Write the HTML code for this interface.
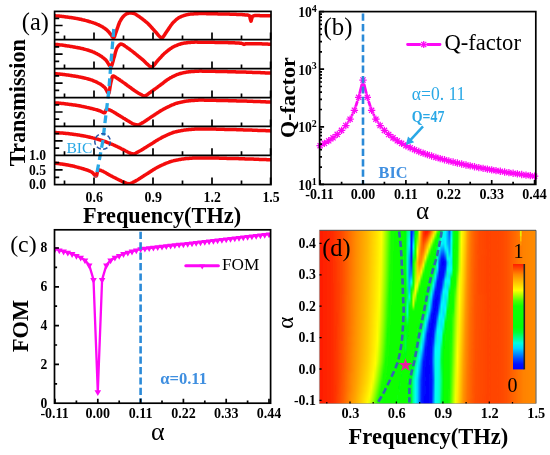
<!DOCTYPE html>
<html lang="en"><head><meta charset="utf-8"><title>BIC metasurface figure</title>
<style>html,body{margin:0;padding:0;background:#fff}body{width:550px;height:455px;overflow:hidden}svg{display:block}svg text{font-family:'Liberation Serif', 'DejaVu Serif', serif}</style>
</head><body>
<svg width="550" height="455" viewBox="0 0 550 455">
<rect width="550" height="455" fill="#fff"/>
<g id="panel-a">
<text x="162" y="222.6" text-anchor="middle" font-weight="bold" font-size="22.3px">Frequency(THz)</text>
<clipPath id="clipA"><rect x="54.6" y="11.4" width="216.4" height="173.2"/></clipPath>
<g clip-path="url(#clipA)" fill="none" stroke="#f40c0c" stroke-width="3.5" stroke-linejoin="round" stroke-linecap="round">
<polyline points="54.6,15.8 55.4,15.8 56.1,15.9 56.9,15.9 57.6,16 58.4,16 59.1,16.1 59.9,16.2 60.6,16.2 61.4,16.3 62.1,16.4 62.9,16.5 63.6,16.6 64.3,16.7 65.1,16.8 65.8,16.9 66.6,17 67.3,17.1 68.1,17.2 68.8,17.3 69.6,17.4 70.3,17.5 71.1,17.6 71.8,17.7 72.6,17.8 73.3,17.9 74.1,18.1 74.8,18.2 75,18.2 75.6,18.3 76.3,18.4 77.1,18.6 77.8,18.7 78.6,18.9 79.3,19 80.1,19.2 80.8,19.3 81.6,19.5 82.3,19.7 83.1,19.9 83.8,20 84.6,20.2 85.3,20.4 86.1,20.6 86.8,20.8 87.6,21 88.3,21.2 89.1,21.5 89.8,21.7 90,21.7 90.6,21.9 91.3,22.1 92.1,22.4 92.8,22.6 93.6,22.9 94.3,23.1 95.1,23.4 95.8,23.7 96.6,24 97.3,24.3 98.1,24.6 98.8,25 99.6,25.3 100,25.5 100.3,25.7 101.1,26.1 101.8,26.5 102.6,26.9 103.3,27.4 104.1,27.9 104.8,28.4 105.6,29 106.3,29.5 107,30.1 107.1,30.2 107.8,30.9 108.6,31.7 109.3,32.6 110.1,33.6 110.8,34.5 111,34.7 111.6,35.5 112.3,36.8 113.1,37.7 113.6,37.9 113.8,37.8 114.6,36.4 115.3,34.1 116,32.2 116.1,32 116.8,29.9 117.6,27.7 118.3,25.5 119.1,23.5 119.8,21.7 120,21.4 120.6,20.4 121.3,19.1 122.1,18 122.8,17 123.6,16.2 124,15.8 124.3,15.5 125.1,14.8 125.8,14.3 126.6,13.8 127.3,13.5 127.5,13.5 128.1,13.3 128.8,13.1 129.6,13 130.3,12.9 130.5,12.9 131.1,13 131.8,13 132.6,13.2 133.3,13.3 134,13.5 134.1,13.5 134.8,13.8 135.6,14.2 136.3,14.7 137.1,15.2 137.5,15.5 137.8,15.7 138.6,16.2 139.3,16.7 140.1,17.3 140.8,17.8 141,17.9 141.6,18.4 142.3,18.9 143.1,19.5 143.8,20.1 144.6,20.7 145.3,21.3 146.1,21.9 146.8,22.6 147.6,23.2 148,23.6 148.3,23.9 149.1,24.7 149.8,25.5 150.6,26.3 151.3,27.1 152.1,28 152.8,28.8 153.6,29.7 154.3,30.5 155,31.2 155.1,31.3 155.8,32.1 156.6,33 157.3,34 158.1,34.9 158.8,35.8 159.6,36.5 160.3,37.1 161.1,37.5 161.8,37.6 161.8,37.6 162.6,37.4 163.3,36.7 164.1,35.7 164.8,34.5 165.6,33.3 166.3,32.1 167,31.2 167.1,31 167.8,30 168.6,28.9 169.3,27.8 170.1,26.6 170.8,25.5 171.6,24.5 172.3,23.5 173,22.8 173.1,22.7 173.8,21.9 174.6,21.2 175.3,20.5 176.1,19.8 176.8,19.2 177.6,18.6 178.3,18.1 179.1,17.6 179.8,17.2 180,17.1 180.6,16.9 181.3,16.5 182.1,16.2 182.8,15.9 183.6,15.7 184.3,15.4 185.1,15.2 185.8,14.9 186.6,14.8 187.3,14.6 188.1,14.4 188.8,14.3 189.6,14.2 190,14.2 190.3,14.1 191.1,14.1 191.8,14 192.6,13.9 193.3,13.9 194.1,13.8 194.8,13.8 195.6,13.7 196.3,13.7 197.1,13.7 197.8,13.7 198.6,13.6 199.3,13.6 200,13.6 200.1,13.6 200.8,13.6 201.6,13.6 202.3,13.6 203.1,13.6 203.8,13.6 204.6,13.6 205.3,13.6 206.1,13.6 206.8,13.7 207.6,13.7 208.3,13.7 209.1,13.7 209.8,13.7 210.6,13.7 211.3,13.7 212.1,13.7 212.8,13.7 213.6,13.8 214.3,13.8 215.1,13.8 215.8,13.8 216.6,13.8 217.3,13.8 218.1,13.9 218.8,13.9 219.6,13.9 220.3,13.9 221.1,13.9 221.8,13.9 222.6,14 223.3,14 224.1,14 224.8,14 225.6,14 226.3,14.1 227.1,14.1 227.8,14.1 228.6,14.1 229.3,14.1 230,14.2 230.1,14.2 230.8,14.2 231.6,14.2 232.3,14.2 233.1,14.2 233.8,14.3 234.6,14.3 235.3,14.3 236.1,14.3 236.8,14.4 237.6,14.4 238.3,14.4 239.1,14.5 239.8,14.5 240.6,14.5 241.3,14.6 242.1,14.6 242.8,14.7 243.6,14.7 244.3,14.8 245.1,14.9 245.8,14.9 246.6,15 247.3,15.1 247.5,15.1 248.1,15.2 248.8,15.4 249.5,15.8 249.6,15.9 250.3,19.1 251,21.2 251.1,21.1 251.8,18.4 252.5,16.3 252.6,16.3 253.3,15.9 254.1,15.7 254.5,15.6 254.8,15.6 255.6,15.6 256.4,15.6 257.1,15.6 257.9,15.6 258.6,15.6 259.4,15.6 260.1,15.7 260.9,15.7 261.6,15.7 262.4,15.7 263.1,15.7 263.9,15.7 264.6,15.7 265.4,15.7 266.1,15.7 266.9,15.7 267.6,15.7 268.4,15.7 269.1,15.7 269.9,15.8 270.6,15.8 271,15.8"/>
<polyline points="54.6,44.4 55.4,44.4 56.1,44.5 56.9,44.6 57.6,44.6 58.4,44.7 59.1,44.8 59.9,44.9 60.6,45 61.4,45 62.1,45.1 62.9,45.2 63.6,45.3 64.3,45.4 65.1,45.5 65.8,45.7 66.6,45.8 67.3,45.9 68.1,46 68.8,46.1 69.6,46.2 70.3,46.4 71.1,46.5 71.8,46.6 72.6,46.7 73.3,46.9 74.1,47 74.8,47.1 75,47.2 75.6,47.3 76.3,47.4 77.1,47.5 77.8,47.7 78.6,47.8 79.3,48 80.1,48.1 80.8,48.3 81.6,48.5 82.3,48.6 83.1,48.8 83.8,49 84.6,49.2 85.3,49.4 86.1,49.6 86.8,49.8 87.6,50 88.3,50.2 89.1,50.5 89.8,50.7 90,50.8 90.6,51 91.3,51.2 92.1,51.5 92.8,51.8 93.6,52.1 94.3,52.5 95.1,52.8 95.8,53.2 96.6,53.6 97.3,54 98.1,54.4 98.8,54.8 99.6,55.3 100,55.5 100.3,55.7 101.1,56.2 101.8,56.7 102.6,57.3 103.3,57.8 104.1,58.5 104.8,59.1 105.6,59.8 106,60.2 106.3,60.6 107.1,61.7 107.8,62.9 108.6,64.2 109.3,65.3 110.1,66.2 110.8,66.6 111,66.6 111.6,66 112.3,63.9 113.1,61 113.8,58.2 114,57.7 114.6,55.7 115.3,52.8 116.1,50.2 116.8,48.2 117,48 117.6,47.1 118.3,46 119.1,45.2 119.8,44.5 120.6,44.1 121,44.1 121.3,44.1 122.1,44.3 122.8,44.6 123.6,45 124.3,45.5 125.1,46.1 125.8,46.6 126.6,47.2 127,47.4 127.3,47.7 128.1,48.2 128.8,48.7 129.6,49.2 130.3,49.8 131.1,50.4 131.8,50.9 132,51 132.6,51.5 133.3,52.1 134.1,52.7 134.8,53.3 135.6,53.9 136.3,54.5 137.1,55.2 137.5,55.5 137.8,55.8 138.6,56.4 139.3,57 140.1,57.6 140.8,58.2 141.6,58.8 142.3,59.4 142.6,59.7 143.1,60.1 143.8,60.8 144.6,61.6 145.3,62.3 146.1,63.1 146.8,63.7 147,63.8 147.6,64.3 148.3,65 149.1,65.7 149.8,66.3 150.6,66.7 151.3,66.9 151.5,66.9 152.1,66.8 152.8,66.4 153.6,65.7 154.3,64.9 155.1,63.9 155.8,62.9 156.6,61.9 157.3,60.9 158,60.2 158.1,60.1 158.8,59.3 159.6,58.5 160.3,57.7 161.1,56.9 161.8,56.1 162.6,55.3 163.3,54.5 164.1,53.8 164.8,53.1 165,53 165.6,52.5 166.3,51.9 167.1,51.2 167.8,50.6 168.6,50 169.3,49.5 170.1,48.9 170.8,48.4 171.6,47.9 172.3,47.4 173.1,47 173.8,46.6 174.6,46.2 175,46 175.3,45.9 176.1,45.6 176.8,45.3 177.6,45 178.3,44.7 179.1,44.4 179.8,44.2 180.6,44 181.3,43.7 182.1,43.5 182.8,43.4 183.6,43.2 184.3,43.1 185,43 185.1,43 185.8,42.9 186.6,42.8 187.3,42.7 188.1,42.6 188.8,42.5 189.6,42.4 190.3,42.4 191.1,42.3 191.8,42.3 192.6,42.2 193.3,42.2 194.1,42.2 194.8,42.1 195,42.1 195.6,42.1 196.3,42.1 197.1,42.1 197.8,42.2 198.6,42.2 199.3,42.2 200.1,42.2 200.8,42.2 201.6,42.2 202.3,42.2 203.1,42.2 203.8,42.2 204.6,42.2 205.3,42.2 206.1,42.2 206.8,42.2 207.6,42.2 208.3,42.2 209.1,42.3 209.8,42.3 210.6,42.3 211.3,42.3 212.1,42.3 212.8,42.3 213.6,42.3 214.3,42.3 215.1,42.4 215.8,42.4 216.6,42.4 217.3,42.4 218.1,42.4 218.8,42.4 219.6,42.4 220.3,42.5 221.1,42.5 221.8,42.5 222.6,42.5 223.3,42.5 224.1,42.5 224.8,42.6 225.6,42.6 226.3,42.6 227.1,42.6 227.8,42.6 228.6,42.7 229.3,42.7 230,42.7 230.1,42.7 230.8,42.7 231.6,42.7 232.3,42.8 233.1,42.8 233.8,42.8 234.6,42.8 235.3,42.9 236.1,42.9 236.8,42.9 237.6,43 238.3,43 239.1,43.1 239.8,43.2 240.6,43.2 241.3,43.3 242,43.4 242.1,43.4 242.8,43.8 243.6,44.3 244,44.4 244.3,44.3 245.1,44 245.8,43.7 246,43.7 246.6,43.7 247.3,43.7 248.1,43.7 248.8,43.7 249.6,43.7 250.3,43.7 251.1,43.7 251.8,43.7 252.6,43.7 253.3,43.7 254.1,43.7 254.8,43.7 255.6,43.7 256.4,43.7 257.1,43.7 257.9,43.7 258.6,43.8 259.4,43.8 260.1,43.8 260.9,43.8 261.6,43.8 262.4,43.9 263.1,43.9 263.9,43.9 264.6,44 265.4,44 266.1,44 266.9,44.1 267.6,44.1 268.4,44.2 269.1,44.2 269.9,44.3 270.6,44.3 271,44.4"/>
<polyline points="54.6,73.6 55.4,73.7 56.1,73.8 56.9,73.8 57.6,73.9 58.4,73.9 59.1,74 59.9,74.1 60.6,74.2 61.4,74.2 62.1,74.3 62.9,74.4 63.6,74.5 64.3,74.6 65.1,74.7 65.8,74.8 66.6,74.9 67.3,75 68.1,75.1 68.8,75.2 69.6,75.3 70.3,75.4 71.1,75.5 71.8,75.7 72.6,75.8 73.3,75.9 74.1,76 74.8,76.1 75,76.2 75.6,76.2 76.3,76.4 77.1,76.5 77.8,76.6 78.6,76.8 79.3,76.9 80.1,77.1 80.8,77.2 81.6,77.4 82.3,77.5 83.1,77.7 83.8,77.9 84.6,78 85.3,78.2 86.1,78.4 86.8,78.6 87.6,78.8 88.3,79 89.1,79.2 89.8,79.4 90,79.5 90.6,79.7 91.3,79.9 92.1,80.2 92.8,80.5 93.6,80.8 94.3,81.1 95.1,81.4 95.8,81.7 96.6,82.1 97.3,82.5 98.1,82.9 98.8,83.3 99.6,83.7 100,83.9 100.3,84.1 101.1,84.6 101.8,85.1 102.6,85.7 103.3,86.3 104.1,86.9 104.8,87.7 105,87.8 105.6,88.6 106.3,90 107.1,91.5 107.8,92.7 108.6,93.4 108.8,93.4 109.3,91.7 110.1,86.7 110.5,84.5 110.8,82.9 111.6,79.5 112.3,76.8 113,75.9 113.1,75.9 113.8,76.1 114.6,76.5 115.3,77.1 116,77.5 116.1,77.6 116.8,78.1 117.6,78.5 118.3,79 119.1,79.5 119.8,80 120.6,80.6 121.3,81.1 122.1,81.6 122.8,82.1 123.6,82.7 124.3,83.2 125,83.7 125.1,83.7 125.8,84.3 126.6,84.8 127.3,85.4 128.1,85.9 128.8,86.5 129.6,87 130.3,87.6 131.1,88.1 131.8,88.7 132.6,89.2 133.3,89.8 134.1,90.3 134.8,90.8 135,90.9 135.6,91.3 136.3,91.8 137.1,92.3 137.8,92.7 138.6,93.2 139.3,93.6 140.1,94 140.8,94.4 141,94.5 141.6,94.8 142.3,95.2 143.1,95.6 143.8,95.8 144.5,95.9 144.6,95.9 145.3,95.7 146.1,95.4 146.8,95 147.6,94.4 148.3,93.8 149.1,93.2 149.8,92.7 150,92.6 150.6,92.2 151.3,91.6 152.1,91.1 152.8,90.6 153.6,90.1 154.3,89.5 155.1,88.9 155.8,88.4 156.6,87.8 157.3,87.3 158.1,86.7 158.8,86.2 159.6,85.6 160,85.3 160.3,85.1 161.1,84.5 161.8,83.9 162.6,83.4 163.3,82.8 164.1,82.2 164.8,81.6 165.6,81 166.3,80.5 167.1,79.9 167.8,79.4 168.6,78.9 169.3,78.5 170,78.1 170.1,78 170.8,77.6 171.6,77.2 172.3,76.8 173.1,76.4 173.8,76.1 174.6,75.7 175.3,75.4 176.1,75 176.8,74.7 177.6,74.4 178.3,74.2 179.1,73.9 179.8,73.7 180,73.6 180.6,73.5 181.3,73.3 182.1,73.1 182.8,72.9 183.6,72.7 184.3,72.6 185.1,72.4 185.8,72.3 186.6,72.1 187.3,72 188.1,71.9 188.8,71.8 189.6,71.7 190,71.7 190.3,71.7 191.1,71.6 191.8,71.5 192.6,71.5 193.3,71.4 194.1,71.4 194.8,71.3 195.6,71.3 196.3,71.2 197.1,71.2 197.8,71.2 198.6,71.2 199.3,71.1 200,71.1 200.1,71.1 200.8,71.1 201.6,71.1 202.3,71.2 203.1,71.2 203.8,71.2 204.6,71.2 205.3,71.2 206.1,71.2 206.8,71.2 207.6,71.2 208.3,71.2 209.1,71.2 209.8,71.2 210.6,71.2 211.3,71.3 212.1,71.3 212.8,71.3 213.6,71.3 214.3,71.3 215.1,71.3 215.8,71.4 216.6,71.4 217.3,71.4 218.1,71.4 218.8,71.4 219.6,71.4 220.3,71.5 221.1,71.5 221.8,71.5 222.6,71.5 223.3,71.5 224.1,71.6 224.8,71.6 225.6,71.6 226.3,71.6 227.1,71.6 227.8,71.7 228.6,71.7 229.3,71.7 230,71.7 230.1,71.7 230.8,71.7 231.6,71.7 232.3,71.8 233.1,71.8 233.8,71.8 234.6,71.8 235.3,71.8 236.1,71.9 236.8,71.9 237.6,71.9 238.3,71.9 239.1,71.9 239.8,72 240.6,72 241.3,72 242.1,72 242.8,72.1 243.6,72.1 244.3,72.1 245.1,72.1 245.8,72.1 246.6,72.2 247.3,72.2 248.1,72.2 248.8,72.2 249.6,72.3 250.3,72.3 251.1,72.3 251.8,72.3 252.6,72.4 253.3,72.4 254.1,72.4 254.8,72.5 255.6,72.5 256.4,72.5 257.1,72.5 257.9,72.6 258.6,72.6 259.4,72.6 260.1,72.6 260.9,72.7 261.6,72.7 262.4,72.7 263.1,72.8 263.9,72.8 264.6,72.8 265.4,72.9 266.1,72.9 266.9,72.9 267.6,72.9 268.4,73 269.1,73 269.9,73 270.6,73.1 271,73.1"/>
<polyline points="54.6,102.9 55.4,102.9 56.1,103 56.9,103 57.6,103.1 58.4,103.1 59.1,103.2 59.9,103.3 60.6,103.3 61.4,103.4 62.1,103.5 62.9,103.6 63.6,103.6 64.3,103.7 65.1,103.8 65.8,103.9 66.6,104 67.3,104.1 68.1,104.2 68.8,104.3 69.6,104.4 70.3,104.5 71.1,104.6 71.8,104.7 72.6,104.8 73.3,104.9 74.1,105 74.8,105.1 75,105.1 75.6,105.2 76.3,105.3 77.1,105.4 77.8,105.6 78.6,105.7 79.3,105.8 80.1,106 80.8,106.1 81.6,106.3 82.3,106.4 83.1,106.6 83.8,106.7 84.6,106.9 85.3,107.1 86.1,107.2 86.8,107.4 87.6,107.6 88.3,107.7 89.1,107.9 89.8,108.1 90,108.1 90.6,108.3 91.3,108.5 92.1,108.6 92.8,108.8 93.6,109 94.3,109.2 95.1,109.4 95.8,109.6 96.6,109.8 97.3,110 98.1,110.3 98.8,110.5 99.6,110.8 100,110.9 100.3,111 101.1,111.4 101.8,111.8 102.6,112.2 103.3,112.6 104.1,112.8 104.6,112.8 104.8,112.7 105.6,111 106.3,109.4 106.6,109.2 107.1,109.3 107.8,109.4 108.6,109.7 109,109.8 109.3,109.9 110.1,110.2 110.8,110.5 111.6,110.9 112.3,111.3 113.1,111.7 113.8,112.2 114.6,112.6 115.3,113.1 116.1,113.6 116.8,114.1 117.6,114.5 118,114.8 118.3,115 119.1,115.4 119.8,115.9 120.6,116.3 121.3,116.8 122.1,117.2 122.8,117.7 123.6,118.2 124.3,118.6 125.1,119.1 125.8,119.6 126.6,120 127.3,120.5 128,120.8 128.1,120.9 128.8,121.3 129.6,121.8 130.3,122.3 131.1,122.7 131.8,123.2 132.6,123.6 133.3,123.9 134,124.1 134.1,124.2 134.8,124.4 135.6,124.7 136.3,124.8 137.1,125 137.5,125 137.8,125 138.6,124.8 139.3,124.5 140.1,124.1 140.8,123.7 141.6,123.3 142,123 142.3,122.9 143.1,122.4 143.8,122 144.6,121.5 145.3,121 146.1,120.5 146.8,120 147.6,119.5 148.3,118.9 149.1,118.4 149.8,117.9 150.6,117.3 151.3,116.8 152,116.4 152.1,116.4 152.8,115.9 153.6,115.4 154.3,114.9 155.1,114.4 155.8,113.9 156.6,113.4 157.3,112.9 158.1,112.4 158.8,112 159.6,111.5 160.3,111 161.1,110.6 161.8,110.1 162.6,109.7 163.3,109.3 164.1,108.9 164.8,108.5 165,108.4 165.6,108.1 166.3,107.7 167.1,107.4 167.8,107 168.6,106.6 169.3,106.3 170.1,105.9 170.8,105.5 171.6,105.2 172.3,104.9 173.1,104.6 173.8,104.3 174.6,104 175.3,103.7 176.1,103.4 176.8,103.2 177.6,103 178,102.9 178.3,102.8 179.1,102.6 179.8,102.4 180.6,102.3 181.3,102.1 182.1,101.9 182.8,101.8 183.6,101.6 184.3,101.5 185.1,101.3 185.8,101.2 186.6,101.1 187.3,101 188.1,100.9 188.8,100.8 189.6,100.7 190,100.7 190.3,100.7 191.1,100.6 191.8,100.5 192.6,100.5 193.3,100.4 194.1,100.4 194.8,100.3 195.6,100.3 196.3,100.2 197.1,100.2 197.8,100.2 198.6,100.1 199.3,100.1 200,100.1 200.1,100.1 200.8,100.1 201.6,100.1 202.3,100.1 203.1,100.1 203.8,100.1 204.6,100.2 205.3,100.2 206.1,100.2 206.8,100.2 207.6,100.2 208.3,100.2 209.1,100.2 209.8,100.2 210.6,100.2 211.3,100.2 212.1,100.3 212.8,100.3 213.6,100.3 214.3,100.3 215.1,100.3 215.8,100.3 216.6,100.4 217.3,100.4 218.1,100.4 218.8,100.4 219.6,100.4 220.3,100.4 221.1,100.5 221.8,100.5 222.6,100.5 223.3,100.5 224.1,100.5 224.8,100.6 225.6,100.6 226.3,100.6 227.1,100.6 227.8,100.6 228.6,100.7 229.3,100.7 230,100.7 230.1,100.7 230.8,100.7 231.6,100.7 232.3,100.7 233.1,100.8 233.8,100.8 234.6,100.8 235.3,100.8 236.1,100.8 236.8,100.9 237.6,100.9 238.3,100.9 239.1,100.9 239.8,100.9 240.6,101 241.3,101 242.1,101 242.8,101 243.6,101.1 244.3,101.1 245.1,101.1 245.8,101.1 246.6,101.1 247.3,101.2 248.1,101.2 248.8,101.2 249.6,101.2 250.3,101.3 251.1,101.3 251.8,101.3 252.6,101.3 253.3,101.4 254.1,101.4 254.8,101.4 255.6,101.5 256.4,101.5 257.1,101.5 257.9,101.5 258.6,101.6 259.4,101.6 260.1,101.6 260.9,101.7 261.6,101.7 262.4,101.7 263.1,101.7 263.9,101.8 264.6,101.8 265.4,101.8 266.1,101.9 266.9,101.9 267.6,101.9 268.4,102 269.1,102 269.9,102 270.6,102 271,102.1"/>
<polyline points="54.6,132.5 55.4,132.6 56.1,132.6 56.9,132.7 57.6,132.7 58.4,132.7 59.1,132.8 59.9,132.9 60.6,132.9 61.4,133 62.1,133 62.9,133.1 63.6,133.2 64.3,133.3 65.1,133.3 65.8,133.4 66.6,133.5 67.3,133.6 68.1,133.6 68.8,133.7 69.6,133.8 70.3,133.9 71.1,134 71.8,134.1 72.6,134.2 73.3,134.3 74.1,134.4 74.8,134.5 75,134.5 75.6,134.6 76.3,134.7 77.1,134.8 77.8,134.9 78.6,135 79.3,135.1 80.1,135.3 80.8,135.4 81.6,135.5 82.3,135.7 83.1,135.8 83.8,135.9 84.6,136.1 85.3,136.2 86.1,136.4 86.8,136.6 87.6,136.7 88.3,136.9 89.1,137 89.8,137.2 90,137.2 90.6,137.4 91.3,137.6 92.1,137.7 92.8,137.9 93.6,138.1 94.3,138.3 95.1,138.5 95.8,138.7 96.6,138.9 97.3,139.1 98.1,139.3 98.8,139.6 99.6,139.8 100.3,140 101.1,140.2 101.8,140.5 102.6,140.7 103,140.9 103.3,141 104.1,141.2 104.8,141.5 105.6,141.7 106.3,142 107.1,142.3 107.8,142.6 108.6,142.9 109.3,143.2 110.1,143.5 110.8,143.8 111.6,144.1 112.3,144.4 113.1,144.7 113.8,145.1 114.6,145.4 115,145.6 115.3,145.7 116.1,146.1 116.8,146.4 117.6,146.8 118.3,147.1 119.1,147.5 119.8,147.9 120.6,148.3 121.3,148.7 122.1,149.1 122.8,149.5 123.6,149.8 124.3,150.2 125,150.5 125.1,150.6 125.8,151 126.6,151.4 127.3,151.8 128.1,152.2 128.8,152.6 129.6,152.9 130,153 130.3,153.2 131.1,153.4 131.8,153.6 132.6,153.8 133.3,153.9 133.5,153.9 134.1,153.8 134.8,153.6 135.6,153.3 136.3,152.8 137.1,152.4 137.8,152 138,151.9 138.6,151.6 139.3,151.2 140.1,150.8 140.8,150.4 141.6,150 142.3,149.5 143.1,149.1 143.8,148.6 144.6,148.1 145.3,147.6 146.1,147.2 146.8,146.7 147.6,146.2 148.3,145.7 149.1,145.3 149.8,144.8 150,144.7 150.6,144.4 151.3,143.9 152.1,143.4 152.8,143 153.6,142.5 154.3,142 155.1,141.5 155.8,141.1 156.6,140.6 157.3,140.1 158.1,139.7 158.8,139.2 159.6,138.8 160.3,138.4 161.1,137.9 161.8,137.5 162.6,137.2 163,137 163.3,136.8 164.1,136.4 164.8,136.1 165.6,135.7 166.3,135.4 167.1,135 167.8,134.7 168.6,134.3 169.3,134 170.1,133.7 170.8,133.4 171.6,133.1 172.3,132.8 173.1,132.5 173.8,132.3 174.6,132.1 175.3,131.9 176,131.7 176.1,131.7 176.8,131.5 177.6,131.4 178.3,131.2 179.1,131 179.8,130.9 180.6,130.8 181.3,130.6 182.1,130.5 182.8,130.4 183.6,130.2 184.3,130.1 185.1,130 185.8,129.9 186.6,129.8 187.3,129.7 188.1,129.7 188.8,129.6 189.6,129.5 190,129.5 190.3,129.5 191.1,129.4 191.8,129.3 192.6,129.3 193.3,129.2 194.1,129.2 194.8,129.1 195.6,129.1 196.3,129 197.1,129 197.8,129 198.6,129 199.3,128.9 200,128.9 200.1,128.9 200.8,128.9 201.6,128.9 202.3,128.9 203.1,128.9 203.8,129 204.6,129 205.3,129 206.1,129 206.8,129 207.6,129 208.3,129 209.1,129 209.8,129 210.6,129 211.3,129.1 212.1,129.1 212.8,129.1 213.6,129.1 214.3,129.1 215.1,129.1 215.8,129.1 216.6,129.2 217.3,129.2 218.1,129.2 218.8,129.2 219.6,129.2 220.3,129.3 221.1,129.3 221.8,129.3 222.6,129.3 223.3,129.3 224.1,129.3 224.8,129.4 225.6,129.4 226.3,129.4 227.1,129.4 227.8,129.4 228.6,129.5 229.3,129.5 230,129.5 230.1,129.5 230.8,129.5 231.6,129.5 232.3,129.5 233.1,129.6 233.8,129.6 234.6,129.6 235.3,129.6 236.1,129.6 236.8,129.7 237.6,129.7 238.3,129.7 239.1,129.7 239.8,129.8 240.6,129.8 241.3,129.8 242.1,129.8 242.8,129.8 243.6,129.9 244.3,129.9 245.1,129.9 245.8,129.9 246.6,130 247.3,130 248.1,130 248.8,130 249.6,130.1 250.3,130.1 251.1,130.1 251.8,130.1 252.6,130.2 253.3,130.2 254.1,130.2 254.8,130.2 255.6,130.3 256.4,130.3 257.1,130.3 257.9,130.4 258.6,130.4 259.4,130.4 260.1,130.4 260.9,130.5 261.6,130.5 262.4,130.5 263.1,130.6 263.9,130.6 264.6,130.6 265.4,130.6 266.1,130.7 266.9,130.7 267.6,130.7 268.4,130.8 269.1,130.8 269.9,130.8 270.6,130.9 271,130.9"/>
<polyline points="54.6,163.2 55.4,163.3 56.1,163.3 56.9,163.4 57.6,163.5 58.4,163.6 59.1,163.7 59.9,163.8 60.6,163.9 61.4,164 62.1,164.1 62.9,164.2 63.6,164.3 64.3,164.5 65.1,164.6 65.8,164.7 66.6,164.8 67.3,165 68.1,165.1 68.8,165.2 69.6,165.4 70,165.5 70.3,165.5 71.1,165.7 71.8,165.8 72.6,166 73.3,166.1 74.1,166.3 74.8,166.5 75.6,166.7 76.3,166.9 77.1,167.1 77.8,167.3 78.6,167.5 79.3,167.7 80.1,167.9 80.8,168.1 81.6,168.3 82.3,168.6 83.1,168.8 83.8,169 84.6,169.3 85,169.4 85.3,169.5 86.1,169.7 86.8,170 87.6,170.2 88.3,170.5 89.1,170.8 89.8,171.1 90.6,171.5 91.3,171.8 92,172.2 92.1,172.3 92.8,172.9 93.6,173.8 94.3,174.8 95.1,175.6 95.8,176.1 96.2,176.1 96.6,175.5 97.3,172.4 98.1,170 98.2,170 98.8,170 99.6,170.1 100,170.2 100.3,170.3 101.1,170.5 101.8,170.8 102.6,171.1 103.3,171.5 104.1,171.9 104.8,172.3 105.6,172.7 106.3,173.2 107.1,173.6 107.8,174.1 108.6,174.5 109.3,174.9 110,175.3 110.1,175.3 110.8,175.7 111.6,176.1 112.3,176.5 113.1,176.9 113.8,177.3 114.6,177.7 115.3,178 116.1,178.4 116.8,178.8 117.6,179.2 118.3,179.6 119.1,179.9 119.8,180.3 120,180.3 120.6,180.6 121.3,181 122.1,181.4 122.8,181.7 123.6,182 124.3,182.4 125,182.6 125.1,182.6 125.8,182.9 126.6,183.2 127.3,183.4 128.1,183.6 128.8,183.7 129,183.7 129.6,183.7 130.3,183.5 131.1,183.2 131.8,182.9 132.6,182.5 133.3,182.1 134,181.8 134.1,181.7 134.8,181.3 135.6,181 136.3,180.5 137.1,180.1 137.8,179.7 138.6,179.2 139.3,178.7 140.1,178.2 140.8,177.8 141.6,177.3 142.3,176.8 143.1,176.3 143.8,175.8 144.6,175.3 145.3,174.8 146,174.4 146.1,174.4 146.8,173.9 147.6,173.5 148.3,173 149.1,172.5 149.8,172 150.6,171.5 151.3,171 152.1,170.6 152.8,170.1 153.6,169.6 154.3,169.1 155.1,168.7 155.8,168.2 156.6,167.8 157.3,167.4 158.1,167 158.8,166.6 159.6,166.2 160,166 160.3,165.9 161.1,165.5 161.8,165.2 162.6,164.8 163.3,164.5 164.1,164.1 164.8,163.8 165.6,163.5 166.3,163.2 167.1,162.9 167.8,162.6 168.6,162.3 169.3,162 170.1,161.8 170.8,161.5 171.6,161.3 172.3,161.1 173.1,160.9 173.8,160.7 174,160.7 174.6,160.5 175.3,160.4 176.1,160.2 176.8,160.1 177.6,159.9 178.3,159.8 179.1,159.6 179.8,159.5 180.6,159.4 181.3,159.2 182.1,159.1 182.8,159 183.6,158.9 184.3,158.8 185.1,158.7 185.8,158.6 186.6,158.5 187.3,158.5 188,158.4 188.1,158.4 188.8,158.4 189.6,158.3 190.3,158.3 191.1,158.2 191.8,158.2 192.6,158.1 193.3,158.1 194.1,158 194.8,158 195.6,158 196.3,157.9 197.1,157.9 197.8,157.9 198.6,157.9 199.3,157.9 200,157.9 200.1,157.9 200.8,157.9 201.6,157.9 202.3,157.9 203.1,157.9 203.8,157.9 204.6,157.9 205.3,157.9 206.1,157.9 206.8,157.9 207.6,157.9 208.3,157.9 209.1,157.9 209.8,158 210.6,158 211.3,158 212.1,158 212.8,158 213.6,158 214.3,158 215.1,158.1 215.8,158.1 216.6,158.1 217.3,158.1 218.1,158.1 218.8,158.1 219.6,158.2 220.3,158.2 221.1,158.2 221.8,158.2 222.6,158.2 223.3,158.3 224.1,158.3 224.8,158.3 225.6,158.3 226.3,158.3 227.1,158.4 227.8,158.4 228.6,158.4 229.3,158.4 230,158.4 230.1,158.4 230.8,158.4 231.6,158.5 232.3,158.5 233.1,158.5 233.8,158.5 234.6,158.5 235.3,158.6 236.1,158.6 236.8,158.6 237.6,158.6 238.3,158.6 239.1,158.7 239.8,158.7 240.6,158.7 241.3,158.7 242.1,158.8 242.8,158.8 243.6,158.8 244.3,158.8 245.1,158.9 245.8,158.9 246.6,158.9 247.3,158.9 248.1,159 248.8,159 249.6,159 250.3,159 251.1,159.1 251.8,159.1 252.6,159.1 253.3,159.1 254.1,159.2 254.8,159.2 255.6,159.2 256.4,159.2 257.1,159.3 257.9,159.3 258.6,159.3 259.4,159.4 260.1,159.4 260.9,159.4 261.6,159.4 262.4,159.5 263.1,159.5 263.9,159.5 264.6,159.6 265.4,159.6 266.1,159.6 266.9,159.7 267.6,159.7 268.4,159.7 269.1,159.8 269.9,159.8 270.6,159.8 271,159.8"/>
</g>
<path d="M113.8 29 L111 62 L108.7 92 L106 114 L102.8 141 L96.2 177" fill="none" stroke="#29a8e6" stroke-width="3.3" stroke-dasharray="7.8 4.6"/>
<circle cx="102.6" cy="141.5" r="7.8" fill="none" stroke="#2455a8" stroke-width="1.5" stroke-dasharray="4.6 2.4"/>
<text x="66.5" y="153" font-size="15.5px" fill="#29a8e6">BIC</text>
<g stroke="#000" stroke-width="1.7" fill="none" stroke-linecap="butt"><rect x="54.6" y="11.4" width="216.4" height="173.2"/><line x1="54.6" y1="39.6" x2="271.0" y2="39.6"/><line x1="54.6" y1="68.6" x2="271.0" y2="68.6"/><line x1="54.6" y1="97.6" x2="271.0" y2="97.6"/><line x1="54.6" y1="126.4" x2="271.0" y2="126.4"/><line x1="54.6" y1="155.3" x2="271.0" y2="155.3"/><path d="M94 39.6v-7M153 39.6v-7M212 39.6v-7M270.6 39.6v-7M64.5 39.6v-4M123.5 39.6v-4M182.5 39.6v-4M241.5 39.6v-4M54.6 25.5h8M54.6 32.5h4.6M54.6 18.4h4.6M94 68.6v-7M153 68.6v-7M212 68.6v-7M270.6 68.6v-7M64.5 68.6v-4M123.5 68.6v-4M182.5 68.6v-4M241.5 68.6v-4M54.6 54.1h8M54.6 61.3h4.6M54.6 46.9h4.6M94 97.6v-7M153 97.6v-7M212 97.6v-7M270.6 97.6v-7M64.5 97.6v-4M123.5 97.6v-4M182.5 97.6v-4M241.5 97.6v-4M54.6 83.1h8M54.6 90.3h4.6M54.6 75.8h4.6M94 126.4v-7M153 126.4v-7M212 126.4v-7M270.6 126.4v-7M64.5 126.4v-4M123.5 126.4v-4M182.5 126.4v-4M241.5 126.4v-4M54.6 112h8M54.6 119.2h4.6M54.6 104.8h4.6M94 155.3v-7M153 155.3v-7M212 155.3v-7M270.6 155.3v-7M64.5 155.3v-4M123.5 155.3v-4M182.5 155.3v-4M241.5 155.3v-4M54.6 140.9h8M54.6 148.1h4.6M54.6 133.6h4.6M94 184.6v-7M153 184.6v-7M212 184.6v-7M270.6 184.6v-7M64.5 184.6v-4M123.5 184.6v-4M182.5 184.6v-4M241.5 184.6v-4M54.6 169.9h8M54.6 177.3h4.6M54.6 162.6h4.6"/></g>
<g font-weight="bold" font-size="13.8px" text-anchor="middle">
<text x="94.2" y="201.8">0.6</text>
<text x="153.2" y="201.8">0.9</text>
<text x="212.2" y="201.8">1.2</text>
<text x="271.1" y="201.8">1.5</text>
</g>
<g font-weight="bold" font-size="13.6px" text-anchor="end">
<text x="46" y="160">1.0</text>
<text x="46" y="174.6">0.5</text>
<text x="46" y="188.6">0.0</text>
</g>
<text x="21.8" y="29.6" font-size="24.4px">(a)</text>
<text transform="translate(25.2 102.6) rotate(-90)" text-anchor="middle" font-weight="bold" font-size="22.3px">Transmission</text>
</g>
<g id="panel-b">
<path d="M351.9 115.5L352.6 114M355.7 106.4L357.4 101.2M359.7 93.3L362 84M364 84L366.3 93.3M368.6 101.2L370.3 106.4M373.4 114L374.1 115.5" fill="none" stroke="#fd08f6" stroke-width="2.8"/>
<polyline points="320.1,145.7 324.4,143.4 328.7,140.8 333,137.8 337.3,134.4 341.6,130.4 345.8,125.5 350.1,119.2 354.4,110.3 358.7,97.3 363,80 367.3,97.3 371.6,110.3 375.9,119.2 380.2,125.5 384.4,130.4 388.7,134.4 393,137.8 397.3,140.8 401.6,143.4 405.9,145.7 410.2,147.8 414.5,149.7 418.8,151.5 423.1,153.1 427.4,154.6 431.6,156 435.9,157.4 440.2,158.6 444.5,159.8 448.8,160.9 453.1,162 457.4,163 461.7,164 466,165 470.2,165.9 474.5,166.7 478.8,167.6 483.1,168.4 487.4,169.1 491.7,169.9 496,170.6 500.3,171.3 504.6,172 508.9,172.6 513.1,173.3 517.4,173.9 521.7,174.5 526,175.1 530.3,175.6 534.6,176.2" fill="none" stroke="#fd08f6" stroke-width="1.5" stroke-linejoin="round" opacity=".85"/>
<path d="M316.4 145.7h7.4M320.1 142v7.4M317.5 143.1l5.2 5.2M317.5 148.3l5.2 -5.2M320.7 143.4h7.4M324.4 139.7v7.4M321.8 140.8l5.2 5.2M321.8 146l5.2 -5.2M325 140.8h7.4M328.7 137.1v7.4M326.1 138.2l5.2 5.2M326.1 143.4l5.2 -5.2M329.3 137.8h7.4M333 134.1v7.4M330.4 135.2l5.2 5.2M330.4 140.5l5.2 -5.2M333.6 134.4h7.4M337.3 130.7v7.4M334.6 131.8l5.2 5.2M334.6 137.1l5.2 -5.2M337.9 130.4h7.4M341.6 126.7v7.4M338.9 127.8l5.2 5.2M338.9 133l5.2 -5.2M342.1 125.5h7.4M345.8 121.8v7.4M343.2 122.9l5.2 5.2M343.2 128.1l5.2 -5.2M346.4 119.2h7.4M350.1 115.5v7.4M347.5 116.6l5.2 5.2M347.5 121.8l5.2 -5.2M350.7 110.3h7.4M354.4 106.6v7.4M351.8 107.6l5.2 5.2M351.8 112.9l5.2 -5.2M355 97.3h7.4M358.7 93.6v7.4M356.1 94.7l5.2 5.2M356.1 99.9l5.2 -5.2M359.3 80h7.4M363 76.3v7.4M360.4 77.4l5.2 5.2M360.4 82.6l5.2 -5.2M363.6 97.3h7.4M367.3 93.6v7.4M364.7 94.7l5.2 5.2M364.7 99.9l5.2 -5.2M367.9 110.3h7.4M371.6 106.6v7.4M369 107.6l5.2 5.2M369 112.9l5.2 -5.2M372.2 119.2h7.4M375.9 115.5v7.4M373.3 116.6l5.2 5.2M373.3 121.8l5.2 -5.2M376.5 125.5h7.4M380.2 121.8v7.4M377.5 122.9l5.2 5.2M377.5 128.1l5.2 -5.2M380.8 130.4h7.4M384.4 126.7v7.4M381.8 127.8l5.2 5.2M381.8 133l5.2 -5.2M385 134.4h7.4M388.7 130.7v7.4M386.1 131.8l5.2 5.2M386.1 137.1l5.2 -5.2M389.3 137.8h7.4M393 134.1v7.4M390.4 135.2l5.2 5.2M390.4 140.5l5.2 -5.2M393.6 140.8h7.4M397.3 137.1v7.4M394.7 138.2l5.2 5.2M394.7 143.4l5.2 -5.2M397.9 143.4h7.4M401.6 139.7v7.4M399 140.8l5.2 5.2M399 146l5.2 -5.2M402.2 145.7h7.4M405.9 142v7.4M403.3 143.1l5.2 5.2M403.3 148.3l5.2 -5.2M406.5 147.8h7.4M410.2 144.1v7.4M407.6 145.2l5.2 5.2M407.6 150.4l5.2 -5.2M410.8 149.7h7.4M414.5 146v7.4M411.9 147.1l5.2 5.2M411.9 152.3l5.2 -5.2M415.1 151.5h7.4M418.8 147.8v7.4M416.2 148.8l5.2 5.2M416.2 154.1l5.2 -5.2M419.4 153.1h7.4M423.1 149.4v7.4M420.4 150.5l5.2 5.2M420.4 155.7l5.2 -5.2M423.7 154.6h7.4M427.4 150.9v7.4M424.7 152l5.2 5.2M424.7 157.2l5.2 -5.2M427.9 156h7.4M431.6 152.3v7.4M429 153.4l5.2 5.2M429 158.6l5.2 -5.2M432.2 157.4h7.4M435.9 153.7v7.4M433.3 154.8l5.2 5.2M433.3 160l5.2 -5.2M436.5 158.6h7.4M440.2 154.9v7.4M437.6 156l5.2 5.2M437.6 161.2l5.2 -5.2M440.8 159.8h7.4M444.5 156.1v7.4M441.9 157.2l5.2 5.2M441.9 162.4l5.2 -5.2M445.1 160.9h7.4M448.8 157.2v7.4M446.2 158.3l5.2 5.2M446.2 163.6l5.2 -5.2M449.4 162h7.4M453.1 158.3v7.4M450.5 159.4l5.2 5.2M450.5 164.6l5.2 -5.2M453.7 163h7.4M457.4 159.3v7.4M454.8 160.4l5.2 5.2M454.8 165.7l5.2 -5.2M458 164h7.4M461.7 160.3v7.4M459.1 161.4l5.2 5.2M459.1 166.6l5.2 -5.2M462.3 165h7.4M466 161.3v7.4M463.3 162.3l5.2 5.2M463.3 167.6l5.2 -5.2M466.6 165.9h7.4M470.2 162.2v7.4M467.6 163.2l5.2 5.2M467.6 168.5l5.2 -5.2M470.8 166.7h7.4M474.5 163v7.4M471.9 164.1l5.2 5.2M471.9 169.3l5.2 -5.2M475.1 167.6h7.4M478.8 163.9v7.4M476.2 164.9l5.2 5.2M476.2 170.2l5.2 -5.2M479.4 168.4h7.4M483.1 164.7v7.4M480.5 165.7l5.2 5.2M480.5 171l5.2 -5.2M483.7 169.1h7.4M487.4 165.4v7.4M484.8 166.5l5.2 5.2M484.8 171.7l5.2 -5.2M488 169.9h7.4M491.7 166.2v7.4M489.1 167.3l5.2 5.2M489.1 172.5l5.2 -5.2M492.3 170.6h7.4M496 166.9v7.4M493.4 168l5.2 5.2M493.4 173.2l5.2 -5.2M496.6 171.3h7.4M500.3 167.6v7.4M497.7 168.7l5.2 5.2M497.7 173.9l5.2 -5.2M500.9 172h7.4M504.6 168.3v7.4M502 169.4l5.2 5.2M502 174.6l5.2 -5.2M505.2 172.6h7.4M508.9 168.9v7.4M506.2 170l5.2 5.2M506.2 175.2l5.2 -5.2M509.4 173.3h7.4M513.1 169.6v7.4M510.5 170.6l5.2 5.2M510.5 175.9l5.2 -5.2M513.7 173.9h7.4M517.4 170.2v7.4M514.8 171.3l5.2 5.2M514.8 176.5l5.2 -5.2M518 174.5h7.4M521.7 170.8v7.4M519.1 171.9l5.2 5.2M519.1 177.1l5.2 -5.2M522.3 175.1h7.4M526 171.4v7.4M523.4 172.5l5.2 5.2M523.4 177.7l5.2 -5.2M526.6 175.6h7.4M530.3 171.9v7.4M527.7 173l5.2 5.2M527.7 178.3l5.2 -5.2M530.9 176.2h7.4M534.6 172.5v7.4M532 173.6l5.2 5.2M532 178.8l5.2 -5.2" fill="none" stroke="#fd08f6" stroke-width="1.25"/>
<line x1="363" y1="13.6" x2="363" y2="184.4" stroke="#2b8ad8" stroke-width="2.6" stroke-dasharray="7.2 3.2"/>
<path d="M407.6 44.5H419.8M427.6 44.5H440" fill="none" stroke="#fd08f6" stroke-width="2.9" stroke-linecap="round"/>
<path d="M420.1 44.5h7.2M423.7 40.9v7.2M421.2 42l5.1 5.1M421.2 47l5.1 -5.1" fill="none" stroke="#fd08f6" stroke-width="1.25"/>
<text x="444.4" y="49.6" font-size="22.6px">Q-factor</text>
<text x="411.8" y="99.6" font-size="18.4px" fill="#29a8e6" textLength="53.6" lengthAdjust="spacingAndGlyphs">&#945;=0. 11</text>
<text x="411.8" y="122" font-size="17.4px" font-weight="bold" fill="#29a8e6" textLength="32.6" lengthAdjust="spacingAndGlyphs">Q=47</text>
<path d="M423 126.4L409 141.6" fill="none" stroke="#29a8e6" stroke-width="2.5"/>
<path d="M405.8 145L408 136.6L414.2 142.2z" fill="#29a8e6"/>
<text x="378.6" y="178.2" font-size="16.3px" font-weight="bold" fill="#3f8fe0">BIC</text>
<g stroke="#000" stroke-width="1.7" fill="none"><rect x="319.6" y="11.6" width="216.19999999999993" height="172.8"/><path d="M320.1 184.4v-4.5M363 184.4v-4.5M405.9 184.4v-4.5M448.8 184.4v-4.5M491.7 184.4v-4.5M534.6 184.4v-4.5M341.6 184.4v-2.6M384.4 184.4v-2.6M427.4 184.4v-2.6M470.2 184.4v-2.6M513.1 184.4v-2.6M319.6 184.4h4.5M319.6 167.1h2.4M319.6 156.9h2.4M319.6 149.7h2.4M319.6 144.1h2.4M319.6 139.6h2.4M319.6 135.7h2.4M319.6 132.4h2.4M319.6 129.4h2.4M319.6 126.8h4.5M319.6 109.5h2.4M319.6 99.3h2.4M319.6 92.1h2.4M319.6 86.5h2.4M319.6 82h2.4M319.6 78.1h2.4M319.6 74.8h2.4M319.6 71.8h2.4M319.6 69.2h4.5M319.6 51.9h2.4M319.6 41.7h2.4M319.6 34.5h2.4M319.6 28.9h2.4M319.6 24.4h2.4M319.6 20.5h2.4M319.6 17.2h2.4M319.6 14.2h2.4M319.6 11.6h4.5"/></g>
<g font-weight="bold" font-size="13.6px">
<text x="298.2" y="190">10<tspan dy="-5.4" font-size="10px">1</tspan></text>
<text x="298.2" y="132.4">10<tspan dy="-5.4" font-size="10px">2</tspan></text>
<text x="298.2" y="74.8">10<tspan dy="-5.4" font-size="10px">3</tspan></text>
<text x="298.2" y="17.2">10<tspan dy="-5.4" font-size="10px">4</tspan></text>
</g>
<g font-weight="bold" font-size="14px" text-anchor="middle">
<text x="319.5" y="199">-0.11</text>
<text x="363" y="199">0.00</text>
<text x="405.9" y="199">0.11</text>
<text x="448.8" y="199">0.22</text>
<text x="491.7" y="199">0.33</text>
<text x="534.6" y="199">0.44</text>
</g>
<text x="323.6" y="34.8" font-size="24.8px">(b)</text>
<text transform="translate(295 97.6) rotate(-90)" text-anchor="middle" font-weight="bold" font-size="22px">Q-factor</text>
<text x="422.6" y="219" text-anchor="middle" font-size="25px">&#945;</text>
</g>
<g id="panel-c">
<rect x="0" y="229.4" width="276" height="225.6" fill="#fff"/>
<clipPath id="clipC"><rect x="54.5" y="229.8" width="216.10000000000002" height="173.39999999999998"/></clipPath>
<g clip-path="url(#clipC)">
<polyline points="55,249 59.3,250.1 63.6,251.3 67.8,252.5 72.1,253.8 76.4,255.6 80.7,257.5 85,260.2 89.2,265.1 93.5,279.6 97.8,391.9 102.1,279.6 106.4,265.1 110.6,260.2 114.9,257.5 119.2,255.6 123.5,253.8 127.8,252.5 132,251.3 136.3,250.1 140.6,249 144.9,248.5 149.2,248 153.4,247.5 157.7,247 162,246.5 166.3,246 170.6,245.5 174.8,245 179.1,244.5 183.4,244.1 187.7,243.6 192,243.1 196.2,242.6 200.5,242.1 204.8,241.6 209.1,241.1 213.4,240.6 217.6,240.1 221.9,239.6 226.2,239.1 230.5,238.6 234.8,238.2 239,237.7 243.3,237.2 247.6,236.7 251.9,236.2 256.2,235.7 260.4,235.2 264.7,234.7 269,234.2" fill="none" stroke="#fd08f6" stroke-width="2.3" stroke-linejoin="round"/>
<path d="M51.7 247.3h6.6l-3.3 5.8zM56 248.4h6.6l-3.3 5.8zM60.3 249.6h6.6l-3.3 5.8zM64.5 250.8h6.6l-3.3 5.8zM68.8 252.1h6.6l-3.3 5.8zM73.1 253.9h6.6l-3.3 5.8zM77.4 255.8h6.6l-3.3 5.8zM81.7 258.5h6.6l-3.3 5.8zM85.9 263.4h6.6l-3.3 5.8zM90.2 277.9h6.6l-3.3 5.8zM94.5 390.2h6.6l-3.3 5.8zM98.8 277.9h6.6l-3.3 5.8zM103.1 263.4h6.6l-3.3 5.8zM107.3 258.5h6.6l-3.3 5.8zM111.6 255.8h6.6l-3.3 5.8zM115.9 253.9h6.6l-3.3 5.8zM120.2 252.1h6.6l-3.3 5.8zM124.5 250.8h6.6l-3.3 5.8zM128.7 249.6h6.6l-3.3 5.8zM133 248.4h6.6l-3.3 5.8zM137.3 247.3h6.6l-3.3 5.8zM141.6 246.8h6.6l-3.3 5.8zM145.9 246.3h6.6l-3.3 5.8zM150.1 245.8h6.6l-3.3 5.8zM154.4 245.3h6.6l-3.3 5.8zM158.7 244.8h6.6l-3.3 5.8zM163 244.3h6.6l-3.3 5.8zM167.3 243.8h6.6l-3.3 5.8zM171.5 243.3h6.6l-3.3 5.8zM175.8 242.8h6.6l-3.3 5.8zM180.1 242.4h6.6l-3.3 5.8zM184.4 241.9h6.6l-3.3 5.8zM188.7 241.4h6.6l-3.3 5.8zM192.9 240.9h6.6l-3.3 5.8zM197.2 240.4h6.6l-3.3 5.8zM201.5 239.9h6.6l-3.3 5.8zM205.8 239.4h6.6l-3.3 5.8zM210.1 238.9h6.6l-3.3 5.8zM214.3 238.4h6.6l-3.3 5.8zM218.6 237.9h6.6l-3.3 5.8zM222.9 237.4h6.6l-3.3 5.8zM227.2 236.9h6.6l-3.3 5.8zM231.5 236.5h6.6l-3.3 5.8zM235.7 236h6.6l-3.3 5.8zM240 235.5h6.6l-3.3 5.8zM244.3 235h6.6l-3.3 5.8zM248.6 234.5h6.6l-3.3 5.8zM252.9 234h6.6l-3.3 5.8zM257.1 233.5h6.6l-3.3 5.8zM261.4 233h6.6l-3.3 5.8zM265.7 232.5h6.6l-3.3 5.8z" fill="#fd08f6"/>
</g>
<line x1="140.6" y1="231.8" x2="140.6" y2="403.2" stroke="#2b8ad8" stroke-width="2.6" stroke-dasharray="7.2 3.2"/>
<line x1="185.8" y1="265.7" x2="218.4" y2="265.7" stroke="#fd08f6" stroke-width="3" stroke-linecap="round"/>
<path d="M199.4 264.6h5.6l-2.8 5z" fill="#fd08f6"/>
<text x="222" y="270.4" font-size="17.2px">FOM</text>
<text x="160.2" y="383.8" font-size="16.6px" font-weight="bold" fill="#3f8fe0">&#945;=0.11</text>
<g stroke="#000" stroke-width="1.7" fill="none"><rect x="54.5" y="229.8" width="216.10000000000002" height="173.39999999999998"/><path d="M55 403.2v-4.5M97.8 403.2v-4.5M140.6 403.2v-4.5M183.4 403.2v-4.5M226.2 403.2v-4.5M269 403.2v-4.5M76.4 403.2v-2.6M119.2 403.2v-2.6M162 403.2v-2.6M204.8 403.2v-2.6M247.6 403.2v-2.6M54.5 364.4h4.5M54.5 325.6h4.5M54.5 286.8h4.5M54.5 248h4.5M54.5 383.8h2.6M54.5 345h2.6M54.5 306.2h2.6M54.5 267.4h2.6"/></g>
<g font-weight="bold" font-size="13.6px" text-anchor="end">
<text x="47.4" y="407.5">0</text>
<text x="47.4" y="368.7">2</text>
<text x="47.4" y="329.9">4</text>
<text x="47.4" y="291.1">6</text>
<text x="47.4" y="252.3">8</text>
</g>
<g font-weight="bold" font-size="14px" text-anchor="middle">
<text x="54.6" y="417.6">-0.11</text>
<text x="97.8" y="417.6">0.00</text>
<text x="140.6" y="417.6">0.11</text>
<text x="183.4" y="417.6">0.22</text>
<text x="226.2" y="417.6">0.33</text>
<text x="269" y="417.6">0.44</text>
</g>
<text x="10.2" y="252" font-size="23.8px">(c)</text>
<text transform="translate(28 326) rotate(-90)" text-anchor="middle" font-weight="bold" font-size="22.4px">FOM</text>
<text x="157.8" y="440.4" text-anchor="middle" font-size="26px">&#945;</text>
</g>
<g id="panel-d">
<defs><linearGradient id="h0"><stop offset="0.0000" stop-color="#ff1c00"/><stop offset="0.0555" stop-color="#ff2900"/><stop offset="0.0832" stop-color="#ff3800"/><stop offset="0.1109" stop-color="#ff5100"/><stop offset="0.1664" stop-color="#ff8900"/><stop offset="0.2218" stop-color="#ffb400"/><stop offset="0.2680" stop-color="#ffe300"/><stop offset="0.2773" stop-color="#ffef00"/><stop offset="0.2865" stop-color="#fffc00"/><stop offset="0.2957" stop-color="#e0ff00"/><stop offset="0.3142" stop-color="#83ff00"/><stop offset="0.3327" stop-color="#1cff00"/><stop offset="0.3420" stop-color="#12ff01"/><stop offset="0.3882" stop-color="#09ff05"/><stop offset="0.3974" stop-color="#03ff08"/><stop offset="0.4067" stop-color="#00ff7d"/><stop offset="0.4159" stop-color="#00ffb4"/><stop offset="0.4251" stop-color="#0018ff"/><stop offset="0.4344" stop-color="#0056ff"/><stop offset="0.4436" stop-color="#00ff0a"/><stop offset="0.4529" stop-color="#11ff01"/><stop offset="0.4621" stop-color="#efff00"/><stop offset="0.4713" stop-color="#ffa700"/><stop offset="0.4806" stop-color="#ff4d00"/><stop offset="0.4898" stop-color="#ff1c00"/><stop offset="0.4991" stop-color="#ff1c00"/><stop offset="0.5083" stop-color="#ff1c00"/><stop offset="0.5176" stop-color="#ff2d00"/><stop offset="0.5360" stop-color="#ffbc00"/><stop offset="0.5453" stop-color="#f2ff00"/><stop offset="0.5545" stop-color="#13ff00"/><stop offset="0.5638" stop-color="#04ff08"/><stop offset="0.5730" stop-color="#00ff94"/><stop offset="0.5823" stop-color="#00ffdf"/><stop offset="0.5915" stop-color="#00d2ff"/><stop offset="0.6007" stop-color="#005aff"/><stop offset="0.6100" stop-color="#00e7ff"/><stop offset="0.6192" stop-color="#00ff33"/><stop offset="0.6285" stop-color="#09ff05"/><stop offset="0.6377" stop-color="#12ff01"/><stop offset="0.6562" stop-color="#eeff00"/><stop offset="0.6654" stop-color="#ffea00"/><stop offset="0.6747" stop-color="#ffcc00"/><stop offset="0.6839" stop-color="#ffa500"/><stop offset="0.6932" stop-color="#ff8700"/><stop offset="0.7024" stop-color="#ff7200"/><stop offset="0.7209" stop-color="#ff5900"/><stop offset="0.7394" stop-color="#ff4a00"/><stop offset="0.7763" stop-color="#ff4300"/><stop offset="0.8318" stop-color="#ff4600"/><stop offset="0.8688" stop-color="#ff5200"/><stop offset="0.8872" stop-color="#ff5f00"/><stop offset="0.9427" stop-color="#ff8200"/><stop offset="0.9982" stop-color="#ff8c00"/></linearGradient><linearGradient id="h1"><stop offset="0.0000" stop-color="#ff1c00"/><stop offset="0.0555" stop-color="#ff2900"/><stop offset="0.0832" stop-color="#ff3800"/><stop offset="0.1109" stop-color="#ff5100"/><stop offset="0.1664" stop-color="#ff8900"/><stop offset="0.2218" stop-color="#ffb500"/><stop offset="0.2773" stop-color="#ffef00"/><stop offset="0.2865" stop-color="#fffd00"/><stop offset="0.2957" stop-color="#deff00"/><stop offset="0.3142" stop-color="#81ff00"/><stop offset="0.3327" stop-color="#1aff00"/><stop offset="0.3420" stop-color="#12ff01"/><stop offset="0.3882" stop-color="#09ff05"/><stop offset="0.3974" stop-color="#03ff08"/><stop offset="0.4067" stop-color="#00ff7b"/><stop offset="0.4159" stop-color="#00ffb0"/><stop offset="0.4251" stop-color="#001aff"/><stop offset="0.4344" stop-color="#0059ff"/><stop offset="0.4436" stop-color="#01ff0a"/><stop offset="0.4529" stop-color="#12ff01"/><stop offset="0.4621" stop-color="#fffe00"/><stop offset="0.4713" stop-color="#ff9f00"/><stop offset="0.4806" stop-color="#ff4500"/><stop offset="0.4898" stop-color="#ff1c00"/><stop offset="0.4991" stop-color="#ff1c00"/><stop offset="0.5083" stop-color="#ff1c00"/><stop offset="0.5176" stop-color="#ff4400"/><stop offset="0.5268" stop-color="#ff9000"/><stop offset="0.5360" stop-color="#ffd200"/><stop offset="0.5453" stop-color="#c1ff00"/><stop offset="0.5545" stop-color="#11ff01"/><stop offset="0.5638" stop-color="#02ff09"/><stop offset="0.5730" stop-color="#00ffab"/><stop offset="0.5823" stop-color="#00ffee"/><stop offset="0.5915" stop-color="#00cbff"/><stop offset="0.6007" stop-color="#0056ff"/><stop offset="0.6100" stop-color="#00e5ff"/><stop offset="0.6192" stop-color="#00ff33"/><stop offset="0.6285" stop-color="#09ff05"/><stop offset="0.6377" stop-color="#12ff01"/><stop offset="0.6562" stop-color="#f0ff00"/><stop offset="0.6654" stop-color="#ffe900"/><stop offset="0.6747" stop-color="#ffcb00"/><stop offset="0.6839" stop-color="#ffa400"/><stop offset="0.6932" stop-color="#ff8700"/><stop offset="0.7024" stop-color="#ff7200"/><stop offset="0.7209" stop-color="#ff5900"/><stop offset="0.7394" stop-color="#ff4a00"/><stop offset="0.7763" stop-color="#ff4300"/><stop offset="0.8318" stop-color="#ff4600"/><stop offset="0.8688" stop-color="#ff5200"/><stop offset="0.8872" stop-color="#ff5f00"/><stop offset="0.9427" stop-color="#ff8200"/><stop offset="0.9982" stop-color="#ff8c00"/></linearGradient><linearGradient id="h2"><stop offset="0.0000" stop-color="#ff1c00"/><stop offset="0.0555" stop-color="#ff2900"/><stop offset="0.1017" stop-color="#ff4800"/><stop offset="0.1109" stop-color="#ff5100"/><stop offset="0.1664" stop-color="#ff8900"/><stop offset="0.2218" stop-color="#ffb500"/><stop offset="0.2680" stop-color="#ffe400"/><stop offset="0.2773" stop-color="#fff000"/><stop offset="0.2865" stop-color="#fffd00"/><stop offset="0.2957" stop-color="#dbff00"/><stop offset="0.3142" stop-color="#7eff00"/><stop offset="0.3327" stop-color="#18ff00"/><stop offset="0.3882" stop-color="#0aff05"/><stop offset="0.3974" stop-color="#03ff08"/><stop offset="0.4067" stop-color="#00ff79"/><stop offset="0.4159" stop-color="#00ffaf"/><stop offset="0.4251" stop-color="#001cff"/><stop offset="0.4344" stop-color="#005cff"/><stop offset="0.4436" stop-color="#01ff09"/><stop offset="0.4529" stop-color="#13ff01"/><stop offset="0.4621" stop-color="#fff500"/><stop offset="0.4713" stop-color="#ff9700"/><stop offset="0.4806" stop-color="#ff3e00"/><stop offset="0.4898" stop-color="#ff1c00"/><stop offset="0.4991" stop-color="#ff1c00"/><stop offset="0.5083" stop-color="#ff2000"/><stop offset="0.5176" stop-color="#ff5e00"/><stop offset="0.5268" stop-color="#ffa600"/><stop offset="0.5360" stop-color="#ffe900"/><stop offset="0.5453" stop-color="#91ff00"/><stop offset="0.5545" stop-color="#10ff02"/><stop offset="0.5638" stop-color="#01ff09"/><stop offset="0.5730" stop-color="#00ffbe"/><stop offset="0.5823" stop-color="#00fffa"/><stop offset="0.5915" stop-color="#00c5ff"/><stop offset="0.6007" stop-color="#0053ff"/><stop offset="0.6100" stop-color="#00e4ff"/><stop offset="0.6192" stop-color="#00ff33"/><stop offset="0.6285" stop-color="#09ff05"/><stop offset="0.6377" stop-color="#12ff01"/><stop offset="0.6562" stop-color="#f2ff00"/><stop offset="0.6654" stop-color="#ffe800"/><stop offset="0.6747" stop-color="#ffca00"/><stop offset="0.6839" stop-color="#ffa300"/><stop offset="0.6932" stop-color="#ff8600"/><stop offset="0.7024" stop-color="#ff7200"/><stop offset="0.7209" stop-color="#ff5900"/><stop offset="0.7394" stop-color="#ff4a00"/><stop offset="0.7763" stop-color="#ff4300"/><stop offset="0.8318" stop-color="#ff4600"/><stop offset="0.8688" stop-color="#ff5200"/><stop offset="0.8872" stop-color="#ff5f00"/><stop offset="0.9427" stop-color="#ff8200"/><stop offset="0.9982" stop-color="#ff8c00"/></linearGradient><linearGradient id="h3"><stop offset="0.0000" stop-color="#ff1c00"/><stop offset="0.0555" stop-color="#ff2900"/><stop offset="0.1017" stop-color="#ff4800"/><stop offset="0.1109" stop-color="#ff5100"/><stop offset="0.1664" stop-color="#ff8900"/><stop offset="0.2218" stop-color="#ffb500"/><stop offset="0.2773" stop-color="#fff000"/><stop offset="0.2865" stop-color="#fffe00"/><stop offset="0.2957" stop-color="#daff00"/><stop offset="0.3142" stop-color="#7cff00"/><stop offset="0.3327" stop-color="#16ff00"/><stop offset="0.3882" stop-color="#0aff05"/><stop offset="0.3974" stop-color="#04ff08"/><stop offset="0.4067" stop-color="#00ff79"/><stop offset="0.4159" stop-color="#00ffae"/><stop offset="0.4251" stop-color="#001aff"/><stop offset="0.4344" stop-color="#0063ff"/><stop offset="0.4436" stop-color="#02ff09"/><stop offset="0.4529" stop-color="#14ff00"/><stop offset="0.4621" stop-color="#ffed00"/><stop offset="0.4713" stop-color="#ff9000"/><stop offset="0.4806" stop-color="#ff3800"/><stop offset="0.4898" stop-color="#ff1c00"/><stop offset="0.4991" stop-color="#ff1c00"/><stop offset="0.5083" stop-color="#ff3600"/><stop offset="0.5268" stop-color="#ffbf00"/><stop offset="0.5360" stop-color="#faff00"/><stop offset="0.5453" stop-color="#5cff00"/><stop offset="0.5545" stop-color="#0dff03"/><stop offset="0.5638" stop-color="#00ff20"/><stop offset="0.5730" stop-color="#00ffd3"/><stop offset="0.5823" stop-color="#00fbff"/><stop offset="0.5915" stop-color="#00bfff"/><stop offset="0.6007" stop-color="#0054ff"/><stop offset="0.6100" stop-color="#00e5ff"/><stop offset="0.6192" stop-color="#00ff32"/><stop offset="0.6285" stop-color="#09ff05"/><stop offset="0.6377" stop-color="#12ff01"/><stop offset="0.6562" stop-color="#f4ff00"/><stop offset="0.6654" stop-color="#ffe700"/><stop offset="0.6747" stop-color="#ffc900"/><stop offset="0.6839" stop-color="#ffa200"/><stop offset="0.6932" stop-color="#ff8500"/><stop offset="0.7024" stop-color="#ff7100"/><stop offset="0.7209" stop-color="#ff5800"/><stop offset="0.7394" stop-color="#ff4a00"/><stop offset="0.7763" stop-color="#ff4300"/><stop offset="0.8318" stop-color="#ff4600"/><stop offset="0.8688" stop-color="#ff5200"/><stop offset="0.8872" stop-color="#ff5f00"/><stop offset="0.9427" stop-color="#ff8200"/><stop offset="0.9982" stop-color="#ff8c00"/></linearGradient><linearGradient id="h4"><stop offset="0.0000" stop-color="#ff1c00"/><stop offset="0.0555" stop-color="#ff2900"/><stop offset="0.0924" stop-color="#ff4000"/><stop offset="0.1109" stop-color="#ff5100"/><stop offset="0.1664" stop-color="#ff8900"/><stop offset="0.2218" stop-color="#ffb600"/><stop offset="0.2680" stop-color="#ffe500"/><stop offset="0.2773" stop-color="#fff100"/><stop offset="0.2865" stop-color="#ffff00"/><stop offset="0.2957" stop-color="#d8ff00"/><stop offset="0.3142" stop-color="#7bff00"/><stop offset="0.3235" stop-color="#45ff00"/><stop offset="0.3327" stop-color="#14ff00"/><stop offset="0.3882" stop-color="#09ff05"/><stop offset="0.3974" stop-color="#03ff08"/><stop offset="0.4067" stop-color="#00ff7f"/><stop offset="0.4159" stop-color="#00ffb9"/><stop offset="0.4251" stop-color="#0014ff"/><stop offset="0.4344" stop-color="#0076ff"/><stop offset="0.4436" stop-color="#03ff08"/><stop offset="0.4529" stop-color="#27ff00"/><stop offset="0.4621" stop-color="#ffe400"/><stop offset="0.4713" stop-color="#ff8a00"/><stop offset="0.4806" stop-color="#ff3700"/><stop offset="0.4898" stop-color="#ff1e00"/><stop offset="0.4991" stop-color="#ff2400"/><stop offset="0.5083" stop-color="#ff5300"/><stop offset="0.5176" stop-color="#ff9900"/><stop offset="0.5268" stop-color="#ffda00"/><stop offset="0.5360" stop-color="#beff00"/><stop offset="0.5453" stop-color="#14ff00"/><stop offset="0.5545" stop-color="#09ff05"/><stop offset="0.5638" stop-color="#00ff71"/><stop offset="0.5730" stop-color="#00ffea"/><stop offset="0.5823" stop-color="#00f6ff"/><stop offset="0.5915" stop-color="#00b9ff"/><stop offset="0.6007" stop-color="#005dff"/><stop offset="0.6100" stop-color="#00ebff"/><stop offset="0.6192" stop-color="#00ff30"/><stop offset="0.6285" stop-color="#0aff05"/><stop offset="0.6377" stop-color="#12ff01"/><stop offset="0.6470" stop-color="#89ff00"/><stop offset="0.6562" stop-color="#f7ff00"/><stop offset="0.6654" stop-color="#ffe600"/><stop offset="0.6747" stop-color="#ffc800"/><stop offset="0.6839" stop-color="#ffa000"/><stop offset="0.6932" stop-color="#ff8500"/><stop offset="0.7024" stop-color="#ff7100"/><stop offset="0.7209" stop-color="#ff5800"/><stop offset="0.7394" stop-color="#ff4a00"/><stop offset="0.7763" stop-color="#ff4300"/><stop offset="0.8318" stop-color="#ff4600"/><stop offset="0.8688" stop-color="#ff5200"/><stop offset="0.8872" stop-color="#ff5f00"/><stop offset="0.9427" stop-color="#ff8200"/><stop offset="0.9982" stop-color="#ff8c00"/></linearGradient><linearGradient id="h5"><stop offset="0.0000" stop-color="#ff1c00"/><stop offset="0.0555" stop-color="#ff2900"/><stop offset="0.0924" stop-color="#ff4000"/><stop offset="0.1109" stop-color="#ff5100"/><stop offset="0.1664" stop-color="#ff8900"/><stop offset="0.2218" stop-color="#ffb600"/><stop offset="0.2680" stop-color="#ffe500"/><stop offset="0.2773" stop-color="#fff100"/><stop offset="0.2865" stop-color="#ffff00"/><stop offset="0.2957" stop-color="#d7ff00"/><stop offset="0.3142" stop-color="#79ff00"/><stop offset="0.3235" stop-color="#44ff00"/><stop offset="0.3327" stop-color="#14ff00"/><stop offset="0.3882" stop-color="#09ff05"/><stop offset="0.3974" stop-color="#03ff09"/><stop offset="0.4067" stop-color="#00ff84"/><stop offset="0.4159" stop-color="#00ffc6"/><stop offset="0.4251" stop-color="#0012ff"/><stop offset="0.4344" stop-color="#0089ff"/><stop offset="0.4436" stop-color="#05ff08"/><stop offset="0.4529" stop-color="#3eff00"/><stop offset="0.4621" stop-color="#ffdc00"/><stop offset="0.4713" stop-color="#ff8300"/><stop offset="0.4806" stop-color="#ff3700"/><stop offset="0.4898" stop-color="#ff2900"/><stop offset="0.4991" stop-color="#ff3a00"/><stop offset="0.5083" stop-color="#ff7200"/><stop offset="0.5268" stop-color="#fff600"/><stop offset="0.5360" stop-color="#85ff00"/><stop offset="0.5453" stop-color="#11ff02"/><stop offset="0.5545" stop-color="#05ff07"/><stop offset="0.5638" stop-color="#00ffa7"/><stop offset="0.5730" stop-color="#00fffb"/><stop offset="0.5823" stop-color="#00f4ff"/><stop offset="0.5915" stop-color="#00b7ff"/><stop offset="0.6007" stop-color="#0067ff"/><stop offset="0.6100" stop-color="#00f2ff"/><stop offset="0.6192" stop-color="#00ff2d"/><stop offset="0.6285" stop-color="#0aff05"/><stop offset="0.6377" stop-color="#13ff01"/><stop offset="0.6470" stop-color="#8dff00"/><stop offset="0.6562" stop-color="#f9ff00"/><stop offset="0.6654" stop-color="#ffe500"/><stop offset="0.6747" stop-color="#ffc600"/><stop offset="0.6839" stop-color="#ff9f00"/><stop offset="0.6932" stop-color="#ff8400"/><stop offset="0.7024" stop-color="#ff7000"/><stop offset="0.7209" stop-color="#ff5800"/><stop offset="0.7394" stop-color="#ff4a00"/><stop offset="0.7763" stop-color="#ff4300"/><stop offset="0.8318" stop-color="#ff4600"/><stop offset="0.8688" stop-color="#ff5200"/><stop offset="0.8872" stop-color="#ff5f00"/><stop offset="0.9427" stop-color="#ff8200"/><stop offset="0.9982" stop-color="#ff8c00"/></linearGradient><linearGradient id="h6"><stop offset="0.0000" stop-color="#ff1c00"/><stop offset="0.0555" stop-color="#ff2900"/><stop offset="0.0924" stop-color="#ff4000"/><stop offset="0.1109" stop-color="#ff5100"/><stop offset="0.1664" stop-color="#ff8900"/><stop offset="0.2218" stop-color="#ffb600"/><stop offset="0.2680" stop-color="#ffe500"/><stop offset="0.2773" stop-color="#fff200"/><stop offset="0.2865" stop-color="#feff00"/><stop offset="0.2957" stop-color="#d6ff00"/><stop offset="0.3142" stop-color="#78ff00"/><stop offset="0.3235" stop-color="#42ff00"/><stop offset="0.3327" stop-color="#14ff00"/><stop offset="0.3882" stop-color="#09ff05"/><stop offset="0.3974" stop-color="#03ff09"/><stop offset="0.4067" stop-color="#00ff8a"/><stop offset="0.4159" stop-color="#00ffd3"/><stop offset="0.4251" stop-color="#0010ff"/><stop offset="0.4344" stop-color="#009eff"/><stop offset="0.4436" stop-color="#06ff07"/><stop offset="0.4529" stop-color="#56ff00"/><stop offset="0.4621" stop-color="#ffd300"/><stop offset="0.4713" stop-color="#ff7d00"/><stop offset="0.4806" stop-color="#ff3a00"/><stop offset="0.4898" stop-color="#ff3600"/><stop offset="0.4991" stop-color="#ff5200"/><stop offset="0.5176" stop-color="#ffcf00"/><stop offset="0.5268" stop-color="#d6ff00"/><stop offset="0.5360" stop-color="#48ff00"/><stop offset="0.5453" stop-color="#0eff03"/><stop offset="0.5545" stop-color="#00ff0a"/><stop offset="0.5638" stop-color="#00ffcb"/><stop offset="0.5730" stop-color="#00f8ff"/><stop offset="0.5823" stop-color="#00f6ff"/><stop offset="0.5915" stop-color="#00b6ff"/><stop offset="0.6007" stop-color="#0071ff"/><stop offset="0.6100" stop-color="#00f8ff"/><stop offset="0.6192" stop-color="#00ff2a"/><stop offset="0.6285" stop-color="#0aff05"/><stop offset="0.6377" stop-color="#13ff01"/><stop offset="0.6470" stop-color="#91ff00"/><stop offset="0.6562" stop-color="#fcff00"/><stop offset="0.6654" stop-color="#ffe400"/><stop offset="0.6747" stop-color="#ffc500"/><stop offset="0.6839" stop-color="#ff9e00"/><stop offset="0.6932" stop-color="#ff8400"/><stop offset="0.7024" stop-color="#ff7000"/><stop offset="0.7209" stop-color="#ff5800"/><stop offset="0.7394" stop-color="#ff4a00"/><stop offset="0.7763" stop-color="#ff4300"/><stop offset="0.8318" stop-color="#ff4600"/><stop offset="0.8688" stop-color="#ff5200"/><stop offset="0.8872" stop-color="#ff5f00"/><stop offset="0.9427" stop-color="#ff8200"/><stop offset="0.9982" stop-color="#ff8c00"/></linearGradient><linearGradient id="h7"><stop offset="0.0000" stop-color="#ff1c00"/><stop offset="0.0555" stop-color="#ff2900"/><stop offset="0.0924" stop-color="#ff4000"/><stop offset="0.1109" stop-color="#ff5100"/><stop offset="0.1664" stop-color="#ff8a00"/><stop offset="0.2218" stop-color="#ffb600"/><stop offset="0.2773" stop-color="#fff200"/><stop offset="0.2865" stop-color="#fdff00"/><stop offset="0.2957" stop-color="#d4ff00"/><stop offset="0.3142" stop-color="#76ff00"/><stop offset="0.3235" stop-color="#41ff00"/><stop offset="0.3327" stop-color="#14ff00"/><stop offset="0.3882" stop-color="#09ff05"/><stop offset="0.3974" stop-color="#02ff09"/><stop offset="0.4067" stop-color="#00ff8f"/><stop offset="0.4159" stop-color="#00ffe1"/><stop offset="0.4251" stop-color="#000fff"/><stop offset="0.4344" stop-color="#00b3ff"/><stop offset="0.4436" stop-color="#07ff06"/><stop offset="0.4529" stop-color="#6eff00"/><stop offset="0.4621" stop-color="#ffcc00"/><stop offset="0.4713" stop-color="#ff7900"/><stop offset="0.4806" stop-color="#ff3e00"/><stop offset="0.4898" stop-color="#ff4600"/><stop offset="0.4991" stop-color="#ff6d00"/><stop offset="0.5176" stop-color="#ffeb00"/><stop offset="0.5268" stop-color="#9aff00"/><stop offset="0.5360" stop-color="#13ff00"/><stop offset="0.5453" stop-color="#0aff05"/><stop offset="0.5545" stop-color="#00ff5a"/><stop offset="0.5638" stop-color="#00ffe5"/><stop offset="0.5730" stop-color="#00f0ff"/><stop offset="0.5823" stop-color="#00feff"/><stop offset="0.5915" stop-color="#00b6ff"/><stop offset="0.6007" stop-color="#007cff"/><stop offset="0.6100" stop-color="#00ffff"/><stop offset="0.6192" stop-color="#00ff28"/><stop offset="0.6285" stop-color="#0bff05"/><stop offset="0.6377" stop-color="#13ff00"/><stop offset="0.6470" stop-color="#95ff00"/><stop offset="0.6562" stop-color="#feff00"/><stop offset="0.6654" stop-color="#ffe300"/><stop offset="0.6747" stop-color="#ffc400"/><stop offset="0.6839" stop-color="#ff9d00"/><stop offset="0.6932" stop-color="#ff8300"/><stop offset="0.7024" stop-color="#ff7000"/><stop offset="0.7209" stop-color="#ff5800"/><stop offset="0.7394" stop-color="#ff4a00"/><stop offset="0.7763" stop-color="#ff4300"/><stop offset="0.8318" stop-color="#ff4600"/><stop offset="0.8688" stop-color="#ff5200"/><stop offset="0.8872" stop-color="#ff5f00"/><stop offset="0.9427" stop-color="#ff8200"/><stop offset="0.9982" stop-color="#ff8c00"/></linearGradient><linearGradient id="h8"><stop offset="0.0000" stop-color="#ff1c00"/><stop offset="0.0555" stop-color="#ff2900"/><stop offset="0.0924" stop-color="#ff4000"/><stop offset="0.1109" stop-color="#ff5100"/><stop offset="0.1664" stop-color="#ff8a00"/><stop offset="0.2218" stop-color="#ffb600"/><stop offset="0.2773" stop-color="#fff200"/><stop offset="0.2865" stop-color="#fcff00"/><stop offset="0.2957" stop-color="#d3ff00"/><stop offset="0.3142" stop-color="#74ff00"/><stop offset="0.3235" stop-color="#3fff00"/><stop offset="0.3327" stop-color="#14ff00"/><stop offset="0.3882" stop-color="#09ff05"/><stop offset="0.3974" stop-color="#02ff09"/><stop offset="0.4067" stop-color="#00ff94"/><stop offset="0.4159" stop-color="#00ffef"/><stop offset="0.4251" stop-color="#000eff"/><stop offset="0.4344" stop-color="#00c9ff"/><stop offset="0.4436" stop-color="#08ff06"/><stop offset="0.4529" stop-color="#85ff00"/><stop offset="0.4621" stop-color="#ffc500"/><stop offset="0.4713" stop-color="#ff7600"/><stop offset="0.4806" stop-color="#ff4600"/><stop offset="0.4898" stop-color="#ff5a00"/><stop offset="0.4991" stop-color="#ff8a00"/><stop offset="0.5083" stop-color="#ffc400"/><stop offset="0.5176" stop-color="#eeff00"/><stop offset="0.5268" stop-color="#62ff00"/><stop offset="0.5360" stop-color="#10ff02"/><stop offset="0.5453" stop-color="#07ff07"/><stop offset="0.5545" stop-color="#00ff96"/><stop offset="0.5638" stop-color="#00fff8"/><stop offset="0.5730" stop-color="#00ecff"/><stop offset="0.5823" stop-color="#00fffa"/><stop offset="0.5915" stop-color="#00b7ff"/><stop offset="0.6007" stop-color="#0087ff"/><stop offset="0.6100" stop-color="#00fff7"/><stop offset="0.6192" stop-color="#00ff25"/><stop offset="0.6285" stop-color="#0bff05"/><stop offset="0.6377" stop-color="#13ff00"/><stop offset="0.6470" stop-color="#98ff00"/><stop offset="0.6562" stop-color="#fffe00"/><stop offset="0.6654" stop-color="#ffe200"/><stop offset="0.6747" stop-color="#ffc300"/><stop offset="0.6839" stop-color="#ff9c00"/><stop offset="0.6932" stop-color="#ff8200"/><stop offset="0.7024" stop-color="#ff6f00"/><stop offset="0.7209" stop-color="#ff5800"/><stop offset="0.7394" stop-color="#ff4a00"/><stop offset="0.7763" stop-color="#ff4300"/><stop offset="0.8318" stop-color="#ff4600"/><stop offset="0.8688" stop-color="#ff5200"/><stop offset="0.8872" stop-color="#ff5f00"/><stop offset="0.9427" stop-color="#ff8200"/><stop offset="0.9982" stop-color="#ff8c00"/></linearGradient><linearGradient id="h9"><stop offset="0.0000" stop-color="#ff1c00"/><stop offset="0.0555" stop-color="#ff2900"/><stop offset="0.0924" stop-color="#ff4000"/><stop offset="0.1109" stop-color="#ff5100"/><stop offset="0.1664" stop-color="#ff8a00"/><stop offset="0.2218" stop-color="#ffb600"/><stop offset="0.2680" stop-color="#ffe600"/><stop offset="0.2773" stop-color="#fff300"/><stop offset="0.2865" stop-color="#fbff00"/><stop offset="0.2957" stop-color="#d2ff00"/><stop offset="0.3142" stop-color="#73ff00"/><stop offset="0.3235" stop-color="#3eff00"/><stop offset="0.3327" stop-color="#14ff00"/><stop offset="0.3882" stop-color="#09ff06"/><stop offset="0.3974" stop-color="#02ff09"/><stop offset="0.4067" stop-color="#00ff99"/><stop offset="0.4159" stop-color="#00fffd"/><stop offset="0.4251" stop-color="#000dff"/><stop offset="0.4344" stop-color="#00e0ff"/><stop offset="0.4436" stop-color="#0aff05"/><stop offset="0.4529" stop-color="#9cff00"/><stop offset="0.4621" stop-color="#ffbe00"/><stop offset="0.4713" stop-color="#ff7500"/><stop offset="0.4806" stop-color="#ff5000"/><stop offset="0.4898" stop-color="#ff7000"/><stop offset="0.4991" stop-color="#ffa200"/><stop offset="0.5083" stop-color="#ffe000"/><stop offset="0.5176" stop-color="#b1ff00"/><stop offset="0.5268" stop-color="#2eff00"/><stop offset="0.5360" stop-color="#0eff03"/><stop offset="0.5453" stop-color="#03ff09"/><stop offset="0.5545" stop-color="#00ffbf"/><stop offset="0.5638" stop-color="#00faff"/><stop offset="0.5730" stop-color="#00e9ff"/><stop offset="0.5823" stop-color="#00fff6"/><stop offset="0.5915" stop-color="#00b8ff"/><stop offset="0.6007" stop-color="#0092ff"/><stop offset="0.6100" stop-color="#00ffee"/><stop offset="0.6192" stop-color="#00ff22"/><stop offset="0.6285" stop-color="#0bff04"/><stop offset="0.6377" stop-color="#13ff00"/><stop offset="0.6470" stop-color="#9cff00"/><stop offset="0.6562" stop-color="#fffd00"/><stop offset="0.6654" stop-color="#ffe100"/><stop offset="0.6747" stop-color="#ffc200"/><stop offset="0.6839" stop-color="#ff9b00"/><stop offset="0.6932" stop-color="#ff8200"/><stop offset="0.7024" stop-color="#ff6f00"/><stop offset="0.7209" stop-color="#ff5700"/><stop offset="0.7394" stop-color="#ff4a00"/><stop offset="0.7763" stop-color="#ff4300"/><stop offset="0.8318" stop-color="#ff4600"/><stop offset="0.8688" stop-color="#ff5200"/><stop offset="0.8872" stop-color="#ff5f00"/><stop offset="0.9427" stop-color="#ff8200"/><stop offset="0.9982" stop-color="#ff8c00"/></linearGradient><linearGradient id="h10"><stop offset="0.0000" stop-color="#ff1c00"/><stop offset="0.0555" stop-color="#ff2900"/><stop offset="0.0924" stop-color="#ff4000"/><stop offset="0.1109" stop-color="#ff5100"/><stop offset="0.1664" stop-color="#ff8a00"/><stop offset="0.2218" stop-color="#ffb700"/><stop offset="0.2773" stop-color="#fff300"/><stop offset="0.2865" stop-color="#faff00"/><stop offset="0.3050" stop-color="#a2ff00"/><stop offset="0.3235" stop-color="#3cff00"/><stop offset="0.3327" stop-color="#14ff00"/><stop offset="0.3882" stop-color="#09ff06"/><stop offset="0.3974" stop-color="#01ff09"/><stop offset="0.4067" stop-color="#00ff9d"/><stop offset="0.4159" stop-color="#00f5ff"/><stop offset="0.4251" stop-color="#000dff"/><stop offset="0.4344" stop-color="#00f8ff"/><stop offset="0.4436" stop-color="#0bff04"/><stop offset="0.4529" stop-color="#b3ff00"/><stop offset="0.4621" stop-color="#ffb700"/><stop offset="0.4713" stop-color="#ff7400"/><stop offset="0.4806" stop-color="#ff5b00"/><stop offset="0.4898" stop-color="#ff8700"/><stop offset="0.4991" stop-color="#ffb900"/><stop offset="0.5083" stop-color="#fffa00"/><stop offset="0.5176" stop-color="#79ff00"/><stop offset="0.5268" stop-color="#13ff01"/><stop offset="0.5360" stop-color="#0bff05"/><stop offset="0.5453" stop-color="#00ff15"/><stop offset="0.5545" stop-color="#00ffdd"/><stop offset="0.5638" stop-color="#00dfff"/><stop offset="0.5730" stop-color="#00cfff"/><stop offset="0.5823" stop-color="#00ffef"/><stop offset="0.5915" stop-color="#00cbff"/><stop offset="0.6007" stop-color="#0094ff"/><stop offset="0.6100" stop-color="#00ffed"/><stop offset="0.6192" stop-color="#00ff18"/><stop offset="0.6285" stop-color="#0bff04"/><stop offset="0.6377" stop-color="#14ff00"/><stop offset="0.6470" stop-color="#9fff00"/><stop offset="0.6562" stop-color="#fffc00"/><stop offset="0.6654" stop-color="#ffe000"/><stop offset="0.6747" stop-color="#ffc000"/><stop offset="0.6839" stop-color="#ff9a00"/><stop offset="0.6932" stop-color="#ff8100"/><stop offset="0.7024" stop-color="#ff6f00"/><stop offset="0.7209" stop-color="#ff5700"/><stop offset="0.7394" stop-color="#ff4a00"/><stop offset="0.7763" stop-color="#ff4300"/><stop offset="0.8318" stop-color="#ff4600"/><stop offset="0.8688" stop-color="#ff5200"/><stop offset="0.8872" stop-color="#ff5f00"/><stop offset="0.9427" stop-color="#ff8200"/><stop offset="0.9982" stop-color="#ff8c00"/></linearGradient><linearGradient id="h11"><stop offset="0.0000" stop-color="#ff1c00"/><stop offset="0.0555" stop-color="#ff2900"/><stop offset="0.0924" stop-color="#ff4000"/><stop offset="0.1109" stop-color="#ff5100"/><stop offset="0.1664" stop-color="#ff8a00"/><stop offset="0.2218" stop-color="#ffb700"/><stop offset="0.2773" stop-color="#fff300"/><stop offset="0.2865" stop-color="#f9ff00"/><stop offset="0.3050" stop-color="#a1ff00"/><stop offset="0.3235" stop-color="#3bff00"/><stop offset="0.3327" stop-color="#14ff00"/><stop offset="0.3882" stop-color="#09ff06"/><stop offset="0.3974" stop-color="#01ff09"/><stop offset="0.4067" stop-color="#00ffa2"/><stop offset="0.4159" stop-color="#00e8ff"/><stop offset="0.4251" stop-color="#000dff"/><stop offset="0.4344" stop-color="#00ffea"/><stop offset="0.4436" stop-color="#0cff04"/><stop offset="0.4529" stop-color="#cfff00"/><stop offset="0.4621" stop-color="#ffae00"/><stop offset="0.4713" stop-color="#ff7000"/><stop offset="0.4806" stop-color="#ff6200"/><stop offset="0.4898" stop-color="#ff9500"/><stop offset="0.4991" stop-color="#ffce00"/><stop offset="0.5083" stop-color="#d6ff00"/><stop offset="0.5176" stop-color="#48ff00"/><stop offset="0.5268" stop-color="#10ff02"/><stop offset="0.5360" stop-color="#09ff06"/><stop offset="0.5453" stop-color="#00ff45"/><stop offset="0.5545" stop-color="#00fff9"/><stop offset="0.5638" stop-color="#00bfff"/><stop offset="0.5730" stop-color="#00afff"/><stop offset="0.5823" stop-color="#00fffa"/><stop offset="0.5915" stop-color="#00dfff"/><stop offset="0.6007" stop-color="#0097ff"/><stop offset="0.6100" stop-color="#00ffee"/><stop offset="0.6192" stop-color="#00ff0d"/><stop offset="0.6285" stop-color="#0cff04"/><stop offset="0.6377" stop-color="#14ff00"/><stop offset="0.6470" stop-color="#a2ff00"/><stop offset="0.6562" stop-color="#fffb00"/><stop offset="0.6654" stop-color="#ffdf00"/><stop offset="0.6747" stop-color="#ffbf00"/><stop offset="0.6839" stop-color="#ff9900"/><stop offset="0.6932" stop-color="#ff8100"/><stop offset="0.7024" stop-color="#ff6e00"/><stop offset="0.7209" stop-color="#ff5700"/><stop offset="0.7394" stop-color="#ff4a00"/><stop offset="0.7763" stop-color="#ff4300"/><stop offset="0.8318" stop-color="#ff4600"/><stop offset="0.8688" stop-color="#ff5200"/><stop offset="0.8872" stop-color="#ff5f00"/><stop offset="0.9427" stop-color="#ff8200"/><stop offset="0.9982" stop-color="#ff8c00"/></linearGradient><linearGradient id="h12"><stop offset="0.0000" stop-color="#ff1c00"/><stop offset="0.0555" stop-color="#ff2900"/><stop offset="0.0924" stop-color="#ff4000"/><stop offset="0.1109" stop-color="#ff5100"/><stop offset="0.1664" stop-color="#ff8a00"/><stop offset="0.2218" stop-color="#ffb700"/><stop offset="0.2680" stop-color="#ffe700"/><stop offset="0.2773" stop-color="#fff400"/><stop offset="0.2865" stop-color="#f7ff00"/><stop offset="0.2957" stop-color="#ceff00"/><stop offset="0.3142" stop-color="#6eff00"/><stop offset="0.3235" stop-color="#39ff00"/><stop offset="0.3327" stop-color="#14ff00"/><stop offset="0.3882" stop-color="#08ff06"/><stop offset="0.3974" stop-color="#01ff0a"/><stop offset="0.4067" stop-color="#00ffa6"/><stop offset="0.4159" stop-color="#00dcff"/><stop offset="0.4251" stop-color="#000dff"/><stop offset="0.4344" stop-color="#00ffcc"/><stop offset="0.4436" stop-color="#0eff03"/><stop offset="0.4529" stop-color="#eaff00"/><stop offset="0.4621" stop-color="#ffa600"/><stop offset="0.4713" stop-color="#ff6e00"/><stop offset="0.4806" stop-color="#ff6d00"/><stop offset="0.4898" stop-color="#ffa600"/><stop offset="0.4991" stop-color="#ffe400"/><stop offset="0.5083" stop-color="#a1ff00"/><stop offset="0.5176" stop-color="#1aff00"/><stop offset="0.5360" stop-color="#06ff07"/><stop offset="0.5453" stop-color="#00ff68"/><stop offset="0.5545" stop-color="#00edff"/><stop offset="0.5638" stop-color="#009fff"/><stop offset="0.5730" stop-color="#0090ff"/><stop offset="0.5823" stop-color="#00e5ff"/><stop offset="0.5915" stop-color="#00f0ff"/><stop offset="0.6007" stop-color="#009eff"/><stop offset="0.6100" stop-color="#00fff0"/><stop offset="0.6192" stop-color="#00ff0a"/><stop offset="0.6377" stop-color="#15ff00"/><stop offset="0.6470" stop-color="#a5ff00"/><stop offset="0.6562" stop-color="#fffa00"/><stop offset="0.6654" stop-color="#ffdd00"/><stop offset="0.6747" stop-color="#ffbe00"/><stop offset="0.6839" stop-color="#ff9800"/><stop offset="0.6932" stop-color="#ff8000"/><stop offset="0.7024" stop-color="#ff6e00"/><stop offset="0.7209" stop-color="#ff5700"/><stop offset="0.7394" stop-color="#ff4a00"/><stop offset="0.7763" stop-color="#ff4300"/><stop offset="0.8318" stop-color="#ff4600"/><stop offset="0.8688" stop-color="#ff5200"/><stop offset="0.8872" stop-color="#ff5f00"/><stop offset="0.9427" stop-color="#ff8200"/><stop offset="0.9982" stop-color="#ff8c00"/></linearGradient><linearGradient id="h13"><stop offset="0.0000" stop-color="#ff1c00"/><stop offset="0.0555" stop-color="#ff2900"/><stop offset="0.0924" stop-color="#ff4000"/><stop offset="0.1109" stop-color="#ff5100"/><stop offset="0.1664" stop-color="#ff8a00"/><stop offset="0.2218" stop-color="#ffb700"/><stop offset="0.2773" stop-color="#fff400"/><stop offset="0.2865" stop-color="#f6ff00"/><stop offset="0.3050" stop-color="#9eff00"/><stop offset="0.3235" stop-color="#38ff00"/><stop offset="0.3327" stop-color="#13ff00"/><stop offset="0.3882" stop-color="#08ff06"/><stop offset="0.3974" stop-color="#00ff0a"/><stop offset="0.4067" stop-color="#00ffaa"/><stop offset="0.4159" stop-color="#00cfff"/><stop offset="0.4251" stop-color="#000eff"/><stop offset="0.4344" stop-color="#00ffac"/><stop offset="0.4436" stop-color="#0fff02"/><stop offset="0.4529" stop-color="#fffc00"/><stop offset="0.4621" stop-color="#ff9e00"/><stop offset="0.4713" stop-color="#ff6f00"/><stop offset="0.4806" stop-color="#ff7b00"/><stop offset="0.4898" stop-color="#ffb900"/><stop offset="0.4991" stop-color="#fffc00"/><stop offset="0.5083" stop-color="#6cff00"/><stop offset="0.5176" stop-color="#12ff01"/><stop offset="0.5360" stop-color="#04ff08"/><stop offset="0.5453" stop-color="#00ff82"/><stop offset="0.5545" stop-color="#00d5ff"/><stop offset="0.5638" stop-color="#0080ff"/><stop offset="0.5730" stop-color="#0071ff"/><stop offset="0.5823" stop-color="#00c4ff"/><stop offset="0.5915" stop-color="#00fffd"/><stop offset="0.6007" stop-color="#00abff"/><stop offset="0.6100" stop-color="#00fff4"/><stop offset="0.6192" stop-color="#01ff09"/><stop offset="0.6377" stop-color="#19ff00"/><stop offset="0.6470" stop-color="#a8ff00"/><stop offset="0.6562" stop-color="#fff900"/><stop offset="0.6654" stop-color="#ffdc00"/><stop offset="0.6747" stop-color="#ffbd00"/><stop offset="0.6839" stop-color="#ff9700"/><stop offset="0.6932" stop-color="#ff7f00"/><stop offset="0.7024" stop-color="#ff6d00"/><stop offset="0.7209" stop-color="#ff5700"/><stop offset="0.7301" stop-color="#ff4e00"/><stop offset="0.7763" stop-color="#ff4300"/><stop offset="0.8318" stop-color="#ff4600"/><stop offset="0.8688" stop-color="#ff5200"/><stop offset="0.8872" stop-color="#ff5f00"/><stop offset="0.9427" stop-color="#ff8200"/><stop offset="0.9982" stop-color="#ff8c00"/></linearGradient><linearGradient id="h14"><stop offset="0.0000" stop-color="#ff1c00"/><stop offset="0.0555" stop-color="#ff2900"/><stop offset="0.1109" stop-color="#ff5100"/><stop offset="0.1664" stop-color="#ff8a00"/><stop offset="0.2218" stop-color="#ffb700"/><stop offset="0.2680" stop-color="#ffe800"/><stop offset="0.2773" stop-color="#fff500"/><stop offset="0.2865" stop-color="#f5ff00"/><stop offset="0.3050" stop-color="#9dff00"/><stop offset="0.3235" stop-color="#36ff00"/><stop offset="0.3327" stop-color="#13ff00"/><stop offset="0.3882" stop-color="#08ff06"/><stop offset="0.3974" stop-color="#00ff0a"/><stop offset="0.4067" stop-color="#00ffad"/><stop offset="0.4159" stop-color="#00c2ff"/><stop offset="0.4251" stop-color="#000fff"/><stop offset="0.4344" stop-color="#00ff8c"/><stop offset="0.4436" stop-color="#11ff02"/><stop offset="0.4529" stop-color="#fff000"/><stop offset="0.4621" stop-color="#ff9800"/><stop offset="0.4713" stop-color="#ff7200"/><stop offset="0.4806" stop-color="#ff8c00"/><stop offset="0.4898" stop-color="#ffce00"/><stop offset="0.4991" stop-color="#ceff00"/><stop offset="0.5083" stop-color="#39ff00"/><stop offset="0.5176" stop-color="#10ff02"/><stop offset="0.5360" stop-color="#03ff09"/><stop offset="0.5453" stop-color="#00ff98"/><stop offset="0.5545" stop-color="#00bcff"/><stop offset="0.5638" stop-color="#0061ff"/><stop offset="0.5730" stop-color="#0052ff"/><stop offset="0.5823" stop-color="#00a1ff"/><stop offset="0.5915" stop-color="#00ffe8"/><stop offset="0.6007" stop-color="#00bdff"/><stop offset="0.6100" stop-color="#00fff9"/><stop offset="0.6192" stop-color="#02ff09"/><stop offset="0.6285" stop-color="#0dff04"/><stop offset="0.6377" stop-color="#1dff00"/><stop offset="0.6470" stop-color="#abff00"/><stop offset="0.6562" stop-color="#fff800"/><stop offset="0.6654" stop-color="#ffdb00"/><stop offset="0.6747" stop-color="#ffbb00"/><stop offset="0.6839" stop-color="#ff9600"/><stop offset="0.6932" stop-color="#ff7f00"/><stop offset="0.7024" stop-color="#ff6d00"/><stop offset="0.7209" stop-color="#ff5700"/><stop offset="0.7301" stop-color="#ff4e00"/><stop offset="0.7763" stop-color="#ff4300"/><stop offset="0.8318" stop-color="#ff4600"/><stop offset="0.8688" stop-color="#ff5200"/><stop offset="0.8872" stop-color="#ff5f00"/><stop offset="0.9427" stop-color="#ff8200"/><stop offset="0.9982" stop-color="#ff8c00"/></linearGradient><linearGradient id="h15"><stop offset="0.0000" stop-color="#ff1c00"/><stop offset="0.0555" stop-color="#ff2900"/><stop offset="0.1109" stop-color="#ff5100"/><stop offset="0.1664" stop-color="#ff8a00"/><stop offset="0.2218" stop-color="#ffb800"/><stop offset="0.2680" stop-color="#ffe800"/><stop offset="0.2773" stop-color="#fff500"/><stop offset="0.2865" stop-color="#f4ff00"/><stop offset="0.2957" stop-color="#caff00"/><stop offset="0.3142" stop-color="#6aff00"/><stop offset="0.3235" stop-color="#35ff00"/><stop offset="0.3327" stop-color="#13ff00"/><stop offset="0.3882" stop-color="#08ff06"/><stop offset="0.3974" stop-color="#00ff10"/><stop offset="0.4067" stop-color="#00ffb0"/><stop offset="0.4159" stop-color="#00b5ff"/><stop offset="0.4251" stop-color="#0010ff"/><stop offset="0.4344" stop-color="#00ff6b"/><stop offset="0.4436" stop-color="#12ff01"/><stop offset="0.4529" stop-color="#ffe500"/><stop offset="0.4621" stop-color="#ff9300"/><stop offset="0.4713" stop-color="#ff7900"/><stop offset="0.4806" stop-color="#ff9b00"/><stop offset="0.4898" stop-color="#ffe500"/><stop offset="0.4991" stop-color="#96ff00"/><stop offset="0.5083" stop-color="#14ff00"/><stop offset="0.5360" stop-color="#01ff09"/><stop offset="0.5453" stop-color="#00ffa9"/><stop offset="0.5545" stop-color="#00a4ff"/><stop offset="0.5638" stop-color="#0042ff"/><stop offset="0.5730" stop-color="#0033ff"/><stop offset="0.5823" stop-color="#007dff"/><stop offset="0.5915" stop-color="#00ffd8"/><stop offset="0.6007" stop-color="#00d3ff"/><stop offset="0.6100" stop-color="#00feff"/><stop offset="0.6192" stop-color="#02ff09"/><stop offset="0.6285" stop-color="#0dff03"/><stop offset="0.6377" stop-color="#20ff00"/><stop offset="0.6470" stop-color="#adff00"/><stop offset="0.6562" stop-color="#fff700"/><stop offset="0.6654" stop-color="#ffda00"/><stop offset="0.6747" stop-color="#ffba00"/><stop offset="0.6839" stop-color="#ff9500"/><stop offset="0.6932" stop-color="#ff7e00"/><stop offset="0.7116" stop-color="#ff6000"/><stop offset="0.7209" stop-color="#ff5600"/><stop offset="0.7486" stop-color="#ff4700"/><stop offset="0.7763" stop-color="#ff4300"/><stop offset="0.8318" stop-color="#ff4600"/><stop offset="0.8688" stop-color="#ff5200"/><stop offset="0.8872" stop-color="#ff5f00"/><stop offset="0.9427" stop-color="#ff8200"/><stop offset="0.9982" stop-color="#ff8c00"/></linearGradient><linearGradient id="h16"><stop offset="0.0000" stop-color="#ff1c00"/><stop offset="0.0555" stop-color="#ff2900"/><stop offset="0.1109" stop-color="#ff5100"/><stop offset="0.1664" stop-color="#ff8a00"/><stop offset="0.2218" stop-color="#ffb800"/><stop offset="0.2773" stop-color="#fff500"/><stop offset="0.2865" stop-color="#f3ff00"/><stop offset="0.3050" stop-color="#9aff00"/><stop offset="0.3235" stop-color="#33ff00"/><stop offset="0.3327" stop-color="#13ff00"/><stop offset="0.3882" stop-color="#08ff06"/><stop offset="0.3974" stop-color="#00ff15"/><stop offset="0.4067" stop-color="#00ffb3"/><stop offset="0.4159" stop-color="#00aaff"/><stop offset="0.4251" stop-color="#0012ff"/><stop offset="0.4344" stop-color="#00ff4a"/><stop offset="0.4436" stop-color="#14ff00"/><stop offset="0.4529" stop-color="#ffd900"/><stop offset="0.4621" stop-color="#ff8e00"/><stop offset="0.4713" stop-color="#ff8200"/><stop offset="0.4806" stop-color="#ffad00"/><stop offset="0.4898" stop-color="#fffd00"/><stop offset="0.4991" stop-color="#60ff00"/><stop offset="0.5083" stop-color="#12ff01"/><stop offset="0.5360" stop-color="#00ff0c"/><stop offset="0.5453" stop-color="#00ffb9"/><stop offset="0.5545" stop-color="#008bff"/><stop offset="0.5638" stop-color="#0023ff"/><stop offset="0.5730" stop-color="#0014ff"/><stop offset="0.5823" stop-color="#0057ff"/><stop offset="0.5915" stop-color="#00ffd9"/><stop offset="0.6007" stop-color="#00ebff"/><stop offset="0.6100" stop-color="#00f6ff"/><stop offset="0.6192" stop-color="#03ff09"/><stop offset="0.6285" stop-color="#0dff03"/><stop offset="0.6377" stop-color="#23ff00"/><stop offset="0.6470" stop-color="#afff00"/><stop offset="0.6562" stop-color="#fff600"/><stop offset="0.6654" stop-color="#ffd900"/><stop offset="0.6747" stop-color="#ffb900"/><stop offset="0.6839" stop-color="#ff9400"/><stop offset="0.7024" stop-color="#ff6c00"/><stop offset="0.7209" stop-color="#ff5600"/><stop offset="0.7486" stop-color="#ff4700"/><stop offset="0.7763" stop-color="#ff4300"/><stop offset="0.8318" stop-color="#ff4600"/><stop offset="0.8688" stop-color="#ff5200"/><stop offset="0.8872" stop-color="#ff5f00"/><stop offset="0.9427" stop-color="#ff8200"/><stop offset="0.9982" stop-color="#ff8c00"/></linearGradient><linearGradient id="h17"><stop offset="0.0000" stop-color="#ff1c00"/><stop offset="0.0555" stop-color="#ff2900"/><stop offset="0.1109" stop-color="#ff5100"/><stop offset="0.1664" stop-color="#ff8b00"/><stop offset="0.2218" stop-color="#ffb800"/><stop offset="0.2680" stop-color="#ffe900"/><stop offset="0.2773" stop-color="#fff600"/><stop offset="0.2865" stop-color="#f2ff00"/><stop offset="0.3050" stop-color="#98ff00"/><stop offset="0.3235" stop-color="#32ff00"/><stop offset="0.3327" stop-color="#13ff00"/><stop offset="0.3882" stop-color="#08ff06"/><stop offset="0.3974" stop-color="#00ff16"/><stop offset="0.4067" stop-color="#00ffb5"/><stop offset="0.4159" stop-color="#00a4ff"/><stop offset="0.4251" stop-color="#0015ff"/><stop offset="0.4344" stop-color="#00ff2a"/><stop offset="0.4436" stop-color="#35ff00"/><stop offset="0.4529" stop-color="#ffcb00"/><stop offset="0.4621" stop-color="#ff8800"/><stop offset="0.4713" stop-color="#ff8900"/><stop offset="0.4806" stop-color="#ffbe00"/><stop offset="0.4898" stop-color="#ceff00"/><stop offset="0.4991" stop-color="#2dff00"/><stop offset="0.5083" stop-color="#10ff02"/><stop offset="0.5268" stop-color="#05ff07"/><stop offset="0.5360" stop-color="#00ff23"/><stop offset="0.5453" stop-color="#00ffc8"/><stop offset="0.5545" stop-color="#0071ff"/><stop offset="0.5638" stop-color="#0010ff"/><stop offset="0.5730" stop-color="#000dff"/><stop offset="0.5823" stop-color="#0031ff"/><stop offset="0.5915" stop-color="#00eeff"/><stop offset="0.6007" stop-color="#00fffc"/><stop offset="0.6100" stop-color="#00eeff"/><stop offset="0.6192" stop-color="#03ff08"/><stop offset="0.6285" stop-color="#0eff03"/><stop offset="0.6377" stop-color="#27ff00"/><stop offset="0.6470" stop-color="#b1ff00"/><stop offset="0.6562" stop-color="#fff500"/><stop offset="0.6654" stop-color="#ffd800"/><stop offset="0.6747" stop-color="#ffb800"/><stop offset="0.6839" stop-color="#ff9300"/><stop offset="0.6932" stop-color="#ff7d00"/><stop offset="0.7024" stop-color="#ff6c00"/><stop offset="0.7209" stop-color="#ff5600"/><stop offset="0.7394" stop-color="#ff4900"/><stop offset="0.7763" stop-color="#ff4300"/><stop offset="0.8318" stop-color="#ff4600"/><stop offset="0.8688" stop-color="#ff5200"/><stop offset="0.8872" stop-color="#ff5f00"/><stop offset="0.9427" stop-color="#ff8200"/><stop offset="0.9982" stop-color="#ff8c00"/></linearGradient><linearGradient id="h18"><stop offset="0.0000" stop-color="#ff1c00"/><stop offset="0.0555" stop-color="#ff2900"/><stop offset="0.1017" stop-color="#ff4900"/><stop offset="0.1109" stop-color="#ff5200"/><stop offset="0.1664" stop-color="#ff8b00"/><stop offset="0.2218" stop-color="#ffb800"/><stop offset="0.2680" stop-color="#ffe900"/><stop offset="0.2773" stop-color="#fff600"/><stop offset="0.2865" stop-color="#f1ff00"/><stop offset="0.3050" stop-color="#97ff00"/><stop offset="0.3235" stop-color="#30ff00"/><stop offset="0.3327" stop-color="#13ff00"/><stop offset="0.3882" stop-color="#08ff06"/><stop offset="0.3974" stop-color="#00ff17"/><stop offset="0.4067" stop-color="#00ffb7"/><stop offset="0.4159" stop-color="#009eff"/><stop offset="0.4251" stop-color="#001dff"/><stop offset="0.4344" stop-color="#00ff0a"/><stop offset="0.4436" stop-color="#5cff00"/><stop offset="0.4529" stop-color="#ffbd00"/><stop offset="0.4621" stop-color="#ff8200"/><stop offset="0.4713" stop-color="#ff9200"/><stop offset="0.4806" stop-color="#ffd200"/><stop offset="0.4898" stop-color="#96ff00"/><stop offset="0.4991" stop-color="#13ff01"/><stop offset="0.5268" stop-color="#04ff08"/><stop offset="0.5360" stop-color="#00ff37"/><stop offset="0.5453" stop-color="#00ffd6"/><stop offset="0.5545" stop-color="#0056ff"/><stop offset="0.5638" stop-color="#0009ff"/><stop offset="0.5730" stop-color="#0005ff"/><stop offset="0.5823" stop-color="#0012ff"/><stop offset="0.5915" stop-color="#00b9ff"/><stop offset="0.6007" stop-color="#00ffe6"/><stop offset="0.6100" stop-color="#00eaff"/><stop offset="0.6192" stop-color="#04ff08"/><stop offset="0.6285" stop-color="#0eff03"/><stop offset="0.6377" stop-color="#2aff00"/><stop offset="0.6470" stop-color="#b4ff00"/><stop offset="0.6562" stop-color="#fff400"/><stop offset="0.6654" stop-color="#ffd700"/><stop offset="0.6839" stop-color="#ff9200"/><stop offset="0.7024" stop-color="#ff6c00"/><stop offset="0.7209" stop-color="#ff5600"/><stop offset="0.7394" stop-color="#ff4900"/><stop offset="0.7763" stop-color="#ff4300"/><stop offset="0.8318" stop-color="#ff4600"/><stop offset="0.8688" stop-color="#ff5200"/><stop offset="0.8872" stop-color="#ff5f00"/><stop offset="0.9427" stop-color="#ff8200"/><stop offset="0.9982" stop-color="#ff8c00"/></linearGradient><linearGradient id="h19"><stop offset="0.0000" stop-color="#ff1c00"/><stop offset="0.0555" stop-color="#ff2900"/><stop offset="0.1017" stop-color="#ff4900"/><stop offset="0.1109" stop-color="#ff5200"/><stop offset="0.1664" stop-color="#ff8b00"/><stop offset="0.2218" stop-color="#ffb800"/><stop offset="0.2680" stop-color="#ffea00"/><stop offset="0.2773" stop-color="#fff700"/><stop offset="0.2865" stop-color="#efff00"/><stop offset="0.3050" stop-color="#96ff00"/><stop offset="0.3235" stop-color="#2fff00"/><stop offset="0.3327" stop-color="#13ff00"/><stop offset="0.3882" stop-color="#08ff06"/><stop offset="0.3974" stop-color="#00ff16"/><stop offset="0.4067" stop-color="#00ffb6"/><stop offset="0.4159" stop-color="#009bff"/><stop offset="0.4251" stop-color="#002dff"/><stop offset="0.4344" stop-color="#02ff09"/><stop offset="0.4436" stop-color="#7aff00"/><stop offset="0.4529" stop-color="#ffb500"/><stop offset="0.4621" stop-color="#ff8500"/><stop offset="0.4713" stop-color="#ffa100"/><stop offset="0.4806" stop-color="#ffea00"/><stop offset="0.4898" stop-color="#5dff00"/><stop offset="0.4991" stop-color="#11ff02"/><stop offset="0.5268" stop-color="#03ff09"/><stop offset="0.5360" stop-color="#00ff48"/><stop offset="0.5453" stop-color="#00ffe8"/><stop offset="0.5545" stop-color="#0046ff"/><stop offset="0.5638" stop-color="#0007ff"/><stop offset="0.5730" stop-color="#0005ff"/><stop offset="0.5823" stop-color="#0012ff"/><stop offset="0.5915" stop-color="#00bdff"/><stop offset="0.6007" stop-color="#00ffe5"/><stop offset="0.6100" stop-color="#00eeff"/><stop offset="0.6192" stop-color="#05ff08"/><stop offset="0.6285" stop-color="#0eff03"/><stop offset="0.6377" stop-color="#2eff00"/><stop offset="0.6470" stop-color="#b7ff00"/><stop offset="0.6562" stop-color="#fff300"/><stop offset="0.6654" stop-color="#ffd600"/><stop offset="0.6839" stop-color="#ff9200"/><stop offset="0.6932" stop-color="#ff7c00"/><stop offset="0.7024" stop-color="#ff6b00"/><stop offset="0.7209" stop-color="#ff5600"/><stop offset="0.7394" stop-color="#ff4900"/><stop offset="0.7763" stop-color="#ff4300"/><stop offset="0.8318" stop-color="#ff4600"/><stop offset="0.8688" stop-color="#ff5200"/><stop offset="0.8872" stop-color="#ff5f00"/><stop offset="0.9427" stop-color="#ff8200"/><stop offset="0.9982" stop-color="#ff8c00"/></linearGradient><linearGradient id="h20"><stop offset="0.0000" stop-color="#ff1c00"/><stop offset="0.0555" stop-color="#ff2900"/><stop offset="0.1017" stop-color="#ff4900"/><stop offset="0.1109" stop-color="#ff5200"/><stop offset="0.1664" stop-color="#ff8b00"/><stop offset="0.2218" stop-color="#ffb900"/><stop offset="0.2680" stop-color="#ffea00"/><stop offset="0.2773" stop-color="#fff700"/><stop offset="0.2865" stop-color="#eeff00"/><stop offset="0.3050" stop-color="#94ff00"/><stop offset="0.3235" stop-color="#2dff00"/><stop offset="0.3327" stop-color="#13ff00"/><stop offset="0.3882" stop-color="#08ff06"/><stop offset="0.3974" stop-color="#00ff15"/><stop offset="0.4067" stop-color="#00ffb7"/><stop offset="0.4159" stop-color="#0098ff"/><stop offset="0.4251" stop-color="#003dff"/><stop offset="0.4344" stop-color="#03ff09"/><stop offset="0.4436" stop-color="#7cff00"/><stop offset="0.4529" stop-color="#ffbb00"/><stop offset="0.4621" stop-color="#ff9300"/><stop offset="0.4713" stop-color="#ffb700"/><stop offset="0.4806" stop-color="#f5ff00"/><stop offset="0.4898" stop-color="#2bff00"/><stop offset="0.4991" stop-color="#0fff02"/><stop offset="0.5268" stop-color="#02ff09"/><stop offset="0.5360" stop-color="#00ff59"/><stop offset="0.5453" stop-color="#00fffa"/><stop offset="0.5545" stop-color="#003cff"/><stop offset="0.5638" stop-color="#0007ff"/><stop offset="0.5730" stop-color="#0006ff"/><stop offset="0.5823" stop-color="#001bff"/><stop offset="0.5915" stop-color="#00cfff"/><stop offset="0.6007" stop-color="#00ffea"/><stop offset="0.6100" stop-color="#00f5ff"/><stop offset="0.6192" stop-color="#05ff08"/><stop offset="0.6285" stop-color="#0eff03"/><stop offset="0.6377" stop-color="#32ff00"/><stop offset="0.6470" stop-color="#bbff00"/><stop offset="0.6562" stop-color="#fff200"/><stop offset="0.6654" stop-color="#ffd500"/><stop offset="0.6839" stop-color="#ff9100"/><stop offset="0.7024" stop-color="#ff6b00"/><stop offset="0.7209" stop-color="#ff5600"/><stop offset="0.7394" stop-color="#ff4900"/><stop offset="0.7763" stop-color="#ff4300"/><stop offset="0.8318" stop-color="#ff4600"/><stop offset="0.8688" stop-color="#ff5200"/><stop offset="0.8872" stop-color="#ff5f00"/><stop offset="0.9427" stop-color="#ff8200"/><stop offset="0.9982" stop-color="#ff8c00"/></linearGradient><linearGradient id="h21"><stop offset="0.0000" stop-color="#ff1c00"/><stop offset="0.0555" stop-color="#ff2900"/><stop offset="0.1017" stop-color="#ff4900"/><stop offset="0.1109" stop-color="#ff5200"/><stop offset="0.1664" stop-color="#ff8b00"/><stop offset="0.2218" stop-color="#ffb900"/><stop offset="0.2773" stop-color="#fff700"/><stop offset="0.2865" stop-color="#edff00"/><stop offset="0.3050" stop-color="#93ff00"/><stop offset="0.3235" stop-color="#2cff00"/><stop offset="0.3327" stop-color="#13ff01"/><stop offset="0.3882" stop-color="#08ff06"/><stop offset="0.3974" stop-color="#00ff14"/><stop offset="0.4067" stop-color="#00ffb7"/><stop offset="0.4159" stop-color="#0095ff"/><stop offset="0.4251" stop-color="#004eff"/><stop offset="0.4344" stop-color="#03ff08"/><stop offset="0.4436" stop-color="#7eff00"/><stop offset="0.4529" stop-color="#ffc100"/><stop offset="0.4621" stop-color="#ffa200"/><stop offset="0.4713" stop-color="#ffcd00"/><stop offset="0.4806" stop-color="#bdff00"/><stop offset="0.4898" stop-color="#13ff01"/><stop offset="0.4991" stop-color="#0eff03"/><stop offset="0.5268" stop-color="#02ff09"/><stop offset="0.5360" stop-color="#00ff6a"/><stop offset="0.5453" stop-color="#00f4ff"/><stop offset="0.5545" stop-color="#0032ff"/><stop offset="0.5638" stop-color="#0008ff"/><stop offset="0.5730" stop-color="#0007ff"/><stop offset="0.5823" stop-color="#0029ff"/><stop offset="0.5915" stop-color="#00e3ff"/><stop offset="0.6007" stop-color="#00ffef"/><stop offset="0.6100" stop-color="#00fdff"/><stop offset="0.6192" stop-color="#05ff07"/><stop offset="0.6285" stop-color="#0fff03"/><stop offset="0.6377" stop-color="#37ff00"/><stop offset="0.6470" stop-color="#bfff00"/><stop offset="0.6562" stop-color="#fff100"/><stop offset="0.6654" stop-color="#ffd400"/><stop offset="0.6839" stop-color="#ff9000"/><stop offset="0.6932" stop-color="#ff7b00"/><stop offset="0.7116" stop-color="#ff5f00"/><stop offset="0.7209" stop-color="#ff5500"/><stop offset="0.7394" stop-color="#ff4900"/><stop offset="0.7763" stop-color="#ff4300"/><stop offset="0.8318" stop-color="#ff4600"/><stop offset="0.8688" stop-color="#ff5200"/><stop offset="0.8872" stop-color="#ff5f00"/><stop offset="0.9427" stop-color="#ff8200"/><stop offset="0.9982" stop-color="#ff8c00"/></linearGradient><linearGradient id="h22"><stop offset="0.0000" stop-color="#ff1c00"/><stop offset="0.0555" stop-color="#ff2900"/><stop offset="0.1017" stop-color="#ff4900"/><stop offset="0.1109" stop-color="#ff5200"/><stop offset="0.1664" stop-color="#ff8b00"/><stop offset="0.2218" stop-color="#ffb900"/><stop offset="0.2680" stop-color="#ffeb00"/><stop offset="0.2773" stop-color="#fff800"/><stop offset="0.2865" stop-color="#ecff00"/><stop offset="0.3050" stop-color="#92ff00"/><stop offset="0.3235" stop-color="#2aff00"/><stop offset="0.3327" stop-color="#13ff01"/><stop offset="0.3882" stop-color="#08ff06"/><stop offset="0.3974" stop-color="#00ff13"/><stop offset="0.4067" stop-color="#00ffb6"/><stop offset="0.4159" stop-color="#0092ff"/><stop offset="0.4251" stop-color="#005fff"/><stop offset="0.4344" stop-color="#04ff08"/><stop offset="0.4436" stop-color="#7eff00"/><stop offset="0.4529" stop-color="#ffc700"/><stop offset="0.4621" stop-color="#ffb100"/><stop offset="0.4713" stop-color="#ffe400"/><stop offset="0.4806" stop-color="#85ff00"/><stop offset="0.4898" stop-color="#11ff02"/><stop offset="0.4991" stop-color="#0dff04"/><stop offset="0.5268" stop-color="#01ff09"/><stop offset="0.5360" stop-color="#00ff7b"/><stop offset="0.5453" stop-color="#00e4ff"/><stop offset="0.5545" stop-color="#0029ff"/><stop offset="0.5638" stop-color="#0008ff"/><stop offset="0.5730" stop-color="#0008ff"/><stop offset="0.5823" stop-color="#0037ff"/><stop offset="0.5915" stop-color="#00f6ff"/><stop offset="0.6007" stop-color="#00fff3"/><stop offset="0.6100" stop-color="#00fff7"/><stop offset="0.6192" stop-color="#06ff07"/><stop offset="0.6285" stop-color="#0fff03"/><stop offset="0.6377" stop-color="#3cff00"/><stop offset="0.6470" stop-color="#c3ff00"/><stop offset="0.6562" stop-color="#fff000"/><stop offset="0.6654" stop-color="#ffd300"/><stop offset="0.6839" stop-color="#ff8f00"/><stop offset="0.7024" stop-color="#ff6b00"/><stop offset="0.7209" stop-color="#ff5500"/><stop offset="0.7394" stop-color="#ff4900"/><stop offset="0.7763" stop-color="#ff4300"/><stop offset="0.8318" stop-color="#ff4600"/><stop offset="0.8688" stop-color="#ff5200"/><stop offset="0.8872" stop-color="#ff5f00"/><stop offset="0.9427" stop-color="#ff8200"/><stop offset="0.9982" stop-color="#ff8c00"/></linearGradient><linearGradient id="h23"><stop offset="0.0000" stop-color="#ff1c00"/><stop offset="0.0555" stop-color="#ff2900"/><stop offset="0.1017" stop-color="#ff4900"/><stop offset="0.1109" stop-color="#ff5200"/><stop offset="0.1664" stop-color="#ff8b00"/><stop offset="0.2218" stop-color="#ffb900"/><stop offset="0.2680" stop-color="#ffeb00"/><stop offset="0.2773" stop-color="#fff800"/><stop offset="0.2865" stop-color="#ebff00"/><stop offset="0.3050" stop-color="#90ff00"/><stop offset="0.3235" stop-color="#29ff00"/><stop offset="0.3327" stop-color="#13ff01"/><stop offset="0.3882" stop-color="#08ff06"/><stop offset="0.3974" stop-color="#00ff11"/><stop offset="0.4067" stop-color="#00ffb5"/><stop offset="0.4159" stop-color="#008fff"/><stop offset="0.4251" stop-color="#0070ff"/><stop offset="0.4344" stop-color="#05ff07"/><stop offset="0.4436" stop-color="#84ff00"/><stop offset="0.4529" stop-color="#ffcc00"/><stop offset="0.4621" stop-color="#ffc000"/><stop offset="0.4713" stop-color="#fffc00"/><stop offset="0.4806" stop-color="#4fff00"/><stop offset="0.4898" stop-color="#0fff02"/><stop offset="0.4991" stop-color="#0cff04"/><stop offset="0.5268" stop-color="#00ff0d"/><stop offset="0.5360" stop-color="#00ff9c"/><stop offset="0.5453" stop-color="#00c3ff"/><stop offset="0.5545" stop-color="#0013ff"/><stop offset="0.5638" stop-color="#0008ff"/><stop offset="0.5730" stop-color="#000aff"/><stop offset="0.5823" stop-color="#0054ff"/><stop offset="0.5915" stop-color="#00ffda"/><stop offset="0.6007" stop-color="#00fbff"/><stop offset="0.6100" stop-color="#00ffda"/><stop offset="0.6192" stop-color="#07ff06"/><stop offset="0.6285" stop-color="#10ff02"/><stop offset="0.6377" stop-color="#48ff00"/><stop offset="0.6470" stop-color="#ccff00"/><stop offset="0.6562" stop-color="#ffef00"/><stop offset="0.6654" stop-color="#ffd200"/><stop offset="0.6839" stop-color="#ff8f00"/><stop offset="0.6932" stop-color="#ff7a00"/><stop offset="0.7024" stop-color="#ff6a00"/><stop offset="0.7209" stop-color="#ff5500"/><stop offset="0.7394" stop-color="#ff4900"/><stop offset="0.7763" stop-color="#ff4300"/><stop offset="0.8318" stop-color="#ff4600"/><stop offset="0.8688" stop-color="#ff5200"/><stop offset="0.8872" stop-color="#ff5f00"/><stop offset="0.9427" stop-color="#ff8200"/><stop offset="0.9982" stop-color="#ff8c00"/></linearGradient><linearGradient id="h24"><stop offset="0.0000" stop-color="#ff1c00"/><stop offset="0.0555" stop-color="#ff2900"/><stop offset="0.1017" stop-color="#ff4900"/><stop offset="0.1109" stop-color="#ff5200"/><stop offset="0.1664" stop-color="#ff8b00"/><stop offset="0.2218" stop-color="#ffb900"/><stop offset="0.2680" stop-color="#ffec00"/><stop offset="0.2773" stop-color="#fff900"/><stop offset="0.2865" stop-color="#e9ff00"/><stop offset="0.3050" stop-color="#8fff00"/><stop offset="0.3235" stop-color="#27ff00"/><stop offset="0.3327" stop-color="#13ff01"/><stop offset="0.3882" stop-color="#09ff06"/><stop offset="0.3974" stop-color="#00ff0e"/><stop offset="0.4067" stop-color="#00ffb4"/><stop offset="0.4159" stop-color="#008dff"/><stop offset="0.4251" stop-color="#0083ff"/><stop offset="0.4344" stop-color="#06ff07"/><stop offset="0.4436" stop-color="#8bff00"/><stop offset="0.4529" stop-color="#ffd100"/><stop offset="0.4621" stop-color="#ffd100"/><stop offset="0.4713" stop-color="#cfff00"/><stop offset="0.4806" stop-color="#1cff00"/><stop offset="0.4898" stop-color="#0eff03"/><stop offset="0.4991" stop-color="#0bff05"/><stop offset="0.5176" stop-color="#04ff08"/><stop offset="0.5268" stop-color="#00ff2c"/><stop offset="0.5360" stop-color="#00ffc1"/><stop offset="0.5453" stop-color="#0098ff"/><stop offset="0.5545" stop-color="#000fff"/><stop offset="0.5638" stop-color="#0008ff"/><stop offset="0.5730" stop-color="#000dff"/><stop offset="0.5823" stop-color="#0075ff"/><stop offset="0.5915" stop-color="#00ffc9"/><stop offset="0.6007" stop-color="#00ecff"/><stop offset="0.6100" stop-color="#00ffaf"/><stop offset="0.6192" stop-color="#08ff06"/><stop offset="0.6285" stop-color="#10ff02"/><stop offset="0.6377" stop-color="#57ff00"/><stop offset="0.6470" stop-color="#d6ff00"/><stop offset="0.6562" stop-color="#ffee00"/><stop offset="0.6654" stop-color="#ffd100"/><stop offset="0.6839" stop-color="#ff8e00"/><stop offset="0.7024" stop-color="#ff6a00"/><stop offset="0.7209" stop-color="#ff5500"/><stop offset="0.7394" stop-color="#ff4900"/><stop offset="0.7763" stop-color="#ff4300"/><stop offset="0.8318" stop-color="#ff4600"/><stop offset="0.8688" stop-color="#ff5200"/><stop offset="0.8872" stop-color="#ff5f00"/><stop offset="0.9427" stop-color="#ff8200"/><stop offset="0.9982" stop-color="#ff8c00"/></linearGradient><linearGradient id="h25"><stop offset="0.0000" stop-color="#ff1c00"/><stop offset="0.0555" stop-color="#ff2900"/><stop offset="0.1017" stop-color="#ff4900"/><stop offset="0.1109" stop-color="#ff5200"/><stop offset="0.1664" stop-color="#ff8b00"/><stop offset="0.2218" stop-color="#ffba00"/><stop offset="0.2680" stop-color="#ffec00"/><stop offset="0.2773" stop-color="#fff900"/><stop offset="0.2865" stop-color="#e8ff00"/><stop offset="0.3050" stop-color="#8dff00"/><stop offset="0.3235" stop-color="#26ff00"/><stop offset="0.3327" stop-color="#13ff01"/><stop offset="0.3882" stop-color="#09ff06"/><stop offset="0.3974" stop-color="#00ff0a"/><stop offset="0.4067" stop-color="#00ffb0"/><stop offset="0.4159" stop-color="#008fff"/><stop offset="0.4251" stop-color="#0099ff"/><stop offset="0.4344" stop-color="#07ff06"/><stop offset="0.4436" stop-color="#93ff00"/><stop offset="0.4529" stop-color="#ffd600"/><stop offset="0.4621" stop-color="#ffe300"/><stop offset="0.4713" stop-color="#97ff00"/><stop offset="0.4806" stop-color="#12ff01"/><stop offset="0.4991" stop-color="#0aff05"/><stop offset="0.5176" stop-color="#03ff09"/><stop offset="0.5268" stop-color="#00ff4e"/><stop offset="0.5360" stop-color="#00ffe6"/><stop offset="0.5453" stop-color="#0070ff"/><stop offset="0.5545" stop-color="#000dff"/><stop offset="0.5638" stop-color="#0009ff"/><stop offset="0.5730" stop-color="#0011ff"/><stop offset="0.5823" stop-color="#0098ff"/><stop offset="0.5915" stop-color="#00ffd2"/><stop offset="0.6007" stop-color="#00e3ff"/><stop offset="0.6100" stop-color="#00ff67"/><stop offset="0.6192" stop-color="#0aff05"/><stop offset="0.6285" stop-color="#11ff01"/><stop offset="0.6377" stop-color="#65ff00"/><stop offset="0.6470" stop-color="#dfff00"/><stop offset="0.6562" stop-color="#ffed00"/><stop offset="0.6654" stop-color="#ffd000"/><stop offset="0.6839" stop-color="#ff8e00"/><stop offset="0.6932" stop-color="#ff7900"/><stop offset="0.7116" stop-color="#ff5e00"/><stop offset="0.7209" stop-color="#ff5500"/><stop offset="0.7394" stop-color="#ff4900"/><stop offset="0.7763" stop-color="#ff4300"/><stop offset="0.8318" stop-color="#ff4600"/><stop offset="0.8688" stop-color="#ff5200"/><stop offset="0.8872" stop-color="#ff5f00"/><stop offset="0.9427" stop-color="#ff8200"/><stop offset="0.9982" stop-color="#ff8c00"/></linearGradient><linearGradient id="h26"><stop offset="0.0000" stop-color="#ff1c00"/><stop offset="0.0555" stop-color="#ff2900"/><stop offset="0.1017" stop-color="#ff4900"/><stop offset="0.1109" stop-color="#ff5200"/><stop offset="0.1664" stop-color="#ff8c00"/><stop offset="0.2218" stop-color="#ffba00"/><stop offset="0.2680" stop-color="#ffec00"/><stop offset="0.2773" stop-color="#fffa00"/><stop offset="0.2865" stop-color="#e6ff00"/><stop offset="0.3050" stop-color="#8bff00"/><stop offset="0.3235" stop-color="#24ff00"/><stop offset="0.3327" stop-color="#13ff01"/><stop offset="0.3882" stop-color="#09ff05"/><stop offset="0.3974" stop-color="#01ff0a"/><stop offset="0.4067" stop-color="#00ffa6"/><stop offset="0.4159" stop-color="#009aff"/><stop offset="0.4251" stop-color="#00b9ff"/><stop offset="0.4344" stop-color="#09ff06"/><stop offset="0.4436" stop-color="#a0ff00"/><stop offset="0.4529" stop-color="#ffdc00"/><stop offset="0.4621" stop-color="#fff600"/><stop offset="0.4713" stop-color="#5fff00"/><stop offset="0.4806" stop-color="#10ff02"/><stop offset="0.4991" stop-color="#09ff05"/><stop offset="0.5176" stop-color="#01ff09"/><stop offset="0.5268" stop-color="#00ff72"/><stop offset="0.5360" stop-color="#00f4ff"/><stop offset="0.5453" stop-color="#004fff"/><stop offset="0.5545" stop-color="#000cff"/><stop offset="0.5638" stop-color="#000aff"/><stop offset="0.5730" stop-color="#0021ff"/><stop offset="0.5823" stop-color="#00baff"/><stop offset="0.5915" stop-color="#00ffe4"/><stop offset="0.6007" stop-color="#00e5ff"/><stop offset="0.6100" stop-color="#00ff2a"/><stop offset="0.6192" stop-color="#0bff05"/><stop offset="0.6285" stop-color="#12ff01"/><stop offset="0.6377" stop-color="#73ff00"/><stop offset="0.6470" stop-color="#e7ff00"/><stop offset="0.6562" stop-color="#ffec00"/><stop offset="0.6654" stop-color="#ffcf00"/><stop offset="0.6839" stop-color="#ff8d00"/><stop offset="0.7024" stop-color="#ff6900"/><stop offset="0.7209" stop-color="#ff5500"/><stop offset="0.7394" stop-color="#ff4900"/><stop offset="0.7763" stop-color="#ff4300"/><stop offset="0.8318" stop-color="#ff4600"/><stop offset="0.8688" stop-color="#ff5200"/><stop offset="0.8872" stop-color="#ff5f00"/><stop offset="0.9427" stop-color="#ff8200"/><stop offset="0.9982" stop-color="#ff8c00"/></linearGradient><linearGradient id="h27"><stop offset="0.0000" stop-color="#ff1c00"/><stop offset="0.0555" stop-color="#ff2900"/><stop offset="0.1017" stop-color="#ff4900"/><stop offset="0.1109" stop-color="#ff5200"/><stop offset="0.1664" stop-color="#ff8c00"/><stop offset="0.2218" stop-color="#ffba00"/><stop offset="0.2680" stop-color="#ffed00"/><stop offset="0.2773" stop-color="#fffa00"/><stop offset="0.2865" stop-color="#e5ff00"/><stop offset="0.3050" stop-color="#89ff00"/><stop offset="0.3235" stop-color="#22ff00"/><stop offset="0.3327" stop-color="#13ff01"/><stop offset="0.3882" stop-color="#09ff05"/><stop offset="0.3974" stop-color="#01ff09"/><stop offset="0.4067" stop-color="#00ff9c"/><stop offset="0.4159" stop-color="#00a4ff"/><stop offset="0.4251" stop-color="#00d9ff"/><stop offset="0.4344" stop-color="#0aff05"/><stop offset="0.4436" stop-color="#aaff00"/><stop offset="0.4529" stop-color="#ffe400"/><stop offset="0.4621" stop-color="#e3ff00"/><stop offset="0.4713" stop-color="#28ff00"/><stop offset="0.4806" stop-color="#0fff03"/><stop offset="0.4991" stop-color="#08ff06"/><stop offset="0.5176" stop-color="#00ff0a"/><stop offset="0.5268" stop-color="#00ff96"/><stop offset="0.5360" stop-color="#00d3ff"/><stop offset="0.5453" stop-color="#0033ff"/><stop offset="0.5545" stop-color="#000cff"/><stop offset="0.5638" stop-color="#000cff"/><stop offset="0.5730" stop-color="#0041ff"/><stop offset="0.5823" stop-color="#00e4ff"/><stop offset="0.5915" stop-color="#00fff8"/><stop offset="0.6007" stop-color="#00f3ff"/><stop offset="0.6100" stop-color="#01ff0a"/><stop offset="0.6192" stop-color="#0cff04"/><stop offset="0.6285" stop-color="#12ff01"/><stop offset="0.6470" stop-color="#eaff00"/><stop offset="0.6562" stop-color="#ffeb00"/><stop offset="0.6654" stop-color="#ffce00"/><stop offset="0.6839" stop-color="#ff8c00"/><stop offset="0.6932" stop-color="#ff7800"/><stop offset="0.7116" stop-color="#ff5e00"/><stop offset="0.7209" stop-color="#ff5500"/><stop offset="0.7394" stop-color="#ff4900"/><stop offset="0.7763" stop-color="#ff4300"/><stop offset="0.8318" stop-color="#ff4600"/><stop offset="0.8688" stop-color="#ff5200"/><stop offset="0.8872" stop-color="#ff5f00"/><stop offset="0.9427" stop-color="#ff8200"/><stop offset="0.9982" stop-color="#ff8c00"/></linearGradient><linearGradient id="h28"><stop offset="0.0000" stop-color="#ff1c00"/><stop offset="0.0555" stop-color="#ff2900"/><stop offset="0.0924" stop-color="#ff4100"/><stop offset="0.1109" stop-color="#ff5200"/><stop offset="0.1664" stop-color="#ff8c00"/><stop offset="0.2218" stop-color="#ffba00"/><stop offset="0.2680" stop-color="#ffed00"/><stop offset="0.2773" stop-color="#fffb00"/><stop offset="0.2865" stop-color="#e3ff00"/><stop offset="0.3050" stop-color="#88ff00"/><stop offset="0.3235" stop-color="#20ff00"/><stop offset="0.3327" stop-color="#12ff01"/><stop offset="0.3882" stop-color="#0aff05"/><stop offset="0.3974" stop-color="#02ff09"/><stop offset="0.4067" stop-color="#00ff91"/><stop offset="0.4159" stop-color="#00afff"/><stop offset="0.4251" stop-color="#00f9ff"/><stop offset="0.4344" stop-color="#0bff04"/><stop offset="0.4436" stop-color="#b2ff00"/><stop offset="0.4529" stop-color="#ffee00"/><stop offset="0.4621" stop-color="#adff00"/><stop offset="0.4713" stop-color="#13ff01"/><stop offset="0.4991" stop-color="#08ff06"/><stop offset="0.5083" stop-color="#04ff08"/><stop offset="0.5176" stop-color="#00ff27"/><stop offset="0.5268" stop-color="#00ffba"/><stop offset="0.5360" stop-color="#00b0ff"/><stop offset="0.5453" stop-color="#0019ff"/><stop offset="0.5545" stop-color="#000bff"/><stop offset="0.5638" stop-color="#000eff"/><stop offset="0.5730" stop-color="#005fff"/><stop offset="0.5823" stop-color="#00fff1"/><stop offset="0.5915" stop-color="#00f9ff"/><stop offset="0.6007" stop-color="#00fff4"/><stop offset="0.6100" stop-color="#03ff08"/><stop offset="0.6285" stop-color="#13ff00"/><stop offset="0.6377" stop-color="#8bff00"/><stop offset="0.6470" stop-color="#edff00"/><stop offset="0.6562" stop-color="#ffea00"/><stop offset="0.6654" stop-color="#ffcd00"/><stop offset="0.6747" stop-color="#ffaa00"/><stop offset="0.6839" stop-color="#ff8c00"/><stop offset="0.6932" stop-color="#ff7800"/><stop offset="0.7209" stop-color="#ff5400"/><stop offset="0.7394" stop-color="#ff4900"/><stop offset="0.7763" stop-color="#ff4300"/><stop offset="0.8318" stop-color="#ff4600"/><stop offset="0.8688" stop-color="#ff5200"/><stop offset="0.8872" stop-color="#ff5f00"/><stop offset="0.9427" stop-color="#ff8200"/><stop offset="0.9982" stop-color="#ff8c00"/></linearGradient><linearGradient id="h29"><stop offset="0.0000" stop-color="#ff1c00"/><stop offset="0.0555" stop-color="#ff2900"/><stop offset="0.0924" stop-color="#ff4100"/><stop offset="0.1109" stop-color="#ff5200"/><stop offset="0.1664" stop-color="#ff8c00"/><stop offset="0.2218" stop-color="#ffbb00"/><stop offset="0.2680" stop-color="#ffee00"/><stop offset="0.2773" stop-color="#fffb00"/><stop offset="0.2865" stop-color="#e1ff00"/><stop offset="0.3050" stop-color="#86ff00"/><stop offset="0.3235" stop-color="#1eff00"/><stop offset="0.3327" stop-color="#12ff01"/><stop offset="0.3882" stop-color="#0aff05"/><stop offset="0.3974" stop-color="#03ff09"/><stop offset="0.4067" stop-color="#00ff87"/><stop offset="0.4159" stop-color="#00b5ff"/><stop offset="0.4251" stop-color="#00ffd6"/><stop offset="0.4344" stop-color="#0dff04"/><stop offset="0.4436" stop-color="#c2ff00"/><stop offset="0.4529" stop-color="#fff800"/><stop offset="0.4621" stop-color="#76ff00"/><stop offset="0.4713" stop-color="#10ff02"/><stop offset="0.4991" stop-color="#07ff07"/><stop offset="0.5083" stop-color="#03ff09"/><stop offset="0.5176" stop-color="#00ff49"/><stop offset="0.5268" stop-color="#00ffdd"/><stop offset="0.5360" stop-color="#008dff"/><stop offset="0.5453" stop-color="#0011ff"/><stop offset="0.5545" stop-color="#000bff"/><stop offset="0.5638" stop-color="#0010ff"/><stop offset="0.5730" stop-color="#007cff"/><stop offset="0.5823" stop-color="#00ffd8"/><stop offset="0.5915" stop-color="#00ecff"/><stop offset="0.6007" stop-color="#00ffd7"/><stop offset="0.6100" stop-color="#05ff07"/><stop offset="0.6285" stop-color="#14ff00"/><stop offset="0.6377" stop-color="#96ff00"/><stop offset="0.6470" stop-color="#efff00"/><stop offset="0.6562" stop-color="#ffe900"/><stop offset="0.6654" stop-color="#ffcc00"/><stop offset="0.6747" stop-color="#ffa900"/><stop offset="0.6839" stop-color="#ff8b00"/><stop offset="0.7024" stop-color="#ff6800"/><stop offset="0.7209" stop-color="#ff5400"/><stop offset="0.7394" stop-color="#ff4900"/><stop offset="0.7763" stop-color="#ff4300"/><stop offset="0.8318" stop-color="#ff4600"/><stop offset="0.8688" stop-color="#ff5200"/><stop offset="0.8872" stop-color="#ff5f00"/><stop offset="0.9427" stop-color="#ff8200"/><stop offset="0.9982" stop-color="#ff8c00"/></linearGradient><linearGradient id="h30"><stop offset="0.0000" stop-color="#ff1c00"/><stop offset="0.0555" stop-color="#ff2900"/><stop offset="0.0924" stop-color="#ff4100"/><stop offset="0.1109" stop-color="#ff5200"/><stop offset="0.1664" stop-color="#ff8c00"/><stop offset="0.2218" stop-color="#ffbb00"/><stop offset="0.2680" stop-color="#ffee00"/><stop offset="0.2773" stop-color="#fffc00"/><stop offset="0.2865" stop-color="#e0ff00"/><stop offset="0.3050" stop-color="#84ff00"/><stop offset="0.3235" stop-color="#1cff00"/><stop offset="0.3327" stop-color="#12ff01"/><stop offset="0.3882" stop-color="#0aff05"/><stop offset="0.3974" stop-color="#03ff09"/><stop offset="0.4067" stop-color="#00ff7e"/><stop offset="0.4159" stop-color="#00b3ff"/><stop offset="0.4251" stop-color="#00ff8a"/><stop offset="0.4344" stop-color="#10ff02"/><stop offset="0.4436" stop-color="#e4ff00"/><stop offset="0.4529" stop-color="#f6ff00"/><stop offset="0.4621" stop-color="#3fff00"/><stop offset="0.4713" stop-color="#0fff03"/><stop offset="0.4991" stop-color="#06ff07"/><stop offset="0.5083" stop-color="#02ff09"/><stop offset="0.5176" stop-color="#00ff6c"/><stop offset="0.5268" stop-color="#00ffff"/><stop offset="0.5360" stop-color="#006aff"/><stop offset="0.5453" stop-color="#000eff"/><stop offset="0.5545" stop-color="#000bff"/><stop offset="0.5638" stop-color="#0012ff"/><stop offset="0.5730" stop-color="#0099ff"/><stop offset="0.5823" stop-color="#00ffdb"/><stop offset="0.5915" stop-color="#00e3ff"/><stop offset="0.6007" stop-color="#00ffb0"/><stop offset="0.6100" stop-color="#06ff07"/><stop offset="0.6192" stop-color="#0eff03"/><stop offset="0.6285" stop-color="#1dff00"/><stop offset="0.6377" stop-color="#a0ff00"/><stop offset="0.6470" stop-color="#f1ff00"/><stop offset="0.6562" stop-color="#ffe800"/><stop offset="0.6654" stop-color="#ffca00"/><stop offset="0.6747" stop-color="#ffa700"/><stop offset="0.6839" stop-color="#ff8b00"/><stop offset="0.6932" stop-color="#ff7700"/><stop offset="0.7116" stop-color="#ff5d00"/><stop offset="0.7209" stop-color="#ff5400"/><stop offset="0.7394" stop-color="#ff4900"/><stop offset="0.7763" stop-color="#ff4300"/><stop offset="0.8318" stop-color="#ff4600"/><stop offset="0.8688" stop-color="#ff5200"/><stop offset="0.8872" stop-color="#ff5f00"/><stop offset="0.9427" stop-color="#ff8200"/><stop offset="0.9982" stop-color="#ff8c00"/></linearGradient><linearGradient id="h31"><stop offset="0.0000" stop-color="#ff1c00"/><stop offset="0.0555" stop-color="#ff2900"/><stop offset="0.0924" stop-color="#ff4100"/><stop offset="0.1109" stop-color="#ff5200"/><stop offset="0.1664" stop-color="#ff8c00"/><stop offset="0.2218" stop-color="#ffbb00"/><stop offset="0.2680" stop-color="#ffef00"/><stop offset="0.2773" stop-color="#fffc00"/><stop offset="0.2865" stop-color="#deff00"/><stop offset="0.3050" stop-color="#82ff00"/><stop offset="0.3235" stop-color="#1bff00"/><stop offset="0.3327" stop-color="#12ff01"/><stop offset="0.3882" stop-color="#0aff05"/><stop offset="0.3974" stop-color="#03ff09"/><stop offset="0.4067" stop-color="#00ff74"/><stop offset="0.4159" stop-color="#00b5ff"/><stop offset="0.4251" stop-color="#00ff3d"/><stop offset="0.4344" stop-color="#13ff01"/><stop offset="0.4436" stop-color="#fdff00"/><stop offset="0.4529" stop-color="#d1ff00"/><stop offset="0.4621" stop-color="#13ff00"/><stop offset="0.4713" stop-color="#0dff03"/><stop offset="0.4991" stop-color="#05ff07"/><stop offset="0.5083" stop-color="#00ff0a"/><stop offset="0.5176" stop-color="#00ff8f"/><stop offset="0.5268" stop-color="#00e3ff"/><stop offset="0.5360" stop-color="#0049ff"/><stop offset="0.5453" stop-color="#000cff"/><stop offset="0.5545" stop-color="#000aff"/><stop offset="0.5638" stop-color="#0022ff"/><stop offset="0.5730" stop-color="#00b7ff"/><stop offset="0.5823" stop-color="#00ffe9"/><stop offset="0.5915" stop-color="#00e1ff"/><stop offset="0.6007" stop-color="#00ff7d"/><stop offset="0.6100" stop-color="#07ff06"/><stop offset="0.6192" stop-color="#0fff03"/><stop offset="0.6285" stop-color="#2aff00"/><stop offset="0.6377" stop-color="#a9ff00"/><stop offset="0.6470" stop-color="#f3ff00"/><stop offset="0.6562" stop-color="#ffe700"/><stop offset="0.6654" stop-color="#ffc900"/><stop offset="0.6747" stop-color="#ffa600"/><stop offset="0.6839" stop-color="#ff8a00"/><stop offset="0.7024" stop-color="#ff6800"/><stop offset="0.7209" stop-color="#ff5400"/><stop offset="0.7394" stop-color="#ff4900"/><stop offset="0.7763" stop-color="#ff4300"/><stop offset="0.8318" stop-color="#ff4600"/><stop offset="0.8688" stop-color="#ff5200"/><stop offset="0.8872" stop-color="#ff5f00"/><stop offset="0.9427" stop-color="#ff8200"/><stop offset="0.9982" stop-color="#ff8c00"/></linearGradient><linearGradient id="h32"><stop offset="0.0000" stop-color="#ff1c00"/><stop offset="0.0555" stop-color="#ff2900"/><stop offset="0.0924" stop-color="#ff4100"/><stop offset="0.1109" stop-color="#ff5200"/><stop offset="0.1664" stop-color="#ff8c00"/><stop offset="0.2218" stop-color="#ffbb00"/><stop offset="0.2680" stop-color="#ffef00"/><stop offset="0.2773" stop-color="#fffd00"/><stop offset="0.2865" stop-color="#dcff00"/><stop offset="0.3050" stop-color="#80ff00"/><stop offset="0.3235" stop-color="#19ff00"/><stop offset="0.3327" stop-color="#12ff01"/><stop offset="0.3882" stop-color="#0aff05"/><stop offset="0.3974" stop-color="#03ff09"/><stop offset="0.4067" stop-color="#00ff68"/><stop offset="0.4159" stop-color="#00beff"/><stop offset="0.4251" stop-color="#01ff09"/><stop offset="0.4344" stop-color="#36ff00"/><stop offset="0.4436" stop-color="#fffb00"/><stop offset="0.4529" stop-color="#a0ff00"/><stop offset="0.4621" stop-color="#11ff01"/><stop offset="0.4991" stop-color="#04ff08"/><stop offset="0.5083" stop-color="#00ff20"/><stop offset="0.5176" stop-color="#00ffb0"/><stop offset="0.5268" stop-color="#00c5ff"/><stop offset="0.5360" stop-color="#002aff"/><stop offset="0.5453" stop-color="#000aff"/><stop offset="0.5545" stop-color="#000aff"/><stop offset="0.5638" stop-color="#003bff"/><stop offset="0.5730" stop-color="#00daff"/><stop offset="0.5823" stop-color="#00fffb"/><stop offset="0.5915" stop-color="#00e8ff"/><stop offset="0.6007" stop-color="#00ff4d"/><stop offset="0.6100" stop-color="#08ff06"/><stop offset="0.6192" stop-color="#0fff02"/><stop offset="0.6285" stop-color="#37ff00"/><stop offset="0.6377" stop-color="#b1ff00"/><stop offset="0.6470" stop-color="#f6ff00"/><stop offset="0.6562" stop-color="#ffe600"/><stop offset="0.6654" stop-color="#ffc800"/><stop offset="0.6747" stop-color="#ffa500"/><stop offset="0.6839" stop-color="#ff8a00"/><stop offset="0.6932" stop-color="#ff7600"/><stop offset="0.7116" stop-color="#ff5d00"/><stop offset="0.7209" stop-color="#ff5400"/><stop offset="0.7394" stop-color="#ff4900"/><stop offset="0.7763" stop-color="#ff4300"/><stop offset="0.8318" stop-color="#ff4600"/><stop offset="0.8688" stop-color="#ff5200"/><stop offset="0.8872" stop-color="#ff5f00"/><stop offset="0.9427" stop-color="#ff8200"/><stop offset="0.9982" stop-color="#ff8c00"/></linearGradient><linearGradient id="h33"><stop offset="0.0000" stop-color="#ff1c00"/><stop offset="0.0555" stop-color="#ff2900"/><stop offset="0.0924" stop-color="#ff4100"/><stop offset="0.1109" stop-color="#ff5200"/><stop offset="0.1664" stop-color="#ff8d00"/><stop offset="0.2218" stop-color="#ffbc00"/><stop offset="0.2680" stop-color="#fff000"/><stop offset="0.2773" stop-color="#fffe00"/><stop offset="0.2865" stop-color="#dbff00"/><stop offset="0.3050" stop-color="#7eff00"/><stop offset="0.3235" stop-color="#17ff00"/><stop offset="0.3327" stop-color="#12ff01"/><stop offset="0.3882" stop-color="#0aff05"/><stop offset="0.3974" stop-color="#03ff09"/><stop offset="0.4067" stop-color="#00ff5e"/><stop offset="0.4159" stop-color="#00c7ff"/><stop offset="0.4251" stop-color="#04ff08"/><stop offset="0.4344" stop-color="#6aff00"/><stop offset="0.4436" stop-color="#fffd00"/><stop offset="0.4529" stop-color="#65ff00"/><stop offset="0.4621" stop-color="#0fff02"/><stop offset="0.4991" stop-color="#03ff08"/><stop offset="0.5083" stop-color="#00ff41"/><stop offset="0.5176" stop-color="#00ffcf"/><stop offset="0.5268" stop-color="#00a2ff"/><stop offset="0.5360" stop-color="#0012ff"/><stop offset="0.5453" stop-color="#0008ff"/><stop offset="0.5545" stop-color="#000bff"/><stop offset="0.5638" stop-color="#0054ff"/><stop offset="0.5730" stop-color="#00faff"/><stop offset="0.5915" stop-color="#00f6ff"/><stop offset="0.6007" stop-color="#00ff22"/><stop offset="0.6100" stop-color="#09ff05"/><stop offset="0.6192" stop-color="#10ff02"/><stop offset="0.6285" stop-color="#43ff00"/><stop offset="0.6377" stop-color="#b6ff00"/><stop offset="0.6470" stop-color="#f8ff00"/><stop offset="0.6562" stop-color="#ffe500"/><stop offset="0.6654" stop-color="#ffc700"/><stop offset="0.6747" stop-color="#ffa400"/><stop offset="0.6839" stop-color="#ff8900"/><stop offset="0.7024" stop-color="#ff6700"/><stop offset="0.7209" stop-color="#ff5400"/><stop offset="0.7394" stop-color="#ff4900"/><stop offset="0.7763" stop-color="#ff4300"/><stop offset="0.8318" stop-color="#ff4600"/><stop offset="0.8688" stop-color="#ff5200"/><stop offset="0.8872" stop-color="#ff5f00"/><stop offset="0.9427" stop-color="#ff8200"/><stop offset="0.9982" stop-color="#ff8c00"/></linearGradient><linearGradient id="h34"><stop offset="0.0000" stop-color="#ff1c00"/><stop offset="0.0555" stop-color="#ff2900"/><stop offset="0.0924" stop-color="#ff4100"/><stop offset="0.1109" stop-color="#ff5200"/><stop offset="0.1664" stop-color="#ff8d00"/><stop offset="0.2218" stop-color="#ffbc00"/><stop offset="0.2680" stop-color="#fff000"/><stop offset="0.2773" stop-color="#fffe00"/><stop offset="0.2865" stop-color="#d9ff00"/><stop offset="0.3050" stop-color="#7cff00"/><stop offset="0.3235" stop-color="#15ff00"/><stop offset="0.3327" stop-color="#12ff01"/><stop offset="0.3882" stop-color="#0aff05"/><stop offset="0.3974" stop-color="#02ff09"/><stop offset="0.4067" stop-color="#00ff53"/><stop offset="0.4159" stop-color="#00d8ff"/><stop offset="0.4251" stop-color="#07ff06"/><stop offset="0.4344" stop-color="#98ff00"/><stop offset="0.4436" stop-color="#efff00"/><stop offset="0.4529" stop-color="#26ff00"/><stop offset="0.4621" stop-color="#0eff03"/><stop offset="0.4991" stop-color="#02ff09"/><stop offset="0.5083" stop-color="#00ff64"/><stop offset="0.5176" stop-color="#00ffee"/><stop offset="0.5268" stop-color="#007dff"/><stop offset="0.5360" stop-color="#000dff"/><stop offset="0.5453" stop-color="#0006ff"/><stop offset="0.5545" stop-color="#000cff"/><stop offset="0.5638" stop-color="#0073ff"/><stop offset="0.5730" stop-color="#00ffea"/><stop offset="0.5823" stop-color="#00edff"/><stop offset="0.5915" stop-color="#00fff4"/><stop offset="0.6007" stop-color="#01ff0a"/><stop offset="0.6100" stop-color="#0aff05"/><stop offset="0.6192" stop-color="#11ff02"/><stop offset="0.6285" stop-color="#4fff00"/><stop offset="0.6377" stop-color="#b8ff00"/><stop offset="0.6470" stop-color="#faff00"/><stop offset="0.6562" stop-color="#ffe400"/><stop offset="0.6654" stop-color="#ffc600"/><stop offset="0.6747" stop-color="#ffa300"/><stop offset="0.6839" stop-color="#ff8900"/><stop offset="0.6932" stop-color="#ff7500"/><stop offset="0.7209" stop-color="#ff5400"/><stop offset="0.7394" stop-color="#ff4900"/><stop offset="0.7763" stop-color="#ff4300"/><stop offset="0.8318" stop-color="#ff4600"/><stop offset="0.8688" stop-color="#ff5200"/><stop offset="0.8872" stop-color="#ff5f00"/><stop offset="0.9427" stop-color="#ff8200"/><stop offset="0.9982" stop-color="#ff8c00"/></linearGradient><linearGradient id="h35"><stop offset="0.0000" stop-color="#ff1c00"/><stop offset="0.0555" stop-color="#ff2900"/><stop offset="0.0924" stop-color="#ff4100"/><stop offset="0.1109" stop-color="#ff5300"/><stop offset="0.1664" stop-color="#ff8d00"/><stop offset="0.2218" stop-color="#ffbc00"/><stop offset="0.2680" stop-color="#fff100"/><stop offset="0.2773" stop-color="#ffff00"/><stop offset="0.2865" stop-color="#d7ff00"/><stop offset="0.3050" stop-color="#7aff00"/><stop offset="0.3142" stop-color="#44ff00"/><stop offset="0.3235" stop-color="#14ff00"/><stop offset="0.3327" stop-color="#12ff01"/><stop offset="0.3882" stop-color="#0aff05"/><stop offset="0.3974" stop-color="#02ff09"/><stop offset="0.4067" stop-color="#00ff46"/><stop offset="0.4159" stop-color="#00f2ff"/><stop offset="0.4251" stop-color="#0aff05"/><stop offset="0.4344" stop-color="#c0ff00"/><stop offset="0.4436" stop-color="#c8ff00"/><stop offset="0.4529" stop-color="#12ff01"/><stop offset="0.4621" stop-color="#0cff04"/><stop offset="0.4991" stop-color="#01ff0a"/><stop offset="0.5083" stop-color="#00ff86"/><stop offset="0.5176" stop-color="#00f3ff"/><stop offset="0.5268" stop-color="#0059ff"/><stop offset="0.5360" stop-color="#000aff"/><stop offset="0.5453" stop-color="#0006ff"/><stop offset="0.5545" stop-color="#000eff"/><stop offset="0.5638" stop-color="#0096ff"/><stop offset="0.5730" stop-color="#00ffe1"/><stop offset="0.5823" stop-color="#00e5ff"/><stop offset="0.5915" stop-color="#00ffdd"/><stop offset="0.6007" stop-color="#03ff09"/><stop offset="0.6100" stop-color="#0bff05"/><stop offset="0.6192" stop-color="#11ff01"/><stop offset="0.6285" stop-color="#5aff00"/><stop offset="0.6377" stop-color="#bbff00"/><stop offset="0.6470" stop-color="#fdff00"/><stop offset="0.6654" stop-color="#ffc500"/><stop offset="0.6747" stop-color="#ffa200"/><stop offset="0.6839" stop-color="#ff8800"/><stop offset="0.6932" stop-color="#ff7500"/><stop offset="0.7116" stop-color="#ff5c00"/><stop offset="0.7209" stop-color="#ff5300"/><stop offset="0.7763" stop-color="#ff4300"/><stop offset="0.8318" stop-color="#ff4600"/><stop offset="0.8688" stop-color="#ff5200"/><stop offset="0.8872" stop-color="#ff5f00"/><stop offset="0.9427" stop-color="#ff8200"/><stop offset="0.9982" stop-color="#ff8c00"/></linearGradient><linearGradient id="h36"><stop offset="0.0000" stop-color="#ff1c00"/><stop offset="0.0555" stop-color="#ff2900"/><stop offset="0.0924" stop-color="#ff4100"/><stop offset="0.1109" stop-color="#ff5300"/><stop offset="0.1664" stop-color="#ff8d00"/><stop offset="0.2218" stop-color="#ffbd00"/><stop offset="0.2680" stop-color="#fff100"/><stop offset="0.2773" stop-color="#feff00"/><stop offset="0.2957" stop-color="#a8ff00"/><stop offset="0.3050" stop-color="#78ff00"/><stop offset="0.3142" stop-color="#42ff00"/><stop offset="0.3235" stop-color="#14ff00"/><stop offset="0.3327" stop-color="#12ff01"/><stop offset="0.3882" stop-color="#0aff05"/><stop offset="0.3974" stop-color="#01ff09"/><stop offset="0.4067" stop-color="#00ff58"/><stop offset="0.4159" stop-color="#00ffe4"/><stop offset="0.4251" stop-color="#0cff04"/><stop offset="0.4344" stop-color="#d1ff00"/><stop offset="0.4436" stop-color="#9fff00"/><stop offset="0.4529" stop-color="#10ff02"/><stop offset="0.4898" stop-color="#04ff08"/><stop offset="0.4991" stop-color="#00ff12"/><stop offset="0.5083" stop-color="#00ffa0"/><stop offset="0.5176" stop-color="#00ddff"/><stop offset="0.5268" stop-color="#0040ff"/><stop offset="0.5360" stop-color="#0008ff"/><stop offset="0.5453" stop-color="#0005ff"/><stop offset="0.5545" stop-color="#0012ff"/><stop offset="0.5638" stop-color="#00aeff"/><stop offset="0.5730" stop-color="#00ffe6"/><stop offset="0.5823" stop-color="#00e2ff"/><stop offset="0.5915" stop-color="#00ffc6"/><stop offset="0.6007" stop-color="#04ff08"/><stop offset="0.6100" stop-color="#0bff04"/><stop offset="0.6192" stop-color="#12ff01"/><stop offset="0.6285" stop-color="#62ff00"/><stop offset="0.6377" stop-color="#bdff00"/><stop offset="0.6470" stop-color="#ffff00"/><stop offset="0.6654" stop-color="#ffc400"/><stop offset="0.6747" stop-color="#ffa100"/><stop offset="0.6839" stop-color="#ff8800"/><stop offset="0.6932" stop-color="#ff7500"/><stop offset="0.7116" stop-color="#ff5c00"/><stop offset="0.7209" stop-color="#ff5300"/><stop offset="0.7763" stop-color="#ff4300"/><stop offset="0.8318" stop-color="#ff4600"/><stop offset="0.8688" stop-color="#ff5200"/><stop offset="0.8872" stop-color="#ff5f00"/><stop offset="0.9427" stop-color="#ff8200"/><stop offset="0.9982" stop-color="#ff8c00"/></linearGradient><linearGradient id="h37"><stop offset="0.0000" stop-color="#ff1c00"/><stop offset="0.0555" stop-color="#ff2900"/><stop offset="0.0924" stop-color="#ff4100"/><stop offset="0.1109" stop-color="#ff5300"/><stop offset="0.1664" stop-color="#ff8d00"/><stop offset="0.2218" stop-color="#ffbd00"/><stop offset="0.2588" stop-color="#ffe500"/><stop offset="0.2773" stop-color="#fcff00"/><stop offset="0.2865" stop-color="#d4ff00"/><stop offset="0.3050" stop-color="#76ff00"/><stop offset="0.3142" stop-color="#40ff00"/><stop offset="0.3235" stop-color="#14ff00"/><stop offset="0.3327" stop-color="#12ff01"/><stop offset="0.3882" stop-color="#0aff05"/><stop offset="0.3974" stop-color="#01ff0a"/><stop offset="0.4067" stop-color="#00ff73"/><stop offset="0.4159" stop-color="#00ffb2"/><stop offset="0.4251" stop-color="#0eff03"/><stop offset="0.4344" stop-color="#dbff00"/><stop offset="0.4436" stop-color="#71ff00"/><stop offset="0.4529" stop-color="#0eff03"/><stop offset="0.4898" stop-color="#04ff08"/><stop offset="0.4991" stop-color="#00ff29"/><stop offset="0.5083" stop-color="#00ffb6"/><stop offset="0.5176" stop-color="#00c8ff"/><stop offset="0.5268" stop-color="#0029ff"/><stop offset="0.5360" stop-color="#0006ff"/><stop offset="0.5453" stop-color="#0005ff"/><stop offset="0.5545" stop-color="#001aff"/><stop offset="0.5638" stop-color="#00c3ff"/><stop offset="0.5730" stop-color="#00ffef"/><stop offset="0.5823" stop-color="#00e2ff"/><stop offset="0.5915" stop-color="#00ffad"/><stop offset="0.6007" stop-color="#05ff08"/><stop offset="0.6100" stop-color="#0cff04"/><stop offset="0.6192" stop-color="#12ff01"/><stop offset="0.6377" stop-color="#bfff00"/><stop offset="0.6470" stop-color="#fffe00"/><stop offset="0.6654" stop-color="#ffc300"/><stop offset="0.6747" stop-color="#ffa000"/><stop offset="0.6839" stop-color="#ff8700"/><stop offset="0.6932" stop-color="#ff7400"/><stop offset="0.7209" stop-color="#ff5300"/><stop offset="0.7763" stop-color="#ff4300"/><stop offset="0.8318" stop-color="#ff4600"/><stop offset="0.8688" stop-color="#ff5200"/><stop offset="0.8872" stop-color="#ff5f00"/><stop offset="0.9427" stop-color="#ff8200"/><stop offset="0.9982" stop-color="#ff8c00"/></linearGradient><linearGradient id="h38"><stop offset="0.0000" stop-color="#ff1c00"/><stop offset="0.0555" stop-color="#ff2900"/><stop offset="0.0924" stop-color="#ff4100"/><stop offset="0.1109" stop-color="#ff5300"/><stop offset="0.1664" stop-color="#ff8d00"/><stop offset="0.2218" stop-color="#ffbd00"/><stop offset="0.2680" stop-color="#fff200"/><stop offset="0.2773" stop-color="#fbff00"/><stop offset="0.2865" stop-color="#d2ff00"/><stop offset="0.3050" stop-color="#73ff00"/><stop offset="0.3142" stop-color="#3eff00"/><stop offset="0.3235" stop-color="#14ff00"/><stop offset="0.3327" stop-color="#12ff01"/><stop offset="0.3882" stop-color="#0aff05"/><stop offset="0.3974" stop-color="#00ff0a"/><stop offset="0.4067" stop-color="#00ff8f"/><stop offset="0.4159" stop-color="#00ff7c"/><stop offset="0.4251" stop-color="#0fff02"/><stop offset="0.4344" stop-color="#dfff00"/><stop offset="0.4436" stop-color="#3cff00"/><stop offset="0.4529" stop-color="#0dff04"/><stop offset="0.4806" stop-color="#08ff06"/><stop offset="0.4898" stop-color="#03ff08"/><stop offset="0.4991" stop-color="#00ff3f"/><stop offset="0.5083" stop-color="#00ffca"/><stop offset="0.5176" stop-color="#00b2ff"/><stop offset="0.5268" stop-color="#0015ff"/><stop offset="0.5360" stop-color="#0005ff"/><stop offset="0.5453" stop-color="#0006ff"/><stop offset="0.5545" stop-color="#002eff"/><stop offset="0.5638" stop-color="#00d8ff"/><stop offset="0.5730" stop-color="#00fffb"/><stop offset="0.5823" stop-color="#00e3ff"/><stop offset="0.5915" stop-color="#00ff92"/><stop offset="0.6007" stop-color="#05ff07"/><stop offset="0.6100" stop-color="#0cff04"/><stop offset="0.6192" stop-color="#12ff01"/><stop offset="0.6285" stop-color="#70ff00"/><stop offset="0.6377" stop-color="#c2ff00"/><stop offset="0.6470" stop-color="#fffd00"/><stop offset="0.6654" stop-color="#ffc200"/><stop offset="0.6747" stop-color="#ff9f00"/><stop offset="0.6839" stop-color="#ff8700"/><stop offset="0.6932" stop-color="#ff7400"/><stop offset="0.7209" stop-color="#ff5300"/><stop offset="0.7763" stop-color="#ff4300"/><stop offset="0.8318" stop-color="#ff4600"/><stop offset="0.8688" stop-color="#ff5200"/><stop offset="0.8872" stop-color="#ff5f00"/><stop offset="0.9427" stop-color="#ff8200"/><stop offset="0.9982" stop-color="#ff8c00"/></linearGradient><linearGradient id="h39"><stop offset="0.0000" stop-color="#ff1c00"/><stop offset="0.0555" stop-color="#ff2900"/><stop offset="0.0924" stop-color="#ff4100"/><stop offset="0.1109" stop-color="#ff5300"/><stop offset="0.1664" stop-color="#ff8d00"/><stop offset="0.2218" stop-color="#ffbd00"/><stop offset="0.2588" stop-color="#ffe600"/><stop offset="0.2680" stop-color="#fff300"/><stop offset="0.2773" stop-color="#f9ff00"/><stop offset="0.2865" stop-color="#d0ff00"/><stop offset="0.3050" stop-color="#71ff00"/><stop offset="0.3142" stop-color="#3cff00"/><stop offset="0.3235" stop-color="#14ff00"/><stop offset="0.3327" stop-color="#12ff01"/><stop offset="0.3882" stop-color="#09ff05"/><stop offset="0.3974" stop-color="#00ff10"/><stop offset="0.4067" stop-color="#00ffab"/><stop offset="0.4159" stop-color="#00ff47"/><stop offset="0.4251" stop-color="#11ff02"/><stop offset="0.4344" stop-color="#dbff00"/><stop offset="0.4436" stop-color="#13ff00"/><stop offset="0.4529" stop-color="#0cff04"/><stop offset="0.4806" stop-color="#07ff06"/><stop offset="0.4898" stop-color="#02ff09"/><stop offset="0.4991" stop-color="#00ff57"/><stop offset="0.5083" stop-color="#00ffdd"/><stop offset="0.5176" stop-color="#009bff"/><stop offset="0.5268" stop-color="#0010ff"/><stop offset="0.5360" stop-color="#0004ff"/><stop offset="0.5453" stop-color="#0007ff"/><stop offset="0.5545" stop-color="#0044ff"/><stop offset="0.5638" stop-color="#00ebff"/><stop offset="0.5730" stop-color="#00f8ff"/><stop offset="0.5823" stop-color="#00e8ff"/><stop offset="0.5915" stop-color="#00ff77"/><stop offset="0.6007" stop-color="#06ff07"/><stop offset="0.6100" stop-color="#0dff04"/><stop offset="0.6192" stop-color="#13ff01"/><stop offset="0.6285" stop-color="#76ff00"/><stop offset="0.6377" stop-color="#c4ff00"/><stop offset="0.6470" stop-color="#fffc00"/><stop offset="0.6654" stop-color="#ffc100"/><stop offset="0.6747" stop-color="#ff9e00"/><stop offset="0.6839" stop-color="#ff8600"/><stop offset="0.6932" stop-color="#ff7300"/><stop offset="0.7209" stop-color="#ff5300"/><stop offset="0.7763" stop-color="#ff4300"/><stop offset="0.8318" stop-color="#ff4600"/><stop offset="0.8688" stop-color="#ff5200"/><stop offset="0.8872" stop-color="#ff5f00"/><stop offset="0.9427" stop-color="#ff8200"/><stop offset="0.9982" stop-color="#ff8c00"/></linearGradient><linearGradient id="h40"><stop offset="0.0000" stop-color="#ff1c00"/><stop offset="0.0555" stop-color="#ff2900"/><stop offset="0.0924" stop-color="#ff4100"/><stop offset="0.1109" stop-color="#ff5300"/><stop offset="0.1664" stop-color="#ff8e00"/><stop offset="0.2218" stop-color="#ffbe00"/><stop offset="0.2680" stop-color="#fff300"/><stop offset="0.2773" stop-color="#f8ff00"/><stop offset="0.2957" stop-color="#a0ff00"/><stop offset="0.3142" stop-color="#3aff00"/><stop offset="0.3235" stop-color="#14ff00"/><stop offset="0.3327" stop-color="#11ff01"/><stop offset="0.3882" stop-color="#09ff06"/><stop offset="0.3974" stop-color="#00ff17"/><stop offset="0.4067" stop-color="#00ffc3"/><stop offset="0.4159" stop-color="#00ff16"/><stop offset="0.4251" stop-color="#11ff01"/><stop offset="0.4344" stop-color="#bdff00"/><stop offset="0.4436" stop-color="#10ff02"/><stop offset="0.4806" stop-color="#07ff07"/><stop offset="0.4898" stop-color="#02ff09"/><stop offset="0.4991" stop-color="#00ff6e"/><stop offset="0.5083" stop-color="#00fff0"/><stop offset="0.5176" stop-color="#0084ff"/><stop offset="0.5268" stop-color="#000cff"/><stop offset="0.5360" stop-color="#0004ff"/><stop offset="0.5453" stop-color="#0009ff"/><stop offset="0.5545" stop-color="#005dff"/><stop offset="0.5638" stop-color="#00fbff"/><stop offset="0.5730" stop-color="#00f0ff"/><stop offset="0.5823" stop-color="#00efff"/><stop offset="0.5915" stop-color="#00ff5e"/><stop offset="0.6007" stop-color="#07ff07"/><stop offset="0.6100" stop-color="#0dff03"/><stop offset="0.6192" stop-color="#13ff00"/><stop offset="0.6285" stop-color="#7dff00"/><stop offset="0.6377" stop-color="#c6ff00"/><stop offset="0.6470" stop-color="#fffb00"/><stop offset="0.6654" stop-color="#ffbf00"/><stop offset="0.6747" stop-color="#ff9d00"/><stop offset="0.6932" stop-color="#ff7300"/><stop offset="0.7209" stop-color="#ff5300"/><stop offset="0.7763" stop-color="#ff4300"/><stop offset="0.8318" stop-color="#ff4600"/><stop offset="0.8688" stop-color="#ff5200"/><stop offset="0.8872" stop-color="#ff5f00"/><stop offset="0.9427" stop-color="#ff8200"/><stop offset="0.9982" stop-color="#ff8c00"/></linearGradient><linearGradient id="h41"><stop offset="0.0000" stop-color="#ff1c00"/><stop offset="0.0555" stop-color="#ff2900"/><stop offset="0.0924" stop-color="#ff4100"/><stop offset="0.1109" stop-color="#ff5300"/><stop offset="0.1664" stop-color="#ff8e00"/><stop offset="0.2218" stop-color="#ffbe00"/><stop offset="0.2588" stop-color="#ffe700"/><stop offset="0.2680" stop-color="#fff400"/><stop offset="0.2773" stop-color="#f7ff00"/><stop offset="0.2865" stop-color="#cdff00"/><stop offset="0.3050" stop-color="#6dff00"/><stop offset="0.3142" stop-color="#38ff00"/><stop offset="0.3235" stop-color="#14ff00"/><stop offset="0.3327" stop-color="#11ff01"/><stop offset="0.3882" stop-color="#09ff06"/><stop offset="0.3974" stop-color="#00ff1c"/><stop offset="0.4067" stop-color="#00ffd3"/><stop offset="0.4159" stop-color="#01ff09"/><stop offset="0.4251" stop-color="#11ff02"/><stop offset="0.4344" stop-color="#6fff00"/><stop offset="0.4436" stop-color="#0eff03"/><stop offset="0.4806" stop-color="#06ff07"/><stop offset="0.4898" stop-color="#01ff0a"/><stop offset="0.4991" stop-color="#00ff84"/><stop offset="0.5083" stop-color="#00fbff"/><stop offset="0.5176" stop-color="#006eff"/><stop offset="0.5268" stop-color="#000aff"/><stop offset="0.5360" stop-color="#0004ff"/><stop offset="0.5453" stop-color="#000aff"/><stop offset="0.5545" stop-color="#0079ff"/><stop offset="0.5638" stop-color="#00fff4"/><stop offset="0.5730" stop-color="#00ebff"/><stop offset="0.5823" stop-color="#00f8ff"/><stop offset="0.5915" stop-color="#00ff45"/><stop offset="0.6007" stop-color="#07ff06"/><stop offset="0.6100" stop-color="#0eff03"/><stop offset="0.6192" stop-color="#14ff00"/><stop offset="0.6285" stop-color="#82ff00"/><stop offset="0.6377" stop-color="#c9ff00"/><stop offset="0.6470" stop-color="#fffa00"/><stop offset="0.6654" stop-color="#ffbe00"/><stop offset="0.6747" stop-color="#ff9c00"/><stop offset="0.6839" stop-color="#ff8500"/><stop offset="0.7024" stop-color="#ff6500"/><stop offset="0.7209" stop-color="#ff5300"/><stop offset="0.7763" stop-color="#ff4300"/><stop offset="0.8318" stop-color="#ff4600"/><stop offset="0.8688" stop-color="#ff5200"/><stop offset="0.8872" stop-color="#ff5f00"/><stop offset="0.9427" stop-color="#ff8200"/><stop offset="0.9982" stop-color="#ff8c00"/></linearGradient><linearGradient id="h42"><stop offset="0.0000" stop-color="#ff1c00"/><stop offset="0.0555" stop-color="#ff2900"/><stop offset="0.0924" stop-color="#ff4100"/><stop offset="0.1109" stop-color="#ff5300"/><stop offset="0.1664" stop-color="#ff8e00"/><stop offset="0.2218" stop-color="#ffbe00"/><stop offset="0.2680" stop-color="#fff500"/><stop offset="0.2773" stop-color="#f5ff00"/><stop offset="0.2957" stop-color="#9dff00"/><stop offset="0.3142" stop-color="#36ff00"/><stop offset="0.3235" stop-color="#13ff00"/><stop offset="0.3327" stop-color="#11ff01"/><stop offset="0.3882" stop-color="#08ff06"/><stop offset="0.3974" stop-color="#00ff1d"/><stop offset="0.4067" stop-color="#00ffd9"/><stop offset="0.4159" stop-color="#03ff08"/><stop offset="0.4344" stop-color="#1eff00"/><stop offset="0.4436" stop-color="#0cff04"/><stop offset="0.4806" stop-color="#06ff07"/><stop offset="0.4898" stop-color="#00ff0f"/><stop offset="0.4991" stop-color="#00ff9b"/><stop offset="0.5083" stop-color="#00e8ff"/><stop offset="0.5176" stop-color="#0057ff"/><stop offset="0.5268" stop-color="#0009ff"/><stop offset="0.5360" stop-color="#0005ff"/><stop offset="0.5453" stop-color="#000dff"/><stop offset="0.5545" stop-color="#0097ff"/><stop offset="0.5638" stop-color="#00ffe9"/><stop offset="0.5730" stop-color="#00e5ff"/><stop offset="0.5823" stop-color="#00fffa"/><stop offset="0.5915" stop-color="#00ff25"/><stop offset="0.6007" stop-color="#08ff06"/><stop offset="0.6100" stop-color="#0eff03"/><stop offset="0.6192" stop-color="#15ff00"/><stop offset="0.6285" stop-color="#86ff00"/><stop offset="0.6377" stop-color="#cbff00"/><stop offset="0.6470" stop-color="#fff900"/><stop offset="0.6654" stop-color="#ffbd00"/><stop offset="0.6747" stop-color="#ff9b00"/><stop offset="0.6839" stop-color="#ff8400"/><stop offset="0.6932" stop-color="#ff7200"/><stop offset="0.7116" stop-color="#ff5b00"/><stop offset="0.7209" stop-color="#ff5300"/><stop offset="0.7763" stop-color="#ff4300"/><stop offset="0.8318" stop-color="#ff4600"/><stop offset="0.8688" stop-color="#ff5200"/><stop offset="0.8872" stop-color="#ff5f00"/><stop offset="0.9427" stop-color="#ff8200"/><stop offset="0.9982" stop-color="#ff8c00"/></linearGradient><linearGradient id="h43"><stop offset="0.0000" stop-color="#ff1c00"/><stop offset="0.0555" stop-color="#ff2900"/><stop offset="0.0832" stop-color="#ff3900"/><stop offset="0.1109" stop-color="#ff5300"/><stop offset="0.1664" stop-color="#ff8e00"/><stop offset="0.2218" stop-color="#ffbf00"/><stop offset="0.2588" stop-color="#ffe800"/><stop offset="0.2680" stop-color="#fff500"/><stop offset="0.2773" stop-color="#f3ff00"/><stop offset="0.2957" stop-color="#9bff00"/><stop offset="0.3142" stop-color="#34ff00"/><stop offset="0.3235" stop-color="#13ff00"/><stop offset="0.3327" stop-color="#11ff01"/><stop offset="0.3882" stop-color="#08ff06"/><stop offset="0.3974" stop-color="#00ff1d"/><stop offset="0.4067" stop-color="#00ffd5"/><stop offset="0.4159" stop-color="#04ff08"/><stop offset="0.4251" stop-color="#0eff03"/><stop offset="0.4344" stop-color="#11ff01"/><stop offset="0.4436" stop-color="#0cff04"/><stop offset="0.4806" stop-color="#05ff08"/><stop offset="0.4898" stop-color="#00ff2b"/><stop offset="0.4991" stop-color="#00ffb7"/><stop offset="0.5083" stop-color="#00ceff"/><stop offset="0.5176" stop-color="#003cff"/><stop offset="0.5268" stop-color="#0007ff"/><stop offset="0.5360" stop-color="#0006ff"/><stop offset="0.5453" stop-color="#0013ff"/><stop offset="0.5545" stop-color="#00b4ff"/><stop offset="0.5638" stop-color="#00ffe7"/><stop offset="0.5730" stop-color="#00deff"/><stop offset="0.5823" stop-color="#00ffe5"/><stop offset="0.5915" stop-color="#01ff0a"/><stop offset="0.6100" stop-color="#0fff03"/><stop offset="0.6192" stop-color="#21ff00"/><stop offset="0.6285" stop-color="#88ff00"/><stop offset="0.6377" stop-color="#cdff00"/><stop offset="0.6470" stop-color="#fff800"/><stop offset="0.6654" stop-color="#ffbc00"/><stop offset="0.6747" stop-color="#ff9a00"/><stop offset="0.6932" stop-color="#ff7200"/><stop offset="0.7209" stop-color="#ff5200"/><stop offset="0.7763" stop-color="#ff4300"/><stop offset="0.8318" stop-color="#ff4600"/><stop offset="0.8688" stop-color="#ff5200"/><stop offset="0.8872" stop-color="#ff5f00"/><stop offset="0.9427" stop-color="#ff8200"/><stop offset="0.9982" stop-color="#ff8c00"/></linearGradient><linearGradient id="h44"><stop offset="0.0000" stop-color="#ff1c00"/><stop offset="0.0555" stop-color="#ff2900"/><stop offset="0.0832" stop-color="#ff3900"/><stop offset="0.1109" stop-color="#ff5300"/><stop offset="0.1664" stop-color="#ff8e00"/><stop offset="0.2218" stop-color="#ffbf00"/><stop offset="0.2680" stop-color="#fff600"/><stop offset="0.2773" stop-color="#f2ff00"/><stop offset="0.2957" stop-color="#99ff00"/><stop offset="0.3142" stop-color="#32ff00"/><stop offset="0.3235" stop-color="#13ff00"/><stop offset="0.3327" stop-color="#11ff01"/><stop offset="0.3882" stop-color="#08ff06"/><stop offset="0.3974" stop-color="#00ff1c"/><stop offset="0.4067" stop-color="#00ffc9"/><stop offset="0.4159" stop-color="#05ff07"/><stop offset="0.4251" stop-color="#0dff03"/><stop offset="0.4344" stop-color="#0fff03"/><stop offset="0.4436" stop-color="#0bff04"/><stop offset="0.4713" stop-color="#08ff06"/><stop offset="0.4806" stop-color="#04ff08"/><stop offset="0.4898" stop-color="#00ff4f"/><stop offset="0.4991" stop-color="#00ffd5"/><stop offset="0.5083" stop-color="#00afff"/><stop offset="0.5176" stop-color="#001bff"/><stop offset="0.5268" stop-color="#0006ff"/><stop offset="0.5360" stop-color="#0007ff"/><stop offset="0.5453" stop-color="#002dff"/><stop offset="0.5545" stop-color="#00cdff"/><stop offset="0.5638" stop-color="#00fff2"/><stop offset="0.5730" stop-color="#00ddff"/><stop offset="0.5823" stop-color="#00ffc6"/><stop offset="0.5915" stop-color="#03ff09"/><stop offset="0.6100" stop-color="#10ff02"/><stop offset="0.6192" stop-color="#2cff00"/><stop offset="0.6285" stop-color="#8bff00"/><stop offset="0.6377" stop-color="#d0ff00"/><stop offset="0.6470" stop-color="#fff700"/><stop offset="0.6654" stop-color="#ffbb00"/><stop offset="0.6747" stop-color="#ff9900"/><stop offset="0.6932" stop-color="#ff7100"/><stop offset="0.7209" stop-color="#ff5200"/><stop offset="0.7763" stop-color="#ff4300"/><stop offset="0.8318" stop-color="#ff4600"/><stop offset="0.8688" stop-color="#ff5200"/><stop offset="0.8872" stop-color="#ff5f00"/><stop offset="0.9427" stop-color="#ff8200"/><stop offset="0.9982" stop-color="#ff8c00"/></linearGradient><linearGradient id="h45"><stop offset="0.0000" stop-color="#ff1c00"/><stop offset="0.0555" stop-color="#ff2900"/><stop offset="0.0832" stop-color="#ff3900"/><stop offset="0.1109" stop-color="#ff5300"/><stop offset="0.1664" stop-color="#ff8e00"/><stop offset="0.2218" stop-color="#ffbf00"/><stop offset="0.2680" stop-color="#fff600"/><stop offset="0.2773" stop-color="#f0ff00"/><stop offset="0.2957" stop-color="#97ff00"/><stop offset="0.3142" stop-color="#30ff00"/><stop offset="0.3235" stop-color="#13ff00"/><stop offset="0.3327" stop-color="#11ff01"/><stop offset="0.3882" stop-color="#08ff06"/><stop offset="0.3974" stop-color="#00ff18"/><stop offset="0.4067" stop-color="#00ffb3"/><stop offset="0.4159" stop-color="#06ff07"/><stop offset="0.4251" stop-color="#0cff04"/><stop offset="0.4436" stop-color="#0bff04"/><stop offset="0.4713" stop-color="#07ff07"/><stop offset="0.4806" stop-color="#02ff09"/><stop offset="0.4898" stop-color="#00ff75"/><stop offset="0.4991" stop-color="#00fff3"/><stop offset="0.5083" stop-color="#008dff"/><stop offset="0.5176" stop-color="#000eff"/><stop offset="0.5268" stop-color="#0005ff"/><stop offset="0.5360" stop-color="#0008ff"/><stop offset="0.5453" stop-color="#0048ff"/><stop offset="0.5545" stop-color="#00e6ff"/><stop offset="0.5638" stop-color="#00fdff"/><stop offset="0.5730" stop-color="#00e1ff"/><stop offset="0.5823" stop-color="#00ffa0"/><stop offset="0.5915" stop-color="#04ff08"/><stop offset="0.6100" stop-color="#10ff02"/><stop offset="0.6192" stop-color="#37ff00"/><stop offset="0.6285" stop-color="#8dff00"/><stop offset="0.6377" stop-color="#d2ff00"/><stop offset="0.6470" stop-color="#fff600"/><stop offset="0.6654" stop-color="#ffba00"/><stop offset="0.6747" stop-color="#ff9800"/><stop offset="0.6932" stop-color="#ff7100"/><stop offset="0.7209" stop-color="#ff5200"/><stop offset="0.7763" stop-color="#ff4300"/><stop offset="0.8318" stop-color="#ff4600"/><stop offset="0.8688" stop-color="#ff5200"/><stop offset="0.8872" stop-color="#ff5f00"/><stop offset="0.9427" stop-color="#ff8200"/><stop offset="0.9982" stop-color="#ff8c00"/></linearGradient><linearGradient id="h46"><stop offset="0.0000" stop-color="#ff1c00"/><stop offset="0.0555" stop-color="#ff2900"/><stop offset="0.0832" stop-color="#ff3900"/><stop offset="0.1109" stop-color="#ff5300"/><stop offset="0.1664" stop-color="#ff8e00"/><stop offset="0.2218" stop-color="#ffbf00"/><stop offset="0.2680" stop-color="#fff700"/><stop offset="0.2773" stop-color="#efff00"/><stop offset="0.2957" stop-color="#95ff00"/><stop offset="0.3142" stop-color="#2eff00"/><stop offset="0.3235" stop-color="#13ff00"/><stop offset="0.3327" stop-color="#11ff02"/><stop offset="0.3789" stop-color="#0bff05"/><stop offset="0.3882" stop-color="#07ff06"/><stop offset="0.3974" stop-color="#00ff12"/><stop offset="0.4067" stop-color="#00ff96"/><stop offset="0.4159" stop-color="#07ff07"/><stop offset="0.4436" stop-color="#0bff04"/><stop offset="0.4713" stop-color="#06ff07"/><stop offset="0.4806" stop-color="#01ff0a"/><stop offset="0.4898" stop-color="#00ff98"/><stop offset="0.4991" stop-color="#00f0ff"/><stop offset="0.5083" stop-color="#006bff"/><stop offset="0.5176" stop-color="#000aff"/><stop offset="0.5268" stop-color="#0005ff"/><stop offset="0.5360" stop-color="#0009ff"/><stop offset="0.5453" stop-color="#0067ff"/><stop offset="0.5545" stop-color="#00fbff"/><stop offset="0.5730" stop-color="#00eaff"/><stop offset="0.5823" stop-color="#00ff77"/><stop offset="0.5915" stop-color="#05ff07"/><stop offset="0.6100" stop-color="#11ff02"/><stop offset="0.6192" stop-color="#41ff00"/><stop offset="0.6285" stop-color="#90ff00"/><stop offset="0.6377" stop-color="#d4ff00"/><stop offset="0.6470" stop-color="#fff500"/><stop offset="0.6654" stop-color="#ffb800"/><stop offset="0.6747" stop-color="#ff9700"/><stop offset="0.6932" stop-color="#ff7100"/><stop offset="0.7116" stop-color="#ff5a00"/><stop offset="0.7209" stop-color="#ff5200"/><stop offset="0.7763" stop-color="#ff4300"/><stop offset="0.8318" stop-color="#ff4600"/><stop offset="0.8688" stop-color="#ff5200"/><stop offset="0.8872" stop-color="#ff5f00"/><stop offset="0.9427" stop-color="#ff8200"/><stop offset="0.9982" stop-color="#ff8c00"/></linearGradient><linearGradient id="h47"><stop offset="0.0000" stop-color="#ff1c00"/><stop offset="0.0555" stop-color="#ff2900"/><stop offset="0.0832" stop-color="#ff3900"/><stop offset="0.1109" stop-color="#ff5300"/><stop offset="0.1664" stop-color="#ff8f00"/><stop offset="0.2218" stop-color="#ffc000"/><stop offset="0.2680" stop-color="#fff700"/><stop offset="0.2773" stop-color="#edff00"/><stop offset="0.2957" stop-color="#93ff00"/><stop offset="0.3142" stop-color="#2bff00"/><stop offset="0.3235" stop-color="#13ff01"/><stop offset="0.3327" stop-color="#11ff02"/><stop offset="0.3789" stop-color="#0bff05"/><stop offset="0.3882" stop-color="#07ff07"/><stop offset="0.3974" stop-color="#00ff0a"/><stop offset="0.4067" stop-color="#00ff74"/><stop offset="0.4159" stop-color="#07ff06"/><stop offset="0.4436" stop-color="#0bff04"/><stop offset="0.4713" stop-color="#05ff08"/><stop offset="0.4806" stop-color="#00ff1d"/><stop offset="0.4898" stop-color="#00ffb7"/><stop offset="0.4991" stop-color="#00d5ff"/><stop offset="0.5083" stop-color="#004bff"/><stop offset="0.5176" stop-color="#0008ff"/><stop offset="0.5268" stop-color="#0005ff"/><stop offset="0.5360" stop-color="#000cff"/><stop offset="0.5453" stop-color="#0088ff"/><stop offset="0.5545" stop-color="#00fff1"/><stop offset="0.5638" stop-color="#00ecff"/><stop offset="0.5730" stop-color="#00f8ff"/><stop offset="0.5823" stop-color="#00ff4d"/><stop offset="0.5915" stop-color="#06ff07"/><stop offset="0.6100" stop-color="#12ff01"/><stop offset="0.6192" stop-color="#48ff00"/><stop offset="0.6285" stop-color="#93ff00"/><stop offset="0.6377" stop-color="#d6ff00"/><stop offset="0.6470" stop-color="#fff400"/><stop offset="0.6654" stop-color="#ffb700"/><stop offset="0.6747" stop-color="#ff9700"/><stop offset="0.6932" stop-color="#ff7000"/><stop offset="0.7209" stop-color="#ff5200"/><stop offset="0.7763" stop-color="#ff4300"/><stop offset="0.8318" stop-color="#ff4600"/><stop offset="0.8688" stop-color="#ff5200"/><stop offset="0.8872" stop-color="#ff5f00"/><stop offset="0.9427" stop-color="#ff8200"/><stop offset="0.9982" stop-color="#ff8c00"/></linearGradient><linearGradient id="h48"><stop offset="0.0000" stop-color="#ff1c00"/><stop offset="0.0555" stop-color="#ff2900"/><stop offset="0.0832" stop-color="#ff3900"/><stop offset="0.1109" stop-color="#ff5300"/><stop offset="0.1664" stop-color="#ff8f00"/><stop offset="0.2218" stop-color="#ffc000"/><stop offset="0.2680" stop-color="#fff800"/><stop offset="0.2773" stop-color="#eaff00"/><stop offset="0.2957" stop-color="#90ff00"/><stop offset="0.3142" stop-color="#29ff00"/><stop offset="0.3235" stop-color="#13ff01"/><stop offset="0.3327" stop-color="#11ff02"/><stop offset="0.3789" stop-color="#0bff05"/><stop offset="0.3882" stop-color="#06ff07"/><stop offset="0.3974" stop-color="#01ff0a"/><stop offset="0.4067" stop-color="#00ff4e"/><stop offset="0.4159" stop-color="#08ff06"/><stop offset="0.4436" stop-color="#0bff04"/><stop offset="0.4621" stop-color="#08ff06"/><stop offset="0.4713" stop-color="#03ff08"/><stop offset="0.4806" stop-color="#00ff44"/><stop offset="0.4898" stop-color="#00ffd4"/><stop offset="0.4991" stop-color="#00b7ff"/><stop offset="0.5083" stop-color="#002eff"/><stop offset="0.5176" stop-color="#0007ff"/><stop offset="0.5268" stop-color="#0005ff"/><stop offset="0.5360" stop-color="#0010ff"/><stop offset="0.5453" stop-color="#00a6ff"/><stop offset="0.5545" stop-color="#00ffe7"/><stop offset="0.5638" stop-color="#00e8ff"/><stop offset="0.5730" stop-color="#00fff5"/><stop offset="0.5823" stop-color="#00ff1b"/><stop offset="0.5915" stop-color="#07ff06"/><stop offset="0.6100" stop-color="#12ff01"/><stop offset="0.6192" stop-color="#4bff00"/><stop offset="0.6285" stop-color="#95ff00"/><stop offset="0.6377" stop-color="#d9ff00"/><stop offset="0.6470" stop-color="#fff300"/><stop offset="0.6654" stop-color="#ffb600"/><stop offset="0.6747" stop-color="#ff9600"/><stop offset="0.6932" stop-color="#ff7000"/><stop offset="0.7209" stop-color="#ff5200"/><stop offset="0.7763" stop-color="#ff4300"/><stop offset="0.8318" stop-color="#ff4600"/><stop offset="0.8688" stop-color="#ff5200"/><stop offset="0.8872" stop-color="#ff5f00"/><stop offset="0.9427" stop-color="#ff8200"/><stop offset="0.9982" stop-color="#ff8c00"/></linearGradient><linearGradient id="h49"><stop offset="0.0000" stop-color="#ff1c00"/><stop offset="0.0555" stop-color="#ff2900"/><stop offset="0.0832" stop-color="#ff3900"/><stop offset="0.1109" stop-color="#ff5400"/><stop offset="0.1664" stop-color="#ff8f00"/><stop offset="0.2218" stop-color="#ffc100"/><stop offset="0.2680" stop-color="#fff900"/><stop offset="0.2773" stop-color="#e8ff00"/><stop offset="0.2957" stop-color="#8eff00"/><stop offset="0.3142" stop-color="#26ff00"/><stop offset="0.3235" stop-color="#13ff01"/><stop offset="0.3327" stop-color="#11ff02"/><stop offset="0.3789" stop-color="#0bff05"/><stop offset="0.3882" stop-color="#07ff07"/><stop offset="0.3974" stop-color="#00ff0a"/><stop offset="0.4067" stop-color="#00ff30"/><stop offset="0.4159" stop-color="#08ff06"/><stop offset="0.4436" stop-color="#0bff04"/><stop offset="0.4713" stop-color="#02ff09"/><stop offset="0.4806" stop-color="#00ff67"/><stop offset="0.4898" stop-color="#00ffee"/><stop offset="0.4991" stop-color="#009bff"/><stop offset="0.5083" stop-color="#0013ff"/><stop offset="0.5176" stop-color="#0006ff"/><stop offset="0.5268" stop-color="#0006ff"/><stop offset="0.5360" stop-color="#001aff"/><stop offset="0.5453" stop-color="#00baff"/><stop offset="0.5545" stop-color="#00ffe7"/><stop offset="0.5638" stop-color="#00e6ff"/><stop offset="0.5730" stop-color="#00ffe1"/><stop offset="0.5823" stop-color="#01ff09"/><stop offset="0.6100" stop-color="#13ff01"/><stop offset="0.6192" stop-color="#4dff00"/><stop offset="0.6285" stop-color="#98ff00"/><stop offset="0.6377" stop-color="#dbff00"/><stop offset="0.6470" stop-color="#fff200"/><stop offset="0.6654" stop-color="#ffb500"/><stop offset="0.6747" stop-color="#ff9500"/><stop offset="0.6932" stop-color="#ff7000"/><stop offset="0.7209" stop-color="#ff5200"/><stop offset="0.7763" stop-color="#ff4300"/><stop offset="0.8318" stop-color="#ff4600"/><stop offset="0.8688" stop-color="#ff5200"/><stop offset="0.8872" stop-color="#ff5f00"/><stop offset="0.9427" stop-color="#ff8200"/><stop offset="0.9982" stop-color="#ff8c00"/></linearGradient><linearGradient id="h50"><stop offset="0.0000" stop-color="#ff1c00"/><stop offset="0.0555" stop-color="#ff2900"/><stop offset="0.0832" stop-color="#ff3900"/><stop offset="0.1109" stop-color="#ff5400"/><stop offset="0.1664" stop-color="#ff8f00"/><stop offset="0.2218" stop-color="#ffc100"/><stop offset="0.2588" stop-color="#ffec00"/><stop offset="0.2680" stop-color="#fffa00"/><stop offset="0.2773" stop-color="#e6ff00"/><stop offset="0.2957" stop-color="#8bff00"/><stop offset="0.3142" stop-color="#23ff00"/><stop offset="0.3235" stop-color="#13ff01"/><stop offset="0.3327" stop-color="#10ff02"/><stop offset="0.3789" stop-color="#0bff05"/><stop offset="0.3882" stop-color="#07ff07"/><stop offset="0.3974" stop-color="#00ff0a"/><stop offset="0.4067" stop-color="#00ff14"/><stop offset="0.4159" stop-color="#09ff06"/><stop offset="0.4436" stop-color="#0bff04"/><stop offset="0.4713" stop-color="#01ff0a"/><stop offset="0.4806" stop-color="#00ff86"/><stop offset="0.4898" stop-color="#00f8ff"/><stop offset="0.4991" stop-color="#007fff"/><stop offset="0.5083" stop-color="#000eff"/><stop offset="0.5176" stop-color="#0005ff"/><stop offset="0.5268" stop-color="#0007ff"/><stop offset="0.5360" stop-color="#0030ff"/><stop offset="0.5453" stop-color="#00ceff"/><stop offset="0.5545" stop-color="#00ffee"/><stop offset="0.5638" stop-color="#00e6ff"/><stop offset="0.5730" stop-color="#00ffc5"/><stop offset="0.5823" stop-color="#02ff09"/><stop offset="0.6100" stop-color="#13ff01"/><stop offset="0.6192" stop-color="#50ff00"/><stop offset="0.6285" stop-color="#9aff00"/><stop offset="0.6377" stop-color="#ddff00"/><stop offset="0.6470" stop-color="#fff100"/><stop offset="0.6654" stop-color="#ffb400"/><stop offset="0.6747" stop-color="#ff9400"/><stop offset="0.6932" stop-color="#ff6f00"/><stop offset="0.7209" stop-color="#ff5200"/><stop offset="0.7763" stop-color="#ff4300"/><stop offset="0.8318" stop-color="#ff4600"/><stop offset="0.8688" stop-color="#ff5200"/><stop offset="0.8872" stop-color="#ff5f00"/><stop offset="0.9427" stop-color="#ff8200"/><stop offset="0.9982" stop-color="#ff8c00"/></linearGradient><linearGradient id="h51"><stop offset="0.0000" stop-color="#ff1c00"/><stop offset="0.0555" stop-color="#ff2900"/><stop offset="0.0739" stop-color="#ff3200"/><stop offset="0.1109" stop-color="#ff5400"/><stop offset="0.1571" stop-color="#ff8800"/><stop offset="0.1664" stop-color="#ff8f00"/><stop offset="0.2218" stop-color="#ffc200"/><stop offset="0.2588" stop-color="#ffed00"/><stop offset="0.2680" stop-color="#fffb00"/><stop offset="0.2773" stop-color="#e3ff00"/><stop offset="0.2957" stop-color="#88ff00"/><stop offset="0.3142" stop-color="#21ff00"/><stop offset="0.3235" stop-color="#13ff01"/><stop offset="0.3327" stop-color="#10ff02"/><stop offset="0.3789" stop-color="#0bff05"/><stop offset="0.3882" stop-color="#07ff07"/><stop offset="0.3974" stop-color="#00ff0d"/><stop offset="0.4067" stop-color="#01ff0a"/><stop offset="0.4159" stop-color="#09ff05"/><stop offset="0.4436" stop-color="#0bff05"/><stop offset="0.4621" stop-color="#05ff08"/><stop offset="0.4713" stop-color="#00ff13"/><stop offset="0.4806" stop-color="#00ffa1"/><stop offset="0.4898" stop-color="#00e3ff"/><stop offset="0.4991" stop-color="#0064ff"/><stop offset="0.5083" stop-color="#000aff"/><stop offset="0.5176" stop-color="#0004ff"/><stop offset="0.5268" stop-color="#0008ff"/><stop offset="0.5360" stop-color="#0045ff"/><stop offset="0.5453" stop-color="#00e2ff"/><stop offset="0.5545" stop-color="#00fff7"/><stop offset="0.5638" stop-color="#00e9ff"/><stop offset="0.5730" stop-color="#00ffa4"/><stop offset="0.5823" stop-color="#03ff08"/><stop offset="0.6100" stop-color="#13ff00"/><stop offset="0.6192" stop-color="#52ff00"/><stop offset="0.6285" stop-color="#9dff00"/><stop offset="0.6377" stop-color="#e0ff00"/><stop offset="0.6470" stop-color="#fff000"/><stop offset="0.6654" stop-color="#ffb300"/><stop offset="0.6747" stop-color="#ff9300"/><stop offset="0.6932" stop-color="#ff6f00"/><stop offset="0.7209" stop-color="#ff5200"/><stop offset="0.7763" stop-color="#ff4300"/><stop offset="0.8318" stop-color="#ff4600"/><stop offset="0.8688" stop-color="#ff5200"/><stop offset="0.8872" stop-color="#ff5f00"/><stop offset="0.9427" stop-color="#ff8200"/><stop offset="0.9982" stop-color="#ff8c00"/></linearGradient><linearGradient id="h52"><stop offset="0.0000" stop-color="#ff1c00"/><stop offset="0.0555" stop-color="#ff2900"/><stop offset="0.0739" stop-color="#ff3200"/><stop offset="0.1109" stop-color="#ff5400"/><stop offset="0.1664" stop-color="#ff9000"/><stop offset="0.2218" stop-color="#ffc200"/><stop offset="0.2680" stop-color="#fffb00"/><stop offset="0.2773" stop-color="#e1ff00"/><stop offset="0.2957" stop-color="#85ff00"/><stop offset="0.3142" stop-color="#1eff00"/><stop offset="0.3235" stop-color="#12ff01"/><stop offset="0.3327" stop-color="#10ff02"/><stop offset="0.3789" stop-color="#0bff05"/><stop offset="0.3882" stop-color="#07ff07"/><stop offset="0.3974" stop-color="#00ff15"/><stop offset="0.4067" stop-color="#02ff09"/><stop offset="0.4159" stop-color="#09ff05"/><stop offset="0.4436" stop-color="#0bff05"/><stop offset="0.4621" stop-color="#04ff08"/><stop offset="0.4713" stop-color="#00ff35"/><stop offset="0.4806" stop-color="#00ffbb"/><stop offset="0.4898" stop-color="#00ccff"/><stop offset="0.4991" stop-color="#004bff"/><stop offset="0.5083" stop-color="#0009ff"/><stop offset="0.5176" stop-color="#0004ff"/><stop offset="0.5268" stop-color="#0009ff"/><stop offset="0.5360" stop-color="#005eff"/><stop offset="0.5453" stop-color="#00f3ff"/><stop offset="0.5545" stop-color="#00feff"/><stop offset="0.5638" stop-color="#00eeff"/><stop offset="0.5730" stop-color="#00ff81"/><stop offset="0.5823" stop-color="#04ff08"/><stop offset="0.6100" stop-color="#14ff00"/><stop offset="0.6192" stop-color="#55ff00"/><stop offset="0.6285" stop-color="#9fff00"/><stop offset="0.6377" stop-color="#e2ff00"/><stop offset="0.6470" stop-color="#ffef00"/><stop offset="0.6654" stop-color="#ffb200"/><stop offset="0.6747" stop-color="#ff9300"/><stop offset="0.6932" stop-color="#ff6f00"/><stop offset="0.7209" stop-color="#ff5100"/><stop offset="0.7763" stop-color="#ff4300"/><stop offset="0.8318" stop-color="#ff4600"/><stop offset="0.8688" stop-color="#ff5200"/><stop offset="0.8872" stop-color="#ff5f00"/><stop offset="0.9427" stop-color="#ff8200"/><stop offset="0.9982" stop-color="#ff8c00"/></linearGradient><linearGradient id="h53"><stop offset="0.0000" stop-color="#ff1c00"/><stop offset="0.0555" stop-color="#ff2900"/><stop offset="0.0739" stop-color="#ff3200"/><stop offset="0.1109" stop-color="#ff5400"/><stop offset="0.1664" stop-color="#ff9000"/><stop offset="0.2218" stop-color="#ffc200"/><stop offset="0.2588" stop-color="#ffee00"/><stop offset="0.2680" stop-color="#fffc00"/><stop offset="0.2773" stop-color="#dfff00"/><stop offset="0.2957" stop-color="#83ff00"/><stop offset="0.3142" stop-color="#1cff00"/><stop offset="0.3235" stop-color="#12ff01"/><stop offset="0.3327" stop-color="#10ff02"/><stop offset="0.3789" stop-color="#0bff05"/><stop offset="0.3882" stop-color="#07ff06"/><stop offset="0.3974" stop-color="#00ff1d"/><stop offset="0.4067" stop-color="#03ff08"/><stop offset="0.4159" stop-color="#0aff05"/><stop offset="0.4436" stop-color="#0aff05"/><stop offset="0.4621" stop-color="#03ff09"/><stop offset="0.4713" stop-color="#00ff58"/><stop offset="0.4806" stop-color="#00ffd4"/><stop offset="0.4898" stop-color="#00b3ff"/><stop offset="0.4991" stop-color="#0033ff"/><stop offset="0.5083" stop-color="#0007ff"/><stop offset="0.5176" stop-color="#0004ff"/><stop offset="0.5268" stop-color="#000bff"/><stop offset="0.5360" stop-color="#0079ff"/><stop offset="0.5453" stop-color="#00fffb"/><stop offset="0.5545" stop-color="#00faff"/><stop offset="0.5638" stop-color="#00f7ff"/><stop offset="0.5730" stop-color="#00ff5d"/><stop offset="0.5823" stop-color="#05ff07"/><stop offset="0.6100" stop-color="#14ff00"/><stop offset="0.6192" stop-color="#57ff00"/><stop offset="0.6285" stop-color="#a1ff00"/><stop offset="0.6377" stop-color="#e4ff00"/><stop offset="0.6470" stop-color="#ffee00"/><stop offset="0.6654" stop-color="#ffb100"/><stop offset="0.6747" stop-color="#ff9200"/><stop offset="0.6932" stop-color="#ff6e00"/><stop offset="0.7209" stop-color="#ff5100"/><stop offset="0.7763" stop-color="#ff4300"/><stop offset="0.8318" stop-color="#ff4600"/><stop offset="0.8688" stop-color="#ff5200"/><stop offset="0.8872" stop-color="#ff5f00"/><stop offset="0.9427" stop-color="#ff8200"/><stop offset="0.9982" stop-color="#ff8c00"/></linearGradient><linearGradient id="h54"><stop offset="0.0000" stop-color="#ff1c00"/><stop offset="0.0555" stop-color="#ff2900"/><stop offset="0.0739" stop-color="#ff3200"/><stop offset="0.1109" stop-color="#ff5400"/><stop offset="0.1664" stop-color="#ff9000"/><stop offset="0.2218" stop-color="#ffc300"/><stop offset="0.2588" stop-color="#ffef00"/><stop offset="0.2680" stop-color="#fffd00"/><stop offset="0.2773" stop-color="#dcff00"/><stop offset="0.2957" stop-color="#80ff00"/><stop offset="0.3142" stop-color="#19ff00"/><stop offset="0.3235" stop-color="#12ff01"/><stop offset="0.3327" stop-color="#10ff02"/><stop offset="0.3789" stop-color="#0bff04"/><stop offset="0.3882" stop-color="#07ff06"/><stop offset="0.3974" stop-color="#00ff25"/><stop offset="0.4067" stop-color="#04ff08"/><stop offset="0.4159" stop-color="#0aff05"/><stop offset="0.4436" stop-color="#09ff05"/><stop offset="0.4621" stop-color="#02ff09"/><stop offset="0.4713" stop-color="#00ff78"/><stop offset="0.4806" stop-color="#00ffec"/><stop offset="0.4898" stop-color="#009aff"/><stop offset="0.4991" stop-color="#001aff"/><stop offset="0.5083" stop-color="#0006ff"/><stop offset="0.5176" stop-color="#0005ff"/><stop offset="0.5268" stop-color="#000eff"/><stop offset="0.5360" stop-color="#0094ff"/><stop offset="0.5453" stop-color="#00ffee"/><stop offset="0.5545" stop-color="#00f7ff"/><stop offset="0.5638" stop-color="#00fffb"/><stop offset="0.5730" stop-color="#00ff35"/><stop offset="0.5823" stop-color="#06ff07"/><stop offset="0.6100" stop-color="#16ff00"/><stop offset="0.6192" stop-color="#5aff00"/><stop offset="0.6285" stop-color="#a4ff00"/><stop offset="0.6377" stop-color="#e6ff00"/><stop offset="0.6470" stop-color="#ffed00"/><stop offset="0.6654" stop-color="#ffaf00"/><stop offset="0.6747" stop-color="#ff9100"/><stop offset="0.6932" stop-color="#ff6e00"/><stop offset="0.7209" stop-color="#ff5100"/><stop offset="0.7763" stop-color="#ff4300"/><stop offset="0.8318" stop-color="#ff4600"/><stop offset="0.8688" stop-color="#ff5200"/><stop offset="0.8872" stop-color="#ff5f00"/><stop offset="0.9427" stop-color="#ff8200"/><stop offset="0.9982" stop-color="#ff8c00"/></linearGradient><linearGradient id="h55"><stop offset="0.0000" stop-color="#ff1c00"/><stop offset="0.0555" stop-color="#ff2900"/><stop offset="0.0739" stop-color="#ff3200"/><stop offset="0.1109" stop-color="#ff5400"/><stop offset="0.1664" stop-color="#ff9000"/><stop offset="0.2218" stop-color="#ffc300"/><stop offset="0.2588" stop-color="#fff000"/><stop offset="0.2680" stop-color="#fffe00"/><stop offset="0.2773" stop-color="#daff00"/><stop offset="0.2957" stop-color="#7dff00"/><stop offset="0.3142" stop-color="#17ff00"/><stop offset="0.3327" stop-color="#10ff02"/><stop offset="0.3789" stop-color="#0bff04"/><stop offset="0.3882" stop-color="#07ff06"/><stop offset="0.3974" stop-color="#00ff2f"/><stop offset="0.4067" stop-color="#05ff07"/><stop offset="0.4344" stop-color="#0bff04"/><stop offset="0.4436" stop-color="#09ff06"/><stop offset="0.4621" stop-color="#00ff0a"/><stop offset="0.4713" stop-color="#00ff93"/><stop offset="0.4806" stop-color="#00fcff"/><stop offset="0.4898" stop-color="#0082ff"/><stop offset="0.4991" stop-color="#0010ff"/><stop offset="0.5083" stop-color="#0005ff"/><stop offset="0.5176" stop-color="#0005ff"/><stop offset="0.5268" stop-color="#0012ff"/><stop offset="0.5360" stop-color="#00a9ff"/><stop offset="0.5453" stop-color="#00ffe7"/><stop offset="0.5545" stop-color="#00f6ff"/><stop offset="0.5638" stop-color="#00ffee"/><stop offset="0.5730" stop-color="#00ff12"/><stop offset="0.5823" stop-color="#07ff07"/><stop offset="0.6007" stop-color="#10ff02"/><stop offset="0.6100" stop-color="#18ff00"/><stop offset="0.6285" stop-color="#a6ff00"/><stop offset="0.6377" stop-color="#e9ff00"/><stop offset="0.6470" stop-color="#ffec00"/><stop offset="0.6654" stop-color="#ffae00"/><stop offset="0.6747" stop-color="#ff9100"/><stop offset="0.6932" stop-color="#ff6e00"/><stop offset="0.7209" stop-color="#ff5100"/><stop offset="0.7763" stop-color="#ff4300"/><stop offset="0.8318" stop-color="#ff4600"/><stop offset="0.8688" stop-color="#ff5200"/><stop offset="0.8872" stop-color="#ff5f00"/><stop offset="0.9427" stop-color="#ff8200"/><stop offset="0.9982" stop-color="#ff8c00"/></linearGradient><linearGradient id="h56"><stop offset="0.0000" stop-color="#ff1c00"/><stop offset="0.0555" stop-color="#ff2900"/><stop offset="0.0739" stop-color="#ff3200"/><stop offset="0.1109" stop-color="#ff5400"/><stop offset="0.1571" stop-color="#ff8900"/><stop offset="0.1664" stop-color="#ff9100"/><stop offset="0.2218" stop-color="#ffc400"/><stop offset="0.2588" stop-color="#fff000"/><stop offset="0.2680" stop-color="#ffff00"/><stop offset="0.2773" stop-color="#d8ff00"/><stop offset="0.2957" stop-color="#7aff00"/><stop offset="0.3142" stop-color="#14ff00"/><stop offset="0.3327" stop-color="#10ff02"/><stop offset="0.3789" stop-color="#0bff04"/><stop offset="0.3882" stop-color="#07ff06"/><stop offset="0.3974" stop-color="#00ff37"/><stop offset="0.4067" stop-color="#06ff07"/><stop offset="0.4344" stop-color="#0bff05"/><stop offset="0.4436" stop-color="#08ff06"/><stop offset="0.4529" stop-color="#05ff08"/><stop offset="0.4621" stop-color="#00ff1c"/><stop offset="0.4713" stop-color="#00ffa7"/><stop offset="0.4806" stop-color="#00ecff"/><stop offset="0.4898" stop-color="#006fff"/><stop offset="0.4991" stop-color="#000dff"/><stop offset="0.5083" stop-color="#0004ff"/><stop offset="0.5176" stop-color="#0006ff"/><stop offset="0.5268" stop-color="#0018ff"/><stop offset="0.5360" stop-color="#00b6ff"/><stop offset="0.5453" stop-color="#00ffe6"/><stop offset="0.5545" stop-color="#00f6ff"/><stop offset="0.5638" stop-color="#00ffe1"/><stop offset="0.5730" stop-color="#01ff0a"/><stop offset="0.6007" stop-color="#11ff02"/><stop offset="0.6100" stop-color="#1aff00"/><stop offset="0.6192" stop-color="#5fff00"/><stop offset="0.6285" stop-color="#a9ff00"/><stop offset="0.6377" stop-color="#ebff00"/><stop offset="0.6470" stop-color="#ffeb00"/><stop offset="0.6654" stop-color="#ffad00"/><stop offset="0.6747" stop-color="#ff9000"/><stop offset="0.6932" stop-color="#ff6d00"/><stop offset="0.7209" stop-color="#ff5100"/><stop offset="0.7763" stop-color="#ff4300"/><stop offset="0.8318" stop-color="#ff4600"/><stop offset="0.8688" stop-color="#ff5200"/><stop offset="0.8872" stop-color="#ff5f00"/><stop offset="0.9427" stop-color="#ff8200"/><stop offset="0.9982" stop-color="#ff8c00"/></linearGradient><linearGradient id="h57"><stop offset="0.0000" stop-color="#ff1c00"/><stop offset="0.0555" stop-color="#ff2900"/><stop offset="0.0739" stop-color="#ff3200"/><stop offset="0.1109" stop-color="#ff5400"/><stop offset="0.1571" stop-color="#ff8900"/><stop offset="0.1664" stop-color="#ff9100"/><stop offset="0.2218" stop-color="#ffc400"/><stop offset="0.2588" stop-color="#fff100"/><stop offset="0.2680" stop-color="#feff00"/><stop offset="0.2773" stop-color="#d5ff00"/><stop offset="0.2957" stop-color="#77ff00"/><stop offset="0.3050" stop-color="#42ff00"/><stop offset="0.3142" stop-color="#14ff00"/><stop offset="0.3327" stop-color="#10ff02"/><stop offset="0.3789" stop-color="#0bff04"/><stop offset="0.3882" stop-color="#07ff06"/><stop offset="0.3974" stop-color="#00ff3f"/><stop offset="0.4067" stop-color="#07ff06"/><stop offset="0.4344" stop-color="#0aff05"/><stop offset="0.4436" stop-color="#08ff06"/><stop offset="0.4529" stop-color="#04ff08"/><stop offset="0.4621" stop-color="#00ff38"/><stop offset="0.4713" stop-color="#00ffba"/><stop offset="0.4806" stop-color="#00dbff"/><stop offset="0.4898" stop-color="#005cff"/><stop offset="0.4991" stop-color="#000aff"/><stop offset="0.5083" stop-color="#0004ff"/><stop offset="0.5176" stop-color="#0007ff"/><stop offset="0.5268" stop-color="#0026ff"/><stop offset="0.5360" stop-color="#00c3ff"/><stop offset="0.5453" stop-color="#00ffe7"/><stop offset="0.5545" stop-color="#00f7ff"/><stop offset="0.5638" stop-color="#00ffcf"/><stop offset="0.5730" stop-color="#01ff09"/><stop offset="0.6007" stop-color="#11ff02"/><stop offset="0.6100" stop-color="#1cff00"/><stop offset="0.6285" stop-color="#abff00"/><stop offset="0.6377" stop-color="#edff00"/><stop offset="0.6470" stop-color="#ffea00"/><stop offset="0.6654" stop-color="#ffac00"/><stop offset="0.6747" stop-color="#ff8f00"/><stop offset="0.6932" stop-color="#ff6d00"/><stop offset="0.7209" stop-color="#ff5100"/><stop offset="0.7763" stop-color="#ff4300"/><stop offset="0.8318" stop-color="#ff4600"/><stop offset="0.8688" stop-color="#ff5200"/><stop offset="0.8872" stop-color="#ff5f00"/><stop offset="0.9427" stop-color="#ff8200"/><stop offset="0.9982" stop-color="#ff8c00"/></linearGradient><linearGradient id="h58"><stop offset="0.0000" stop-color="#ff1c00"/><stop offset="0.0555" stop-color="#ff2900"/><stop offset="0.0739" stop-color="#ff3200"/><stop offset="0.1109" stop-color="#ff5500"/><stop offset="0.1664" stop-color="#ff9100"/><stop offset="0.2218" stop-color="#ffc500"/><stop offset="0.2588" stop-color="#fff200"/><stop offset="0.2680" stop-color="#fcff00"/><stop offset="0.2773" stop-color="#d3ff00"/><stop offset="0.2957" stop-color="#75ff00"/><stop offset="0.3050" stop-color="#3fff00"/><stop offset="0.3142" stop-color="#14ff00"/><stop offset="0.3327" stop-color="#10ff02"/><stop offset="0.3789" stop-color="#0bff04"/><stop offset="0.3882" stop-color="#07ff06"/><stop offset="0.3974" stop-color="#00ff46"/><stop offset="0.4067" stop-color="#08ff06"/><stop offset="0.4344" stop-color="#0aff05"/><stop offset="0.4436" stop-color="#07ff06"/><stop offset="0.4529" stop-color="#03ff09"/><stop offset="0.4621" stop-color="#00ff54"/><stop offset="0.4713" stop-color="#00ffcd"/><stop offset="0.4806" stop-color="#00c9ff"/><stop offset="0.4898" stop-color="#004bff"/><stop offset="0.4991" stop-color="#0009ff"/><stop offset="0.5083" stop-color="#0004ff"/><stop offset="0.5176" stop-color="#0007ff"/><stop offset="0.5268" stop-color="#0034ff"/><stop offset="0.5360" stop-color="#00d0ff"/><stop offset="0.5453" stop-color="#00ffea"/><stop offset="0.5545" stop-color="#00f8ff"/><stop offset="0.5638" stop-color="#00ffb8"/><stop offset="0.5730" stop-color="#02ff09"/><stop offset="0.6007" stop-color="#11ff01"/><stop offset="0.6100" stop-color="#1eff00"/><stop offset="0.6285" stop-color="#adff00"/><stop offset="0.6377" stop-color="#f0ff00"/><stop offset="0.6470" stop-color="#ffe900"/><stop offset="0.6654" stop-color="#ffab00"/><stop offset="0.6747" stop-color="#ff8f00"/><stop offset="0.6932" stop-color="#ff6d00"/><stop offset="0.7209" stop-color="#ff5100"/><stop offset="0.7763" stop-color="#ff4300"/><stop offset="0.8318" stop-color="#ff4600"/><stop offset="0.8688" stop-color="#ff5200"/><stop offset="0.8872" stop-color="#ff5f00"/><stop offset="0.9427" stop-color="#ff8200"/><stop offset="0.9982" stop-color="#ff8c00"/></linearGradient><linearGradient id="h59"><stop offset="0.0000" stop-color="#ff1c00"/><stop offset="0.0555" stop-color="#ff2900"/><stop offset="0.0739" stop-color="#ff3200"/><stop offset="0.1109" stop-color="#ff5500"/><stop offset="0.1664" stop-color="#ff9100"/><stop offset="0.2218" stop-color="#ffc500"/><stop offset="0.2588" stop-color="#fff300"/><stop offset="0.2680" stop-color="#f9ff00"/><stop offset="0.2773" stop-color="#d0ff00"/><stop offset="0.2957" stop-color="#72ff00"/><stop offset="0.3050" stop-color="#3cff00"/><stop offset="0.3142" stop-color="#14ff00"/><stop offset="0.3327" stop-color="#0fff02"/><stop offset="0.3789" stop-color="#0bff04"/><stop offset="0.3882" stop-color="#07ff06"/><stop offset="0.3974" stop-color="#00ff49"/><stop offset="0.4067" stop-color="#08ff06"/><stop offset="0.4344" stop-color="#0aff05"/><stop offset="0.4436" stop-color="#07ff07"/><stop offset="0.4529" stop-color="#02ff09"/><stop offset="0.4621" stop-color="#00ff6e"/><stop offset="0.4713" stop-color="#00ffdf"/><stop offset="0.4806" stop-color="#00b7ff"/><stop offset="0.4898" stop-color="#003aff"/><stop offset="0.4991" stop-color="#0008ff"/><stop offset="0.5083" stop-color="#0004ff"/><stop offset="0.5176" stop-color="#0008ff"/><stop offset="0.5268" stop-color="#0041ff"/><stop offset="0.5360" stop-color="#00ddff"/><stop offset="0.5453" stop-color="#00ffed"/><stop offset="0.5545" stop-color="#00faff"/><stop offset="0.5638" stop-color="#00ff9d"/><stop offset="0.5730" stop-color="#03ff09"/><stop offset="0.6007" stop-color="#12ff01"/><stop offset="0.6100" stop-color="#21ff00"/><stop offset="0.6285" stop-color="#b0ff00"/><stop offset="0.6377" stop-color="#f2ff00"/><stop offset="0.6470" stop-color="#ffe700"/><stop offset="0.6654" stop-color="#ffaa00"/><stop offset="0.6747" stop-color="#ff8e00"/><stop offset="0.6932" stop-color="#ff6d00"/><stop offset="0.7116" stop-color="#ff5800"/><stop offset="0.7209" stop-color="#ff5100"/><stop offset="0.7763" stop-color="#ff4300"/><stop offset="0.8318" stop-color="#ff4600"/><stop offset="0.8688" stop-color="#ff5200"/><stop offset="0.8872" stop-color="#ff5f00"/><stop offset="0.9427" stop-color="#ff8200"/><stop offset="0.9982" stop-color="#ff8c00"/></linearGradient><linearGradient id="h60"><stop offset="0.0000" stop-color="#ff1c00"/><stop offset="0.0555" stop-color="#ff2900"/><stop offset="0.0739" stop-color="#ff3200"/><stop offset="0.1109" stop-color="#ff5500"/><stop offset="0.1664" stop-color="#ff9100"/><stop offset="0.2218" stop-color="#ffc600"/><stop offset="0.2588" stop-color="#fff400"/><stop offset="0.2680" stop-color="#f7ff00"/><stop offset="0.2773" stop-color="#cdff00"/><stop offset="0.2957" stop-color="#6eff00"/><stop offset="0.3050" stop-color="#39ff00"/><stop offset="0.3142" stop-color="#14ff00"/><stop offset="0.3327" stop-color="#0fff02"/><stop offset="0.3789" stop-color="#0bff04"/><stop offset="0.3882" stop-color="#07ff06"/><stop offset="0.3974" stop-color="#00ff49"/><stop offset="0.4067" stop-color="#09ff06"/><stop offset="0.4344" stop-color="#09ff05"/><stop offset="0.4436" stop-color="#06ff07"/><stop offset="0.4529" stop-color="#01ff0a"/><stop offset="0.4621" stop-color="#00ff85"/><stop offset="0.4713" stop-color="#00fff0"/><stop offset="0.4806" stop-color="#00a4ff"/><stop offset="0.4898" stop-color="#0029ff"/><stop offset="0.4991" stop-color="#0007ff"/><stop offset="0.5083" stop-color="#0004ff"/><stop offset="0.5176" stop-color="#0009ff"/><stop offset="0.5268" stop-color="#0051ff"/><stop offset="0.5360" stop-color="#00e9ff"/><stop offset="0.5453" stop-color="#00fff0"/><stop offset="0.5545" stop-color="#00fdff"/><stop offset="0.5730" stop-color="#04ff08"/><stop offset="0.6007" stop-color="#12ff01"/><stop offset="0.6100" stop-color="#23ff00"/><stop offset="0.6285" stop-color="#b2ff00"/><stop offset="0.6377" stop-color="#f4ff00"/><stop offset="0.6470" stop-color="#ffe600"/><stop offset="0.6654" stop-color="#ffa900"/><stop offset="0.6747" stop-color="#ff8e00"/><stop offset="0.6932" stop-color="#ff6c00"/><stop offset="0.7209" stop-color="#ff5100"/><stop offset="0.7763" stop-color="#ff4300"/><stop offset="0.8318" stop-color="#ff4600"/><stop offset="0.8688" stop-color="#ff5200"/><stop offset="0.8872" stop-color="#ff5f00"/><stop offset="0.9427" stop-color="#ff8200"/><stop offset="0.9982" stop-color="#ff8c00"/></linearGradient><linearGradient id="h61"><stop offset="0.0000" stop-color="#ff1c00"/><stop offset="0.0555" stop-color="#ff2900"/><stop offset="0.0739" stop-color="#ff3200"/><stop offset="0.1109" stop-color="#ff5500"/><stop offset="0.1571" stop-color="#ff8a00"/><stop offset="0.1664" stop-color="#ff9200"/><stop offset="0.2218" stop-color="#ffc600"/><stop offset="0.2495" stop-color="#ffe700"/><stop offset="0.2588" stop-color="#fff500"/><stop offset="0.2680" stop-color="#f4ff00"/><stop offset="0.2773" stop-color="#caff00"/><stop offset="0.2957" stop-color="#6aff00"/><stop offset="0.3050" stop-color="#35ff00"/><stop offset="0.3142" stop-color="#13ff00"/><stop offset="0.3327" stop-color="#0fff02"/><stop offset="0.3789" stop-color="#0bff04"/><stop offset="0.3882" stop-color="#07ff06"/><stop offset="0.3974" stop-color="#00ff44"/><stop offset="0.4067" stop-color="#09ff05"/><stop offset="0.4344" stop-color="#09ff06"/><stop offset="0.4436" stop-color="#05ff07"/><stop offset="0.4529" stop-color="#00ff0d"/><stop offset="0.4621" stop-color="#00ff9a"/><stop offset="0.4713" stop-color="#00fdff"/><stop offset="0.4806" stop-color="#0091ff"/><stop offset="0.4898" stop-color="#0017ff"/><stop offset="0.4991" stop-color="#0006ff"/><stop offset="0.5083" stop-color="#0004ff"/><stop offset="0.5176" stop-color="#000aff"/><stop offset="0.5268" stop-color="#0063ff"/><stop offset="0.5360" stop-color="#00f4ff"/><stop offset="0.5453" stop-color="#00fff2"/><stop offset="0.5545" stop-color="#00fffc"/><stop offset="0.5638" stop-color="#00ff68"/><stop offset="0.5730" stop-color="#04ff08"/><stop offset="0.6007" stop-color="#12ff01"/><stop offset="0.6100" stop-color="#25ff00"/><stop offset="0.6285" stop-color="#b5ff00"/><stop offset="0.6377" stop-color="#f6ff00"/><stop offset="0.6470" stop-color="#ffe500"/><stop offset="0.6654" stop-color="#ffa800"/><stop offset="0.6747" stop-color="#ff8d00"/><stop offset="0.6932" stop-color="#ff6c00"/><stop offset="0.7209" stop-color="#ff5100"/><stop offset="0.7763" stop-color="#ff4300"/><stop offset="0.8318" stop-color="#ff4600"/><stop offset="0.8688" stop-color="#ff5200"/><stop offset="0.8872" stop-color="#ff5f00"/><stop offset="0.9427" stop-color="#ff8200"/><stop offset="0.9982" stop-color="#ff8c00"/></linearGradient><linearGradient id="h62"><stop offset="0.0000" stop-color="#ff1c00"/><stop offset="0.0555" stop-color="#ff2900"/><stop offset="0.0739" stop-color="#ff3200"/><stop offset="0.1109" stop-color="#ff5500"/><stop offset="0.1571" stop-color="#ff8a00"/><stop offset="0.1664" stop-color="#ff9200"/><stop offset="0.2218" stop-color="#ffc700"/><stop offset="0.2495" stop-color="#ffe800"/><stop offset="0.2588" stop-color="#fff600"/><stop offset="0.2680" stop-color="#f1ff00"/><stop offset="0.2773" stop-color="#c6ff00"/><stop offset="0.2957" stop-color="#66ff00"/><stop offset="0.3050" stop-color="#31ff00"/><stop offset="0.3142" stop-color="#13ff00"/><stop offset="0.3327" stop-color="#0fff03"/><stop offset="0.3789" stop-color="#0bff04"/><stop offset="0.3882" stop-color="#07ff07"/><stop offset="0.3974" stop-color="#00ff35"/><stop offset="0.4067" stop-color="#0aff05"/><stop offset="0.4251" stop-color="#0bff05"/><stop offset="0.4436" stop-color="#04ff08"/><stop offset="0.4529" stop-color="#00ff2e"/><stop offset="0.4621" stop-color="#00ffb1"/><stop offset="0.4713" stop-color="#00ecff"/><stop offset="0.4898" stop-color="#0011ff"/><stop offset="0.4991" stop-color="#0005ff"/><stop offset="0.5083" stop-color="#0004ff"/><stop offset="0.5176" stop-color="#000bff"/><stop offset="0.5268" stop-color="#006cff"/><stop offset="0.5360" stop-color="#00faff"/><stop offset="0.5453" stop-color="#00fff4"/><stop offset="0.5545" stop-color="#00fff8"/><stop offset="0.5638" stop-color="#00ff5d"/><stop offset="0.5730" stop-color="#04ff08"/><stop offset="0.6007" stop-color="#12ff01"/><stop offset="0.6100" stop-color="#27ff00"/><stop offset="0.6285" stop-color="#b7ff00"/><stop offset="0.6377" stop-color="#f9ff00"/><stop offset="0.6470" stop-color="#ffe400"/><stop offset="0.6654" stop-color="#ffa700"/><stop offset="0.6747" stop-color="#ff8d00"/><stop offset="0.6839" stop-color="#ff7a00"/><stop offset="0.7024" stop-color="#ff6100"/><stop offset="0.7209" stop-color="#ff5000"/><stop offset="0.7763" stop-color="#ff4300"/><stop offset="0.8318" stop-color="#ff4600"/><stop offset="0.8688" stop-color="#ff5200"/><stop offset="0.8872" stop-color="#ff5f00"/><stop offset="0.9427" stop-color="#ff8200"/><stop offset="0.9982" stop-color="#ff8c00"/></linearGradient><linearGradient id="h63"><stop offset="0.0000" stop-color="#ff1c00"/><stop offset="0.0555" stop-color="#ff2900"/><stop offset="0.0832" stop-color="#ff3a00"/><stop offset="0.1109" stop-color="#ff5500"/><stop offset="0.1664" stop-color="#ff9300"/><stop offset="0.2218" stop-color="#ffc800"/><stop offset="0.2495" stop-color="#ffe900"/><stop offset="0.2588" stop-color="#fff700"/><stop offset="0.2680" stop-color="#edff00"/><stop offset="0.2773" stop-color="#c2ff00"/><stop offset="0.2865" stop-color="#94ff00"/><stop offset="0.3050" stop-color="#2dff00"/><stop offset="0.3142" stop-color="#13ff00"/><stop offset="0.3327" stop-color="#0fff03"/><stop offset="0.3789" stop-color="#0bff04"/><stop offset="0.3882" stop-color="#07ff07"/><stop offset="0.3974" stop-color="#00ff1e"/><stop offset="0.4067" stop-color="#0aff05"/><stop offset="0.4344" stop-color="#07ff06"/><stop offset="0.4436" stop-color="#03ff09"/><stop offset="0.4529" stop-color="#00ff53"/><stop offset="0.4621" stop-color="#00ffc7"/><stop offset="0.4713" stop-color="#00daff"/><stop offset="0.4806" stop-color="#006aff"/><stop offset="0.4898" stop-color="#000dff"/><stop offset="0.4991" stop-color="#0005ff"/><stop offset="0.5083" stop-color="#0004ff"/><stop offset="0.5176" stop-color="#000cff"/><stop offset="0.5268" stop-color="#0072ff"/><stop offset="0.5360" stop-color="#00ffff"/><stop offset="0.5453" stop-color="#00fff5"/><stop offset="0.5545" stop-color="#00fff4"/><stop offset="0.5638" stop-color="#00ff56"/><stop offset="0.5730" stop-color="#05ff08"/><stop offset="0.6007" stop-color="#12ff01"/><stop offset="0.6100" stop-color="#2aff00"/><stop offset="0.6285" stop-color="#b9ff00"/><stop offset="0.6377" stop-color="#fbff00"/><stop offset="0.6562" stop-color="#ffc600"/><stop offset="0.6654" stop-color="#ffa600"/><stop offset="0.6747" stop-color="#ff8c00"/><stop offset="0.6932" stop-color="#ff6b00"/><stop offset="0.7209" stop-color="#ff5000"/><stop offset="0.7763" stop-color="#ff4300"/><stop offset="0.8318" stop-color="#ff4600"/><stop offset="0.8688" stop-color="#ff5200"/><stop offset="0.8872" stop-color="#ff5f00"/><stop offset="0.9427" stop-color="#ff8200"/><stop offset="0.9982" stop-color="#ff8c00"/></linearGradient><linearGradient id="h64"><stop offset="0.0000" stop-color="#ff1c00"/><stop offset="0.0555" stop-color="#ff2900"/><stop offset="0.0832" stop-color="#ff3a00"/><stop offset="0.1109" stop-color="#ff5500"/><stop offset="0.1571" stop-color="#ff8b00"/><stop offset="0.1664" stop-color="#ff9300"/><stop offset="0.2218" stop-color="#ffc800"/><stop offset="0.2588" stop-color="#fff800"/><stop offset="0.2680" stop-color="#eaff00"/><stop offset="0.2773" stop-color="#beff00"/><stop offset="0.2865" stop-color="#90ff00"/><stop offset="0.3050" stop-color="#29ff00"/><stop offset="0.3142" stop-color="#13ff01"/><stop offset="0.3327" stop-color="#0fff03"/><stop offset="0.3789" stop-color="#0bff04"/><stop offset="0.3882" stop-color="#07ff07"/><stop offset="0.3974" stop-color="#00ff0a"/><stop offset="0.4067" stop-color="#0aff05"/><stop offset="0.4344" stop-color="#07ff07"/><stop offset="0.4436" stop-color="#02ff09"/><stop offset="0.4529" stop-color="#00ff74"/><stop offset="0.4621" stop-color="#00ffda"/><stop offset="0.4713" stop-color="#00c7ff"/><stop offset="0.4806" stop-color="#0059ff"/><stop offset="0.4898" stop-color="#000bff"/><stop offset="0.4991" stop-color="#0004ff"/><stop offset="0.5083" stop-color="#0005ff"/><stop offset="0.5176" stop-color="#000dff"/><stop offset="0.5268" stop-color="#0078ff"/><stop offset="0.5360" stop-color="#00fff9"/><stop offset="0.5545" stop-color="#00ffef"/><stop offset="0.5638" stop-color="#00ff4f"/><stop offset="0.5730" stop-color="#05ff08"/><stop offset="0.6007" stop-color="#12ff01"/><stop offset="0.6100" stop-color="#2cff00"/><stop offset="0.6285" stop-color="#bcff00"/><stop offset="0.6377" stop-color="#fdff00"/><stop offset="0.6654" stop-color="#ffa500"/><stop offset="0.6747" stop-color="#ff8c00"/><stop offset="0.6932" stop-color="#ff6b00"/><stop offset="0.7209" stop-color="#ff5000"/><stop offset="0.7763" stop-color="#ff4300"/><stop offset="0.8318" stop-color="#ff4600"/><stop offset="0.8688" stop-color="#ff5200"/><stop offset="0.8872" stop-color="#ff5f00"/><stop offset="0.9427" stop-color="#ff8200"/><stop offset="0.9982" stop-color="#ff8c00"/></linearGradient><linearGradient id="h65"><stop offset="0.0000" stop-color="#ff1c00"/><stop offset="0.0555" stop-color="#ff2900"/><stop offset="0.0832" stop-color="#ff3a00"/><stop offset="0.1109" stop-color="#ff5600"/><stop offset="0.1571" stop-color="#ff8b00"/><stop offset="0.1664" stop-color="#ff9300"/><stop offset="0.2218" stop-color="#ffc900"/><stop offset="0.2588" stop-color="#fff900"/><stop offset="0.2680" stop-color="#e7ff00"/><stop offset="0.2773" stop-color="#bbff00"/><stop offset="0.2865" stop-color="#8cff00"/><stop offset="0.3050" stop-color="#25ff00"/><stop offset="0.3142" stop-color="#13ff01"/><stop offset="0.3327" stop-color="#0eff03"/><stop offset="0.3789" stop-color="#0bff04"/><stop offset="0.3882" stop-color="#06ff07"/><stop offset="0.3974" stop-color="#02ff09"/><stop offset="0.4067" stop-color="#0aff05"/><stop offset="0.4344" stop-color="#06ff07"/><stop offset="0.4436" stop-color="#00ff0a"/><stop offset="0.4529" stop-color="#00ff8f"/><stop offset="0.4621" stop-color="#00ffed"/><stop offset="0.4713" stop-color="#00b5ff"/><stop offset="0.4806" stop-color="#0048ff"/><stop offset="0.4898" stop-color="#000aff"/><stop offset="0.4991" stop-color="#0004ff"/><stop offset="0.5083" stop-color="#0005ff"/><stop offset="0.5176" stop-color="#000eff"/><stop offset="0.5268" stop-color="#007eff"/><stop offset="0.5360" stop-color="#00fff4"/><stop offset="0.5453" stop-color="#00fff6"/><stop offset="0.5545" stop-color="#00ffea"/><stop offset="0.5638" stop-color="#00ff48"/><stop offset="0.5730" stop-color="#05ff08"/><stop offset="0.6007" stop-color="#12ff01"/><stop offset="0.6100" stop-color="#2eff00"/><stop offset="0.6285" stop-color="#beff00"/><stop offset="0.6377" stop-color="#ffff00"/><stop offset="0.6654" stop-color="#ffa400"/><stop offset="0.6747" stop-color="#ff8b00"/><stop offset="0.6932" stop-color="#ff6b00"/><stop offset="0.7209" stop-color="#ff5000"/><stop offset="0.7763" stop-color="#ff4300"/><stop offset="0.8318" stop-color="#ff4600"/><stop offset="0.8688" stop-color="#ff5200"/><stop offset="0.8872" stop-color="#ff5f00"/><stop offset="0.9427" stop-color="#ff8200"/><stop offset="0.9982" stop-color="#ff8c00"/></linearGradient><linearGradient id="h66"><stop offset="0.0000" stop-color="#ff1c00"/><stop offset="0.0555" stop-color="#ff2900"/><stop offset="0.0832" stop-color="#ff3a00"/><stop offset="0.1109" stop-color="#ff5600"/><stop offset="0.1664" stop-color="#ff9400"/><stop offset="0.2218" stop-color="#ffca00"/><stop offset="0.2588" stop-color="#fffb00"/><stop offset="0.2680" stop-color="#e3ff00"/><stop offset="0.2773" stop-color="#b7ff00"/><stop offset="0.2865" stop-color="#88ff00"/><stop offset="0.3050" stop-color="#21ff00"/><stop offset="0.3142" stop-color="#13ff01"/><stop offset="0.3327" stop-color="#0eff03"/><stop offset="0.3789" stop-color="#0bff04"/><stop offset="0.3882" stop-color="#06ff07"/><stop offset="0.3974" stop-color="#03ff08"/><stop offset="0.4067" stop-color="#0bff05"/><stop offset="0.4344" stop-color="#05ff08"/><stop offset="0.4436" stop-color="#00ff24"/><stop offset="0.4529" stop-color="#00ffa6"/><stop offset="0.4621" stop-color="#00ffff"/><stop offset="0.4713" stop-color="#00a2ff"/><stop offset="0.4806" stop-color="#0039ff"/><stop offset="0.4898" stop-color="#0009ff"/><stop offset="0.4991" stop-color="#0004ff"/><stop offset="0.5083" stop-color="#0005ff"/><stop offset="0.5176" stop-color="#000fff"/><stop offset="0.5268" stop-color="#0084ff"/><stop offset="0.5360" stop-color="#00ffef"/><stop offset="0.5453" stop-color="#00fff6"/><stop offset="0.5545" stop-color="#00ffe4"/><stop offset="0.5638" stop-color="#00ff41"/><stop offset="0.5730" stop-color="#05ff07"/><stop offset="0.6007" stop-color="#12ff01"/><stop offset="0.6100" stop-color="#30ff00"/><stop offset="0.6285" stop-color="#c0ff00"/><stop offset="0.6377" stop-color="#fffe00"/><stop offset="0.6654" stop-color="#ffa300"/><stop offset="0.6747" stop-color="#ff8b00"/><stop offset="0.6932" stop-color="#ff6b00"/><stop offset="0.7209" stop-color="#ff5000"/><stop offset="0.7763" stop-color="#ff4300"/><stop offset="0.8318" stop-color="#ff4600"/><stop offset="0.8688" stop-color="#ff5200"/><stop offset="0.8872" stop-color="#ff5f00"/><stop offset="0.9427" stop-color="#ff8200"/><stop offset="0.9982" stop-color="#ff8c00"/></linearGradient><linearGradient id="h67"><stop offset="0.0000" stop-color="#ff1c00"/><stop offset="0.0555" stop-color="#ff2900"/><stop offset="0.0832" stop-color="#ff3a00"/><stop offset="0.1109" stop-color="#ff5600"/><stop offset="0.1571" stop-color="#ff8c00"/><stop offset="0.1664" stop-color="#ff9400"/><stop offset="0.2218" stop-color="#ffcb00"/><stop offset="0.2588" stop-color="#fffc00"/><stop offset="0.2680" stop-color="#e0ff00"/><stop offset="0.2773" stop-color="#b3ff00"/><stop offset="0.2865" stop-color="#84ff00"/><stop offset="0.3050" stop-color="#1dff00"/><stop offset="0.3142" stop-color="#12ff01"/><stop offset="0.3327" stop-color="#0eff03"/><stop offset="0.3789" stop-color="#0bff04"/><stop offset="0.3882" stop-color="#07ff06"/><stop offset="0.3974" stop-color="#06ff07"/><stop offset="0.4067" stop-color="#0bff05"/><stop offset="0.4251" stop-color="#08ff06"/><stop offset="0.4344" stop-color="#03ff08"/><stop offset="0.4436" stop-color="#00ff48"/><stop offset="0.4529" stop-color="#00ffbb"/><stop offset="0.4621" stop-color="#00f0ff"/><stop offset="0.4713" stop-color="#0090ff"/><stop offset="0.4806" stop-color="#0029ff"/><stop offset="0.4898" stop-color="#0008ff"/><stop offset="0.4991" stop-color="#0003ff"/><stop offset="0.5083" stop-color="#0006ff"/><stop offset="0.5176" stop-color="#0010ff"/><stop offset="0.5268" stop-color="#0089ff"/><stop offset="0.5360" stop-color="#00ffeb"/><stop offset="0.5453" stop-color="#00fff6"/><stop offset="0.5545" stop-color="#00ffde"/><stop offset="0.5638" stop-color="#00ff3a"/><stop offset="0.5730" stop-color="#05ff07"/><stop offset="0.6007" stop-color="#13ff01"/><stop offset="0.6100" stop-color="#33ff00"/><stop offset="0.6285" stop-color="#c3ff00"/><stop offset="0.6377" stop-color="#fffd00"/><stop offset="0.6654" stop-color="#ffa200"/><stop offset="0.6747" stop-color="#ff8a00"/><stop offset="0.6932" stop-color="#ff6a00"/><stop offset="0.7209" stop-color="#ff5000"/><stop offset="0.7763" stop-color="#ff4300"/><stop offset="0.8318" stop-color="#ff4600"/><stop offset="0.8688" stop-color="#ff5200"/><stop offset="0.8872" stop-color="#ff5f00"/><stop offset="0.9427" stop-color="#ff8200"/><stop offset="0.9982" stop-color="#ff8c00"/></linearGradient><linearGradient id="h68"><stop offset="0.0000" stop-color="#ff1c00"/><stop offset="0.0555" stop-color="#ff2900"/><stop offset="0.0832" stop-color="#ff3a00"/><stop offset="0.1109" stop-color="#ff5600"/><stop offset="0.1571" stop-color="#ff8c00"/><stop offset="0.1664" stop-color="#ff9400"/><stop offset="0.2218" stop-color="#ffcb00"/><stop offset="0.2588" stop-color="#fffd00"/><stop offset="0.2680" stop-color="#dcff00"/><stop offset="0.2773" stop-color="#afff00"/><stop offset="0.2865" stop-color="#80ff00"/><stop offset="0.3050" stop-color="#19ff00"/><stop offset="0.3142" stop-color="#12ff01"/><stop offset="0.3327" stop-color="#0eff03"/><stop offset="0.3882" stop-color="#09ff06"/><stop offset="0.4159" stop-color="#0aff05"/><stop offset="0.4344" stop-color="#02ff09"/><stop offset="0.4436" stop-color="#00ff69"/><stop offset="0.4529" stop-color="#00ffcc"/><stop offset="0.4621" stop-color="#00e2ff"/><stop offset="0.4806" stop-color="#001cff"/><stop offset="0.4898" stop-color="#0007ff"/><stop offset="0.4991" stop-color="#0003ff"/><stop offset="0.5083" stop-color="#0006ff"/><stop offset="0.5176" stop-color="#0010ff"/><stop offset="0.5268" stop-color="#008cff"/><stop offset="0.5360" stop-color="#00ffe8"/><stop offset="0.5453" stop-color="#00fff6"/><stop offset="0.5545" stop-color="#00ffda"/><stop offset="0.5638" stop-color="#00ff37"/><stop offset="0.5730" stop-color="#05ff07"/><stop offset="0.6007" stop-color="#13ff01"/><stop offset="0.6100" stop-color="#35ff00"/><stop offset="0.6285" stop-color="#c5ff00"/><stop offset="0.6377" stop-color="#fffc00"/><stop offset="0.6654" stop-color="#ffa100"/><stop offset="0.6747" stop-color="#ff8a00"/><stop offset="0.6932" stop-color="#ff6a00"/><stop offset="0.7209" stop-color="#ff5000"/><stop offset="0.7763" stop-color="#ff4300"/><stop offset="0.8318" stop-color="#ff4600"/><stop offset="0.8688" stop-color="#ff5200"/><stop offset="0.8872" stop-color="#ff5f00"/><stop offset="0.9427" stop-color="#ff8200"/><stop offset="0.9982" stop-color="#ff8c00"/></linearGradient><linearGradient id="h69"><stop offset="0.0000" stop-color="#ff1c00"/><stop offset="0.0555" stop-color="#ff2900"/><stop offset="0.0832" stop-color="#ff3a00"/><stop offset="0.1109" stop-color="#ff5600"/><stop offset="0.1571" stop-color="#ff8d00"/><stop offset="0.1664" stop-color="#ff9500"/><stop offset="0.2218" stop-color="#ffcd00"/><stop offset="0.2588" stop-color="#feff00"/><stop offset="0.2680" stop-color="#d6ff00"/><stop offset="0.2773" stop-color="#a9ff00"/><stop offset="0.2865" stop-color="#79ff00"/><stop offset="0.2957" stop-color="#44ff00"/><stop offset="0.3050" stop-color="#14ff00"/><stop offset="0.3327" stop-color="#0eff03"/><stop offset="0.3882" stop-color="#0aff05"/><stop offset="0.4251" stop-color="#06ff07"/><stop offset="0.4344" stop-color="#01ff09"/><stop offset="0.4436" stop-color="#00ff7e"/><stop offset="0.4529" stop-color="#00ffd8"/><stop offset="0.4621" stop-color="#00d7ff"/><stop offset="0.4806" stop-color="#0014ff"/><stop offset="0.4898" stop-color="#0007ff"/><stop offset="0.4991" stop-color="#0003ff"/><stop offset="0.5083" stop-color="#0006ff"/><stop offset="0.5176" stop-color="#0010ff"/><stop offset="0.5268" stop-color="#0086ff"/><stop offset="0.5360" stop-color="#00ffe9"/><stop offset="0.5453" stop-color="#00fff5"/><stop offset="0.5545" stop-color="#00ffd9"/><stop offset="0.5638" stop-color="#00ff3e"/><stop offset="0.5730" stop-color="#05ff07"/><stop offset="0.6007" stop-color="#13ff01"/><stop offset="0.6100" stop-color="#38ff00"/><stop offset="0.6285" stop-color="#c7ff00"/><stop offset="0.6377" stop-color="#fffb00"/><stop offset="0.6654" stop-color="#ffa000"/><stop offset="0.6839" stop-color="#ff7800"/><stop offset="0.7116" stop-color="#ff5700"/><stop offset="0.7209" stop-color="#ff5000"/><stop offset="0.7763" stop-color="#ff4300"/><stop offset="0.8318" stop-color="#ff4600"/><stop offset="0.8688" stop-color="#ff5200"/><stop offset="0.8872" stop-color="#ff5f00"/><stop offset="0.9427" stop-color="#ff8200"/><stop offset="0.9982" stop-color="#ff8c00"/></linearGradient><linearGradient id="h70"><stop offset="0.0000" stop-color="#ff1c00"/><stop offset="0.0555" stop-color="#ff2900"/><stop offset="0.0832" stop-color="#ff3b00"/><stop offset="0.1109" stop-color="#ff5700"/><stop offset="0.1664" stop-color="#ff9600"/><stop offset="0.2218" stop-color="#ffce00"/><stop offset="0.2495" stop-color="#fff300"/><stop offset="0.2588" stop-color="#f9ff00"/><stop offset="0.2773" stop-color="#a1ff00"/><stop offset="0.2865" stop-color="#71ff00"/><stop offset="0.2957" stop-color="#3bff00"/><stop offset="0.3050" stop-color="#14ff00"/><stop offset="0.3327" stop-color="#0eff03"/><stop offset="0.3882" stop-color="#0aff05"/><stop offset="0.4159" stop-color="#09ff05"/><stop offset="0.4344" stop-color="#00ff0a"/><stop offset="0.4436" stop-color="#00ff90"/><stop offset="0.4529" stop-color="#00ffe4"/><stop offset="0.4621" stop-color="#00ccff"/><stop offset="0.4713" stop-color="#006cff"/><stop offset="0.4806" stop-color="#0012ff"/><stop offset="0.4898" stop-color="#0007ff"/><stop offset="0.4991" stop-color="#0003ff"/><stop offset="0.5083" stop-color="#0006ff"/><stop offset="0.5176" stop-color="#0010ff"/><stop offset="0.5268" stop-color="#0081ff"/><stop offset="0.5360" stop-color="#00ffe9"/><stop offset="0.5453" stop-color="#00fff4"/><stop offset="0.5545" stop-color="#00ffd8"/><stop offset="0.5638" stop-color="#00ff46"/><stop offset="0.5730" stop-color="#05ff07"/><stop offset="0.6007" stop-color="#13ff01"/><stop offset="0.6100" stop-color="#3aff00"/><stop offset="0.6192" stop-color="#84ff00"/><stop offset="0.6285" stop-color="#c9ff00"/><stop offset="0.6377" stop-color="#fffa00"/><stop offset="0.6654" stop-color="#ff9f00"/><stop offset="0.6839" stop-color="#ff7700"/><stop offset="0.7024" stop-color="#ff5f00"/><stop offset="0.7209" stop-color="#ff5000"/><stop offset="0.7763" stop-color="#ff4300"/><stop offset="0.8318" stop-color="#ff4600"/><stop offset="0.8688" stop-color="#ff5200"/><stop offset="0.8872" stop-color="#ff5f00"/><stop offset="0.9427" stop-color="#ff8200"/><stop offset="0.9982" stop-color="#ff8c00"/></linearGradient><linearGradient id="h71"><stop offset="0.0000" stop-color="#ff1c00"/><stop offset="0.0555" stop-color="#ff2900"/><stop offset="0.0832" stop-color="#ff3b00"/><stop offset="0.1109" stop-color="#ff5700"/><stop offset="0.1571" stop-color="#ff8e00"/><stop offset="0.1664" stop-color="#ff9600"/><stop offset="0.2218" stop-color="#ffd000"/><stop offset="0.2495" stop-color="#fff500"/><stop offset="0.2588" stop-color="#f2ff00"/><stop offset="0.2773" stop-color="#9aff00"/><stop offset="0.2957" stop-color="#33ff00"/><stop offset="0.3050" stop-color="#13ff00"/><stop offset="0.3327" stop-color="#0dff03"/><stop offset="0.3789" stop-color="#0bff05"/><stop offset="0.3882" stop-color="#07ff07"/><stop offset="0.4067" stop-color="#0bff04"/><stop offset="0.4251" stop-color="#05ff08"/><stop offset="0.4344" stop-color="#00ff1e"/><stop offset="0.4436" stop-color="#00ffa0"/><stop offset="0.4529" stop-color="#00ffef"/><stop offset="0.4621" stop-color="#00c2ff"/><stop offset="0.4713" stop-color="#0062ff"/><stop offset="0.4806" stop-color="#0010ff"/><stop offset="0.4898" stop-color="#0006ff"/><stop offset="0.4991" stop-color="#0003ff"/><stop offset="0.5083" stop-color="#0006ff"/><stop offset="0.5176" stop-color="#000fff"/><stop offset="0.5268" stop-color="#007bff"/><stop offset="0.5360" stop-color="#00ffe9"/><stop offset="0.5453" stop-color="#00fff3"/><stop offset="0.5545" stop-color="#00ffd6"/><stop offset="0.5638" stop-color="#00ff4d"/><stop offset="0.5730" stop-color="#05ff07"/><stop offset="0.6007" stop-color="#13ff01"/><stop offset="0.6100" stop-color="#3cff00"/><stop offset="0.6192" stop-color="#87ff00"/><stop offset="0.6285" stop-color="#ccff00"/><stop offset="0.6377" stop-color="#fff900"/><stop offset="0.6654" stop-color="#ff9e00"/><stop offset="0.6839" stop-color="#ff7700"/><stop offset="0.7024" stop-color="#ff5f00"/><stop offset="0.7209" stop-color="#ff5000"/><stop offset="0.7763" stop-color="#ff4300"/><stop offset="0.8318" stop-color="#ff4600"/><stop offset="0.8688" stop-color="#ff5200"/><stop offset="0.8872" stop-color="#ff5f00"/><stop offset="0.9427" stop-color="#ff8200"/><stop offset="0.9982" stop-color="#ff8c00"/></linearGradient><linearGradient id="h72"><stop offset="0.0000" stop-color="#ff1c00"/><stop offset="0.0555" stop-color="#ff2900"/><stop offset="0.0832" stop-color="#ff3b00"/><stop offset="0.1109" stop-color="#ff5700"/><stop offset="0.1664" stop-color="#ff9700"/><stop offset="0.2218" stop-color="#ffd100"/><stop offset="0.2495" stop-color="#fff700"/><stop offset="0.2588" stop-color="#ecff00"/><stop offset="0.2773" stop-color="#93ff00"/><stop offset="0.2957" stop-color="#2cff00"/><stop offset="0.3050" stop-color="#13ff00"/><stop offset="0.3327" stop-color="#0dff03"/><stop offset="0.3882" stop-color="#07ff07"/><stop offset="0.4067" stop-color="#0bff05"/><stop offset="0.4251" stop-color="#04ff08"/><stop offset="0.4344" stop-color="#00ff3a"/><stop offset="0.4436" stop-color="#00ffae"/><stop offset="0.4529" stop-color="#00fffa"/><stop offset="0.4621" stop-color="#00b7ff"/><stop offset="0.4713" stop-color="#0059ff"/><stop offset="0.4806" stop-color="#000fff"/><stop offset="0.4898" stop-color="#0006ff"/><stop offset="0.4991" stop-color="#0003ff"/><stop offset="0.5083" stop-color="#0006ff"/><stop offset="0.5176" stop-color="#000fff"/><stop offset="0.5268" stop-color="#0075ff"/><stop offset="0.5360" stop-color="#00ffe9"/><stop offset="0.5453" stop-color="#00fff2"/><stop offset="0.5545" stop-color="#00ffd5"/><stop offset="0.5638" stop-color="#00ff55"/><stop offset="0.5730" stop-color="#05ff07"/><stop offset="0.6007" stop-color="#13ff00"/><stop offset="0.6100" stop-color="#3fff00"/><stop offset="0.6192" stop-color="#89ff00"/><stop offset="0.6285" stop-color="#ceff00"/><stop offset="0.6377" stop-color="#fff800"/><stop offset="0.6654" stop-color="#ff9d00"/><stop offset="0.6839" stop-color="#ff7600"/><stop offset="0.7024" stop-color="#ff5f00"/><stop offset="0.7209" stop-color="#ff4f00"/><stop offset="0.7763" stop-color="#ff4300"/><stop offset="0.8318" stop-color="#ff4600"/><stop offset="0.8688" stop-color="#ff5200"/><stop offset="0.8872" stop-color="#ff5f00"/><stop offset="0.9427" stop-color="#ff8200"/><stop offset="0.9982" stop-color="#ff8c00"/></linearGradient><linearGradient id="h73"><stop offset="0.0000" stop-color="#ff1c00"/><stop offset="0.0555" stop-color="#ff2900"/><stop offset="0.0832" stop-color="#ff3b00"/><stop offset="0.1109" stop-color="#ff5800"/><stop offset="0.1664" stop-color="#ff9800"/><stop offset="0.2218" stop-color="#ffd300"/><stop offset="0.2495" stop-color="#fff900"/><stop offset="0.2588" stop-color="#e6ff00"/><stop offset="0.2773" stop-color="#8cff00"/><stop offset="0.2957" stop-color="#24ff00"/><stop offset="0.3050" stop-color="#13ff01"/><stop offset="0.3327" stop-color="#0dff04"/><stop offset="0.3882" stop-color="#09ff06"/><stop offset="0.4067" stop-color="#0aff05"/><stop offset="0.4251" stop-color="#03ff09"/><stop offset="0.4344" stop-color="#00ff55"/><stop offset="0.4436" stop-color="#00ffbb"/><stop offset="0.4529" stop-color="#00fbff"/><stop offset="0.4621" stop-color="#00adff"/><stop offset="0.4713" stop-color="#0050ff"/><stop offset="0.4806" stop-color="#000eff"/><stop offset="0.4898" stop-color="#0006ff"/><stop offset="0.4991" stop-color="#0003ff"/><stop offset="0.5083" stop-color="#0006ff"/><stop offset="0.5176" stop-color="#000fff"/><stop offset="0.5268" stop-color="#0070ff"/><stop offset="0.5360" stop-color="#00ffea"/><stop offset="0.5453" stop-color="#00fff2"/><stop offset="0.5545" stop-color="#00ffd4"/><stop offset="0.5638" stop-color="#00ff5c"/><stop offset="0.5730" stop-color="#05ff08"/><stop offset="0.6007" stop-color="#13ff00"/><stop offset="0.6100" stop-color="#41ff00"/><stop offset="0.6192" stop-color="#8cff00"/><stop offset="0.6285" stop-color="#d0ff00"/><stop offset="0.6377" stop-color="#fff700"/><stop offset="0.6654" stop-color="#ff9d00"/><stop offset="0.6839" stop-color="#ff7600"/><stop offset="0.7116" stop-color="#ff5600"/><stop offset="0.7209" stop-color="#ff4f00"/><stop offset="0.7763" stop-color="#ff4300"/><stop offset="0.8318" stop-color="#ff4600"/><stop offset="0.8688" stop-color="#ff5200"/><stop offset="0.8872" stop-color="#ff5f00"/><stop offset="0.9427" stop-color="#ff8200"/><stop offset="0.9982" stop-color="#ff8c00"/></linearGradient><linearGradient id="h74"><stop offset="0.0000" stop-color="#ff1c00"/><stop offset="0.0555" stop-color="#ff2900"/><stop offset="0.0832" stop-color="#ff3b00"/><stop offset="0.1109" stop-color="#ff5800"/><stop offset="0.1479" stop-color="#ff8700"/><stop offset="0.1664" stop-color="#ff9900"/><stop offset="0.2218" stop-color="#ffd400"/><stop offset="0.2495" stop-color="#fffc00"/><stop offset="0.2588" stop-color="#dfff00"/><stop offset="0.2773" stop-color="#84ff00"/><stop offset="0.2957" stop-color="#1dff00"/><stop offset="0.3050" stop-color="#12ff01"/><stop offset="0.3327" stop-color="#0dff04"/><stop offset="0.3697" stop-color="#0bff04"/><stop offset="0.3789" stop-color="#06ff07"/><stop offset="0.3882" stop-color="#0aff05"/><stop offset="0.4159" stop-color="#07ff07"/><stop offset="0.4251" stop-color="#02ff09"/><stop offset="0.4344" stop-color="#00ff6e"/><stop offset="0.4436" stop-color="#00ffc7"/><stop offset="0.4529" stop-color="#00f2ff"/><stop offset="0.4621" stop-color="#00a2ff"/><stop offset="0.4713" stop-color="#0048ff"/><stop offset="0.4806" stop-color="#000dff"/><stop offset="0.4898" stop-color="#0005ff"/><stop offset="0.4991" stop-color="#0003ff"/><stop offset="0.5083" stop-color="#0006ff"/><stop offset="0.5176" stop-color="#000fff"/><stop offset="0.5268" stop-color="#006aff"/><stop offset="0.5360" stop-color="#00ffea"/><stop offset="0.5453" stop-color="#00fff1"/><stop offset="0.5545" stop-color="#00ffd3"/><stop offset="0.5638" stop-color="#00ff63"/><stop offset="0.5730" stop-color="#05ff08"/><stop offset="0.6007" stop-color="#13ff00"/><stop offset="0.6100" stop-color="#44ff00"/><stop offset="0.6192" stop-color="#8eff00"/><stop offset="0.6285" stop-color="#d3ff00"/><stop offset="0.6377" stop-color="#fff600"/><stop offset="0.6654" stop-color="#ff9c00"/><stop offset="0.6839" stop-color="#ff7600"/><stop offset="0.6932" stop-color="#ff6800"/><stop offset="0.7209" stop-color="#ff4f00"/><stop offset="0.7763" stop-color="#ff4300"/><stop offset="0.8318" stop-color="#ff4600"/><stop offset="0.8688" stop-color="#ff5200"/><stop offset="0.8872" stop-color="#ff5f00"/><stop offset="0.9427" stop-color="#ff8200"/><stop offset="0.9982" stop-color="#ff8c00"/></linearGradient><linearGradient id="h75"><stop offset="0.0000" stop-color="#ff1c00"/><stop offset="0.0555" stop-color="#ff2900"/><stop offset="0.0832" stop-color="#ff3b00"/><stop offset="0.1109" stop-color="#ff5900"/><stop offset="0.1479" stop-color="#ff8800"/><stop offset="0.1664" stop-color="#ff9900"/><stop offset="0.2218" stop-color="#ffd600"/><stop offset="0.2495" stop-color="#fffe00"/><stop offset="0.2588" stop-color="#d9ff00"/><stop offset="0.2773" stop-color="#7cff00"/><stop offset="0.2957" stop-color="#16ff00"/><stop offset="0.3327" stop-color="#0cff04"/><stop offset="0.3697" stop-color="#0aff05"/><stop offset="0.3789" stop-color="#05ff08"/><stop offset="0.3882" stop-color="#0bff05"/><stop offset="0.4159" stop-color="#06ff07"/><stop offset="0.4251" stop-color="#01ff09"/><stop offset="0.4344" stop-color="#00ff81"/><stop offset="0.4436" stop-color="#00ffd2"/><stop offset="0.4529" stop-color="#00eaff"/><stop offset="0.4621" stop-color="#0098ff"/><stop offset="0.4713" stop-color="#0041ff"/><stop offset="0.4806" stop-color="#000cff"/><stop offset="0.4898" stop-color="#0005ff"/><stop offset="0.4991" stop-color="#0003ff"/><stop offset="0.5083" stop-color="#0006ff"/><stop offset="0.5176" stop-color="#000fff"/><stop offset="0.5268" stop-color="#0065ff"/><stop offset="0.5360" stop-color="#00ffea"/><stop offset="0.5453" stop-color="#00fff0"/><stop offset="0.5545" stop-color="#00ffd2"/><stop offset="0.5638" stop-color="#00ff6a"/><stop offset="0.5730" stop-color="#05ff08"/><stop offset="0.6007" stop-color="#13ff00"/><stop offset="0.6100" stop-color="#46ff00"/><stop offset="0.6192" stop-color="#91ff00"/><stop offset="0.6285" stop-color="#d5ff00"/><stop offset="0.6377" stop-color="#fff400"/><stop offset="0.6654" stop-color="#ff9b00"/><stop offset="0.6839" stop-color="#ff7500"/><stop offset="0.7024" stop-color="#ff5e00"/><stop offset="0.7209" stop-color="#ff4f00"/><stop offset="0.7763" stop-color="#ff4300"/><stop offset="0.8318" stop-color="#ff4600"/><stop offset="0.8688" stop-color="#ff5200"/><stop offset="0.8872" stop-color="#ff5f00"/><stop offset="0.9427" stop-color="#ff8200"/><stop offset="0.9982" stop-color="#ff8c00"/></linearGradient><linearGradient id="h76"><stop offset="0.0000" stop-color="#ff1c00"/><stop offset="0.0555" stop-color="#ff2900"/><stop offset="0.0832" stop-color="#ff3b00"/><stop offset="0.1109" stop-color="#ff5900"/><stop offset="0.1479" stop-color="#ff8800"/><stop offset="0.1664" stop-color="#ff9a00"/><stop offset="0.2218" stop-color="#ffd800"/><stop offset="0.2403" stop-color="#fff200"/><stop offset="0.2495" stop-color="#fbff00"/><stop offset="0.2588" stop-color="#d2ff00"/><stop offset="0.2773" stop-color="#74ff00"/><stop offset="0.2865" stop-color="#3fff00"/><stop offset="0.2957" stop-color="#14ff00"/><stop offset="0.3327" stop-color="#0cff04"/><stop offset="0.3789" stop-color="#08ff06"/><stop offset="0.3882" stop-color="#0bff04"/><stop offset="0.4159" stop-color="#05ff07"/><stop offset="0.4251" stop-color="#00ff0a"/><stop offset="0.4344" stop-color="#00ff91"/><stop offset="0.4436" stop-color="#00ffdc"/><stop offset="0.4529" stop-color="#00e1ff"/><stop offset="0.4713" stop-color="#0039ff"/><stop offset="0.4806" stop-color="#000bff"/><stop offset="0.4991" stop-color="#0003ff"/><stop offset="0.5176" stop-color="#000eff"/><stop offset="0.5268" stop-color="#005fff"/><stop offset="0.5360" stop-color="#00ffeb"/><stop offset="0.5453" stop-color="#00ffef"/><stop offset="0.5545" stop-color="#00ffd0"/><stop offset="0.5638" stop-color="#00ff70"/><stop offset="0.5730" stop-color="#05ff08"/><stop offset="0.6007" stop-color="#13ff00"/><stop offset="0.6100" stop-color="#49ff00"/><stop offset="0.6192" stop-color="#93ff00"/><stop offset="0.6285" stop-color="#d7ff00"/><stop offset="0.6377" stop-color="#fff300"/><stop offset="0.6654" stop-color="#ff9a00"/><stop offset="0.6839" stop-color="#ff7500"/><stop offset="0.7024" stop-color="#ff5e00"/><stop offset="0.7209" stop-color="#ff4f00"/><stop offset="0.7763" stop-color="#ff4300"/><stop offset="0.8318" stop-color="#ff4600"/><stop offset="0.8688" stop-color="#ff5200"/><stop offset="0.8872" stop-color="#ff5f00"/><stop offset="0.9427" stop-color="#ff8200"/><stop offset="0.9982" stop-color="#ff8c00"/></linearGradient><linearGradient id="h77"><stop offset="0.0000" stop-color="#ff1c00"/><stop offset="0.0555" stop-color="#ff2900"/><stop offset="0.0832" stop-color="#ff3b00"/><stop offset="0.1109" stop-color="#ff5900"/><stop offset="0.1479" stop-color="#ff8900"/><stop offset="0.1664" stop-color="#ff9b00"/><stop offset="0.2218" stop-color="#ffd900"/><stop offset="0.2403" stop-color="#fff400"/><stop offset="0.2495" stop-color="#f5ff00"/><stop offset="0.2680" stop-color="#9dff00"/><stop offset="0.2773" stop-color="#6cff00"/><stop offset="0.2865" stop-color="#37ff00"/><stop offset="0.2957" stop-color="#13ff00"/><stop offset="0.3327" stop-color="#0cff04"/><stop offset="0.3697" stop-color="#08ff06"/><stop offset="0.3882" stop-color="#0bff04"/><stop offset="0.4159" stop-color="#05ff08"/><stop offset="0.4251" stop-color="#00ff24"/><stop offset="0.4344" stop-color="#00ffa0"/><stop offset="0.4436" stop-color="#00ffe6"/><stop offset="0.4529" stop-color="#00d8ff"/><stop offset="0.4713" stop-color="#0032ff"/><stop offset="0.4806" stop-color="#000aff"/><stop offset="0.4991" stop-color="#0003ff"/><stop offset="0.5176" stop-color="#000eff"/><stop offset="0.5268" stop-color="#005aff"/><stop offset="0.5360" stop-color="#00ffeb"/><stop offset="0.5453" stop-color="#00ffee"/><stop offset="0.5545" stop-color="#00ffcf"/><stop offset="0.5638" stop-color="#00ff75"/><stop offset="0.5730" stop-color="#05ff08"/><stop offset="0.6007" stop-color="#13ff00"/><stop offset="0.6100" stop-color="#4bff00"/><stop offset="0.6192" stop-color="#96ff00"/><stop offset="0.6285" stop-color="#daff00"/><stop offset="0.6377" stop-color="#fff200"/><stop offset="0.6654" stop-color="#ff9900"/><stop offset="0.6839" stop-color="#ff7400"/><stop offset="0.7116" stop-color="#ff5600"/><stop offset="0.7209" stop-color="#ff4f00"/><stop offset="0.7763" stop-color="#ff4300"/><stop offset="0.8318" stop-color="#ff4600"/><stop offset="0.8688" stop-color="#ff5200"/><stop offset="0.8872" stop-color="#ff5f00"/><stop offset="0.9427" stop-color="#ff8200"/><stop offset="0.9982" stop-color="#ff8c00"/></linearGradient><linearGradient id="h78"><stop offset="0.0000" stop-color="#ff1c00"/><stop offset="0.0555" stop-color="#ff2900"/><stop offset="0.0832" stop-color="#ff3b00"/><stop offset="0.1109" stop-color="#ff5a00"/><stop offset="0.1479" stop-color="#ff8a00"/><stop offset="0.1664" stop-color="#ff9c00"/><stop offset="0.2218" stop-color="#ffdb00"/><stop offset="0.2403" stop-color="#fff700"/><stop offset="0.2495" stop-color="#edff00"/><stop offset="0.2680" stop-color="#94ff00"/><stop offset="0.2773" stop-color="#62ff00"/><stop offset="0.2865" stop-color="#2dff00"/><stop offset="0.2957" stop-color="#13ff00"/><stop offset="0.3327" stop-color="#0cff04"/><stop offset="0.3604" stop-color="#0bff04"/><stop offset="0.3697" stop-color="#06ff07"/><stop offset="0.3882" stop-color="#0bff04"/><stop offset="0.4159" stop-color="#04ff08"/><stop offset="0.4251" stop-color="#00ff29"/><stop offset="0.4344" stop-color="#00ffa3"/><stop offset="0.4436" stop-color="#00ffe8"/><stop offset="0.4529" stop-color="#00d6ff"/><stop offset="0.4713" stop-color="#0030ff"/><stop offset="0.4806" stop-color="#000aff"/><stop offset="0.4991" stop-color="#0003ff"/><stop offset="0.5176" stop-color="#000eff"/><stop offset="0.5268" stop-color="#005cff"/><stop offset="0.5360" stop-color="#00ffec"/><stop offset="0.5453" stop-color="#00ffed"/><stop offset="0.5545" stop-color="#00ffce"/><stop offset="0.5638" stop-color="#00ff73"/><stop offset="0.5730" stop-color="#05ff08"/><stop offset="0.6007" stop-color="#14ff00"/><stop offset="0.6100" stop-color="#4eff00"/><stop offset="0.6192" stop-color="#98ff00"/><stop offset="0.6285" stop-color="#dcff00"/><stop offset="0.6377" stop-color="#fff100"/><stop offset="0.6654" stop-color="#ff9900"/><stop offset="0.6839" stop-color="#ff7400"/><stop offset="0.7116" stop-color="#ff5600"/><stop offset="0.7209" stop-color="#ff4f00"/><stop offset="0.7763" stop-color="#ff4300"/><stop offset="0.8318" stop-color="#ff4600"/><stop offset="0.8688" stop-color="#ff5200"/><stop offset="0.8872" stop-color="#ff5f00"/><stop offset="0.9427" stop-color="#ff8200"/><stop offset="0.9982" stop-color="#ff8c00"/></linearGradient><linearGradient id="h79"><stop offset="0.0000" stop-color="#ff1c00"/><stop offset="0.0555" stop-color="#ff2900"/><stop offset="0.0739" stop-color="#ff3300"/><stop offset="0.1109" stop-color="#ff5a00"/><stop offset="0.1479" stop-color="#ff8b00"/><stop offset="0.1664" stop-color="#ff9d00"/><stop offset="0.2126" stop-color="#ffd100"/><stop offset="0.2218" stop-color="#ffde00"/><stop offset="0.2403" stop-color="#fffa00"/><stop offset="0.2495" stop-color="#e5ff00"/><stop offset="0.2680" stop-color="#8bff00"/><stop offset="0.2773" stop-color="#57ff00"/><stop offset="0.2865" stop-color="#23ff00"/><stop offset="0.2957" stop-color="#13ff01"/><stop offset="0.3327" stop-color="#0cff04"/><stop offset="0.3604" stop-color="#0bff05"/><stop offset="0.3697" stop-color="#05ff08"/><stop offset="0.3882" stop-color="#0bff04"/><stop offset="0.4159" stop-color="#04ff08"/><stop offset="0.4251" stop-color="#00ff28"/><stop offset="0.4344" stop-color="#00ffa2"/><stop offset="0.4436" stop-color="#00ffe8"/><stop offset="0.4529" stop-color="#00d5ff"/><stop offset="0.4713" stop-color="#002fff"/><stop offset="0.4806" stop-color="#000aff"/><stop offset="0.4991" stop-color="#0003ff"/><stop offset="0.5176" stop-color="#000fff"/><stop offset="0.5268" stop-color="#0060ff"/><stop offset="0.5360" stop-color="#00ffed"/><stop offset="0.5453" stop-color="#00ffed"/><stop offset="0.5545" stop-color="#00ffce"/><stop offset="0.5638" stop-color="#00ff6f"/><stop offset="0.5730" stop-color="#05ff08"/><stop offset="0.6007" stop-color="#14ff00"/><stop offset="0.6100" stop-color="#50ff00"/><stop offset="0.6192" stop-color="#9bff00"/><stop offset="0.6285" stop-color="#deff00"/><stop offset="0.6377" stop-color="#fff000"/><stop offset="0.6654" stop-color="#ff9800"/><stop offset="0.6839" stop-color="#ff7400"/><stop offset="0.7116" stop-color="#ff5600"/><stop offset="0.7209" stop-color="#ff4f00"/><stop offset="0.7763" stop-color="#ff4300"/><stop offset="0.8318" stop-color="#ff4600"/><stop offset="0.8688" stop-color="#ff5200"/><stop offset="0.8872" stop-color="#ff5f00"/><stop offset="0.9427" stop-color="#ff8200"/><stop offset="0.9982" stop-color="#ff8c00"/></linearGradient><linearGradient id="h80"><stop offset="0.0000" stop-color="#ff1c00"/><stop offset="0.0555" stop-color="#ff2900"/><stop offset="0.0739" stop-color="#ff3300"/><stop offset="0.1109" stop-color="#ff5b00"/><stop offset="0.1571" stop-color="#ff9500"/><stop offset="0.1664" stop-color="#ff9e00"/><stop offset="0.2218" stop-color="#ffe000"/><stop offset="0.2403" stop-color="#fffd00"/><stop offset="0.2495" stop-color="#ddff00"/><stop offset="0.2680" stop-color="#81ff00"/><stop offset="0.2773" stop-color="#4cff00"/><stop offset="0.2865" stop-color="#1aff00"/><stop offset="0.2957" stop-color="#12ff01"/><stop offset="0.3327" stop-color="#0cff04"/><stop offset="0.3604" stop-color="#0aff05"/><stop offset="0.3697" stop-color="#04ff08"/><stop offset="0.3789" stop-color="#0bff05"/><stop offset="0.3882" stop-color="#0bff04"/><stop offset="0.4159" stop-color="#04ff08"/><stop offset="0.4251" stop-color="#00ff28"/><stop offset="0.4344" stop-color="#00ffa2"/><stop offset="0.4436" stop-color="#00ffe8"/><stop offset="0.4529" stop-color="#00d5ff"/><stop offset="0.4713" stop-color="#002dff"/><stop offset="0.4806" stop-color="#000aff"/><stop offset="0.4991" stop-color="#0003ff"/><stop offset="0.5176" stop-color="#000fff"/><stop offset="0.5268" stop-color="#0065ff"/><stop offset="0.5360" stop-color="#00ffee"/><stop offset="0.5453" stop-color="#00ffec"/><stop offset="0.5545" stop-color="#00ffce"/><stop offset="0.5638" stop-color="#00ff6b"/><stop offset="0.5730" stop-color="#05ff08"/><stop offset="0.6007" stop-color="#14ff00"/><stop offset="0.6100" stop-color="#53ff00"/><stop offset="0.6192" stop-color="#9dff00"/><stop offset="0.6285" stop-color="#e0ff00"/><stop offset="0.6377" stop-color="#ffef00"/><stop offset="0.6654" stop-color="#ff9700"/><stop offset="0.6839" stop-color="#ff7300"/><stop offset="0.7116" stop-color="#ff5500"/><stop offset="0.7209" stop-color="#ff4f00"/><stop offset="0.7763" stop-color="#ff4300"/><stop offset="0.8318" stop-color="#ff4600"/><stop offset="0.8688" stop-color="#ff5200"/><stop offset="0.8872" stop-color="#ff5f00"/><stop offset="0.9427" stop-color="#ff8200"/><stop offset="0.9982" stop-color="#ff8c00"/></linearGradient><linearGradient id="h81"><stop offset="0.0000" stop-color="#ff1c00"/><stop offset="0.0555" stop-color="#ff2900"/><stop offset="0.0739" stop-color="#ff3300"/><stop offset="0.1109" stop-color="#ff5b00"/><stop offset="0.1571" stop-color="#ff9600"/><stop offset="0.1664" stop-color="#ff9f00"/><stop offset="0.2218" stop-color="#ffe300"/><stop offset="0.2403" stop-color="#fdff00"/><stop offset="0.2588" stop-color="#a7ff00"/><stop offset="0.2680" stop-color="#77ff00"/><stop offset="0.2773" stop-color="#42ff00"/><stop offset="0.2865" stop-color="#14ff00"/><stop offset="0.3327" stop-color="#0cff04"/><stop offset="0.3604" stop-color="#09ff05"/><stop offset="0.3697" stop-color="#05ff08"/><stop offset="0.3789" stop-color="#0bff05"/><stop offset="0.3882" stop-color="#0bff04"/><stop offset="0.4159" stop-color="#04ff08"/><stop offset="0.4251" stop-color="#00ff27"/><stop offset="0.4344" stop-color="#00ffa2"/><stop offset="0.4436" stop-color="#00ffe8"/><stop offset="0.4529" stop-color="#00d5ff"/><stop offset="0.4713" stop-color="#002cff"/><stop offset="0.4806" stop-color="#000aff"/><stop offset="0.4991" stop-color="#0004ff"/><stop offset="0.5083" stop-color="#0007ff"/><stop offset="0.5176" stop-color="#000fff"/><stop offset="0.5268" stop-color="#0069ff"/><stop offset="0.5360" stop-color="#00ffef"/><stop offset="0.5453" stop-color="#00ffeb"/><stop offset="0.5545" stop-color="#00ffcd"/><stop offset="0.5638" stop-color="#00ff67"/><stop offset="0.5730" stop-color="#05ff07"/><stop offset="0.6007" stop-color="#14ff00"/><stop offset="0.6100" stop-color="#56ff00"/><stop offset="0.6192" stop-color="#a0ff00"/><stop offset="0.6285" stop-color="#e3ff00"/><stop offset="0.6377" stop-color="#ffee00"/><stop offset="0.6654" stop-color="#ff9600"/><stop offset="0.6839" stop-color="#ff7300"/><stop offset="0.7116" stop-color="#ff5500"/><stop offset="0.7209" stop-color="#ff4f00"/><stop offset="0.7763" stop-color="#ff4300"/><stop offset="0.8318" stop-color="#ff4600"/><stop offset="0.8688" stop-color="#ff5200"/><stop offset="0.8872" stop-color="#ff5f00"/><stop offset="0.9427" stop-color="#ff8200"/><stop offset="0.9982" stop-color="#ff8c00"/></linearGradient><linearGradient id="h82"><stop offset="0.0000" stop-color="#ff1c00"/><stop offset="0.0555" stop-color="#ff2900"/><stop offset="0.0739" stop-color="#ff3300"/><stop offset="0.1109" stop-color="#ff5c00"/><stop offset="0.1571" stop-color="#ff9700"/><stop offset="0.1664" stop-color="#ffa000"/><stop offset="0.2218" stop-color="#ffe500"/><stop offset="0.2311" stop-color="#fff400"/><stop offset="0.2403" stop-color="#f5ff00"/><stop offset="0.2588" stop-color="#9eff00"/><stop offset="0.2773" stop-color="#37ff00"/><stop offset="0.2865" stop-color="#13ff00"/><stop offset="0.3327" stop-color="#0cff04"/><stop offset="0.3697" stop-color="#06ff07"/><stop offset="0.3789" stop-color="#0bff05"/><stop offset="0.3882" stop-color="#0bff04"/><stop offset="0.4159" stop-color="#04ff08"/><stop offset="0.4251" stop-color="#00ff26"/><stop offset="0.4344" stop-color="#00ffa2"/><stop offset="0.4436" stop-color="#00ffe8"/><stop offset="0.4529" stop-color="#00d4ff"/><stop offset="0.4713" stop-color="#002bff"/><stop offset="0.4806" stop-color="#000aff"/><stop offset="0.4991" stop-color="#0004ff"/><stop offset="0.5083" stop-color="#0007ff"/><stop offset="0.5176" stop-color="#0010ff"/><stop offset="0.5268" stop-color="#006dff"/><stop offset="0.5360" stop-color="#00fff0"/><stop offset="0.5453" stop-color="#00ffea"/><stop offset="0.5545" stop-color="#00ffcd"/><stop offset="0.5638" stop-color="#00ff62"/><stop offset="0.5730" stop-color="#05ff07"/><stop offset="0.6007" stop-color="#14ff00"/><stop offset="0.6100" stop-color="#58ff00"/><stop offset="0.6192" stop-color="#a2ff00"/><stop offset="0.6285" stop-color="#e5ff00"/><stop offset="0.6377" stop-color="#ffed00"/><stop offset="0.6654" stop-color="#ff9600"/><stop offset="0.6839" stop-color="#ff7300"/><stop offset="0.7116" stop-color="#ff5500"/><stop offset="0.7209" stop-color="#ff4f00"/><stop offset="0.7763" stop-color="#ff4300"/><stop offset="0.8318" stop-color="#ff4600"/><stop offset="0.8688" stop-color="#ff5200"/><stop offset="0.8872" stop-color="#ff5f00"/><stop offset="0.9427" stop-color="#ff8200"/><stop offset="0.9982" stop-color="#ff8c00"/></linearGradient><linearGradient id="h83"><stop offset="0.0000" stop-color="#ff1c00"/><stop offset="0.0555" stop-color="#ff2900"/><stop offset="0.0739" stop-color="#ff3300"/><stop offset="0.1109" stop-color="#ff5d00"/><stop offset="0.1664" stop-color="#ffa200"/><stop offset="0.2126" stop-color="#ffda00"/><stop offset="0.2218" stop-color="#ffe800"/><stop offset="0.2311" stop-color="#fff700"/><stop offset="0.2403" stop-color="#edff00"/><stop offset="0.2588" stop-color="#94ff00"/><stop offset="0.2773" stop-color="#2dff00"/><stop offset="0.2865" stop-color="#13ff00"/><stop offset="0.3327" stop-color="#0cff04"/><stop offset="0.3697" stop-color="#07ff07"/><stop offset="0.3882" stop-color="#0bff04"/><stop offset="0.4159" stop-color="#04ff08"/><stop offset="0.4251" stop-color="#00ff26"/><stop offset="0.4344" stop-color="#00ffa1"/><stop offset="0.4436" stop-color="#00ffe8"/><stop offset="0.4529" stop-color="#00d4ff"/><stop offset="0.4713" stop-color="#002aff"/><stop offset="0.4806" stop-color="#000aff"/><stop offset="0.4991" stop-color="#0004ff"/><stop offset="0.5083" stop-color="#0007ff"/><stop offset="0.5176" stop-color="#0010ff"/><stop offset="0.5268" stop-color="#0072ff"/><stop offset="0.5360" stop-color="#00fff0"/><stop offset="0.5453" stop-color="#00ffea"/><stop offset="0.5545" stop-color="#00ffcc"/><stop offset="0.5638" stop-color="#00ff5e"/><stop offset="0.5730" stop-color="#05ff07"/><stop offset="0.6007" stop-color="#16ff00"/><stop offset="0.6100" stop-color="#5bff00"/><stop offset="0.6192" stop-color="#a5ff00"/><stop offset="0.6285" stop-color="#e7ff00"/><stop offset="0.6377" stop-color="#ffec00"/><stop offset="0.6654" stop-color="#ff9500"/><stop offset="0.6839" stop-color="#ff7200"/><stop offset="0.7116" stop-color="#ff5500"/><stop offset="0.7209" stop-color="#ff4f00"/><stop offset="0.7763" stop-color="#ff4300"/><stop offset="0.8318" stop-color="#ff4600"/><stop offset="0.8688" stop-color="#ff5200"/><stop offset="0.8872" stop-color="#ff5f00"/><stop offset="0.9427" stop-color="#ff8200"/><stop offset="0.9982" stop-color="#ff8c00"/></linearGradient><linearGradient id="h84"><stop offset="0.0000" stop-color="#ff1c00"/><stop offset="0.0555" stop-color="#ff2900"/><stop offset="0.0739" stop-color="#ff3300"/><stop offset="0.1109" stop-color="#ff5d00"/><stop offset="0.1386" stop-color="#ff8500"/><stop offset="0.1664" stop-color="#ffa300"/><stop offset="0.2218" stop-color="#ffeb00"/><stop offset="0.2311" stop-color="#fffa00"/><stop offset="0.2403" stop-color="#e4ff00"/><stop offset="0.2588" stop-color="#8aff00"/><stop offset="0.2773" stop-color="#23ff00"/><stop offset="0.2865" stop-color="#13ff01"/><stop offset="0.3327" stop-color="#0cff04"/><stop offset="0.3512" stop-color="#0bff04"/><stop offset="0.3604" stop-color="#07ff06"/><stop offset="0.3882" stop-color="#0bff04"/><stop offset="0.4159" stop-color="#04ff08"/><stop offset="0.4251" stop-color="#00ff25"/><stop offset="0.4344" stop-color="#00ffa1"/><stop offset="0.4436" stop-color="#00ffe8"/><stop offset="0.4529" stop-color="#00d3ff"/><stop offset="0.4713" stop-color="#0029ff"/><stop offset="0.4806" stop-color="#000aff"/><stop offset="0.4991" stop-color="#0004ff"/><stop offset="0.5083" stop-color="#0007ff"/><stop offset="0.5176" stop-color="#0010ff"/><stop offset="0.5268" stop-color="#0076ff"/><stop offset="0.5360" stop-color="#00fff1"/><stop offset="0.5453" stop-color="#00ffe9"/><stop offset="0.5545" stop-color="#00ffcc"/><stop offset="0.5638" stop-color="#00ff59"/><stop offset="0.5730" stop-color="#05ff07"/><stop offset="0.6007" stop-color="#18ff00"/><stop offset="0.6100" stop-color="#5dff00"/><stop offset="0.6192" stop-color="#a7ff00"/><stop offset="0.6285" stop-color="#e9ff00"/><stop offset="0.6377" stop-color="#ffeb00"/><stop offset="0.6654" stop-color="#ff9400"/><stop offset="0.6839" stop-color="#ff7200"/><stop offset="0.7116" stop-color="#ff5500"/><stop offset="0.7209" stop-color="#ff4f00"/><stop offset="0.7763" stop-color="#ff4300"/><stop offset="0.8318" stop-color="#ff4600"/><stop offset="0.8688" stop-color="#ff5200"/><stop offset="0.8872" stop-color="#ff5f00"/><stop offset="0.9427" stop-color="#ff8200"/><stop offset="0.9982" stop-color="#ff8c00"/></linearGradient><linearGradient id="h85"><stop offset="0.0000" stop-color="#ff1c00"/><stop offset="0.0555" stop-color="#ff2900"/><stop offset="0.0739" stop-color="#ff3400"/><stop offset="0.1109" stop-color="#ff5e00"/><stop offset="0.1386" stop-color="#ff8600"/><stop offset="0.1664" stop-color="#ffa500"/><stop offset="0.2218" stop-color="#ffee00"/><stop offset="0.2311" stop-color="#fffd00"/><stop offset="0.2403" stop-color="#dbff00"/><stop offset="0.2588" stop-color="#7fff00"/><stop offset="0.2773" stop-color="#19ff00"/><stop offset="0.2865" stop-color="#12ff01"/><stop offset="0.3327" stop-color="#0cff04"/><stop offset="0.3512" stop-color="#0bff04"/><stop offset="0.3604" stop-color="#07ff07"/><stop offset="0.3882" stop-color="#0bff04"/><stop offset="0.4159" stop-color="#04ff08"/><stop offset="0.4251" stop-color="#00ff24"/><stop offset="0.4344" stop-color="#00ffa1"/><stop offset="0.4436" stop-color="#00ffe8"/><stop offset="0.4529" stop-color="#00d3ff"/><stop offset="0.4713" stop-color="#0028ff"/><stop offset="0.4806" stop-color="#000aff"/><stop offset="0.4898" stop-color="#0004ff"/><stop offset="0.4991" stop-color="#0004ff"/><stop offset="0.5083" stop-color="#0007ff"/><stop offset="0.5176" stop-color="#0011ff"/><stop offset="0.5268" stop-color="#007bff"/><stop offset="0.5360" stop-color="#00fff2"/><stop offset="0.5453" stop-color="#00ffe8"/><stop offset="0.5545" stop-color="#00ffcb"/><stop offset="0.5638" stop-color="#00ff54"/><stop offset="0.5730" stop-color="#06ff07"/><stop offset="0.5915" stop-color="#10ff02"/><stop offset="0.6007" stop-color="#1bff00"/><stop offset="0.6100" stop-color="#60ff00"/><stop offset="0.6192" stop-color="#a9ff00"/><stop offset="0.6285" stop-color="#ecff00"/><stop offset="0.6377" stop-color="#ffea00"/><stop offset="0.6654" stop-color="#ff9400"/><stop offset="0.6839" stop-color="#ff7200"/><stop offset="0.7209" stop-color="#ff4e00"/><stop offset="0.7763" stop-color="#ff4300"/><stop offset="0.8318" stop-color="#ff4600"/><stop offset="0.8688" stop-color="#ff5200"/><stop offset="0.8872" stop-color="#ff5f00"/><stop offset="0.9427" stop-color="#ff8200"/><stop offset="0.9982" stop-color="#ff8c00"/></linearGradient><linearGradient id="h86"><stop offset="0.0000" stop-color="#ff1c00"/><stop offset="0.0555" stop-color="#ff2900"/><stop offset="0.0739" stop-color="#ff3400"/><stop offset="0.1109" stop-color="#ff5f00"/><stop offset="0.1386" stop-color="#ff8700"/><stop offset="0.1664" stop-color="#ffa600"/><stop offset="0.2218" stop-color="#fff100"/><stop offset="0.2311" stop-color="#faff00"/><stop offset="0.2495" stop-color="#a5ff00"/><stop offset="0.2680" stop-color="#3fff00"/><stop offset="0.2773" stop-color="#14ff00"/><stop offset="0.3327" stop-color="#0cff04"/><stop offset="0.3512" stop-color="#0bff04"/><stop offset="0.3604" stop-color="#07ff07"/><stop offset="0.3882" stop-color="#0bff04"/><stop offset="0.4159" stop-color="#04ff08"/><stop offset="0.4251" stop-color="#00ff24"/><stop offset="0.4344" stop-color="#00ffa1"/><stop offset="0.4436" stop-color="#00ffe8"/><stop offset="0.4529" stop-color="#00d3ff"/><stop offset="0.4713" stop-color="#0027ff"/><stop offset="0.4806" stop-color="#000aff"/><stop offset="0.4898" stop-color="#0004ff"/><stop offset="0.4991" stop-color="#0004ff"/><stop offset="0.5083" stop-color="#0008ff"/><stop offset="0.5176" stop-color="#0011ff"/><stop offset="0.5268" stop-color="#007fff"/><stop offset="0.5360" stop-color="#00fff2"/><stop offset="0.5453" stop-color="#00ffe7"/><stop offset="0.5545" stop-color="#00ffca"/><stop offset="0.5638" stop-color="#00ff4f"/><stop offset="0.5730" stop-color="#06ff07"/><stop offset="0.5915" stop-color="#10ff02"/><stop offset="0.6007" stop-color="#1dff00"/><stop offset="0.6100" stop-color="#63ff00"/><stop offset="0.6192" stop-color="#acff00"/><stop offset="0.6285" stop-color="#eeff00"/><stop offset="0.6377" stop-color="#ffe900"/><stop offset="0.6654" stop-color="#ff9300"/><stop offset="0.6839" stop-color="#ff7100"/><stop offset="0.7209" stop-color="#ff4e00"/><stop offset="0.7763" stop-color="#ff4300"/><stop offset="0.8318" stop-color="#ff4600"/><stop offset="0.8688" stop-color="#ff5200"/><stop offset="0.8872" stop-color="#ff5f00"/><stop offset="0.9427" stop-color="#ff8200"/><stop offset="0.9982" stop-color="#ff8c00"/></linearGradient><linearGradient id="h87"><stop offset="0.0000" stop-color="#ff1c00"/><stop offset="0.0555" stop-color="#ff2900"/><stop offset="0.0739" stop-color="#ff3400"/><stop offset="0.1109" stop-color="#ff5f00"/><stop offset="0.1479" stop-color="#ff9300"/><stop offset="0.1664" stop-color="#ffa800"/><stop offset="0.2218" stop-color="#fff400"/><stop offset="0.2311" stop-color="#f2ff00"/><stop offset="0.2495" stop-color="#9aff00"/><stop offset="0.2680" stop-color="#34ff00"/><stop offset="0.2773" stop-color="#13ff00"/><stop offset="0.3327" stop-color="#0cff04"/><stop offset="0.3512" stop-color="#0bff04"/><stop offset="0.3604" stop-color="#06ff07"/><stop offset="0.3882" stop-color="#0bff04"/><stop offset="0.4159" stop-color="#05ff08"/><stop offset="0.4251" stop-color="#00ff23"/><stop offset="0.4344" stop-color="#00ffa1"/><stop offset="0.4436" stop-color="#00ffe8"/><stop offset="0.4529" stop-color="#00d2ff"/><stop offset="0.4713" stop-color="#0025ff"/><stop offset="0.4806" stop-color="#0009ff"/><stop offset="0.4898" stop-color="#0004ff"/><stop offset="0.4991" stop-color="#0004ff"/><stop offset="0.5083" stop-color="#0008ff"/><stop offset="0.5176" stop-color="#0011ff"/><stop offset="0.5268" stop-color="#0084ff"/><stop offset="0.5360" stop-color="#00fff3"/><stop offset="0.5453" stop-color="#00ffe7"/><stop offset="0.5545" stop-color="#00ffca"/><stop offset="0.5638" stop-color="#00ff49"/><stop offset="0.5730" stop-color="#06ff07"/><stop offset="0.5915" stop-color="#10ff02"/><stop offset="0.6007" stop-color="#1fff00"/><stop offset="0.6100" stop-color="#65ff00"/><stop offset="0.6192" stop-color="#aeff00"/><stop offset="0.6285" stop-color="#f0ff00"/><stop offset="0.6377" stop-color="#ffe800"/><stop offset="0.6654" stop-color="#ff9200"/><stop offset="0.6839" stop-color="#ff7100"/><stop offset="0.7024" stop-color="#ff5c00"/><stop offset="0.7209" stop-color="#ff4e00"/><stop offset="0.7763" stop-color="#ff4300"/><stop offset="0.8318" stop-color="#ff4600"/><stop offset="0.8688" stop-color="#ff5200"/><stop offset="0.8872" stop-color="#ff5f00"/><stop offset="0.9427" stop-color="#ff8200"/><stop offset="0.9982" stop-color="#ff8c00"/></linearGradient><linearGradient id="h88"><stop offset="0.0000" stop-color="#ff1c00"/><stop offset="0.0555" stop-color="#ff2900"/><stop offset="0.0739" stop-color="#ff3400"/><stop offset="0.1109" stop-color="#ff6000"/><stop offset="0.1479" stop-color="#ff9400"/><stop offset="0.1664" stop-color="#ffa900"/><stop offset="0.2033" stop-color="#ffda00"/><stop offset="0.2218" stop-color="#fff800"/><stop offset="0.2311" stop-color="#e9ff00"/><stop offset="0.2495" stop-color="#90ff00"/><stop offset="0.2680" stop-color="#29ff00"/><stop offset="0.2773" stop-color="#13ff01"/><stop offset="0.3327" stop-color="#0cff04"/><stop offset="0.3512" stop-color="#0bff05"/><stop offset="0.3604" stop-color="#05ff08"/><stop offset="0.3882" stop-color="#0bff04"/><stop offset="0.4159" stop-color="#05ff08"/><stop offset="0.4251" stop-color="#00ff23"/><stop offset="0.4344" stop-color="#00ffa0"/><stop offset="0.4436" stop-color="#00ffe8"/><stop offset="0.4529" stop-color="#00d2ff"/><stop offset="0.4713" stop-color="#0024ff"/><stop offset="0.4806" stop-color="#0009ff"/><stop offset="0.4898" stop-color="#0004ff"/><stop offset="0.4991" stop-color="#0004ff"/><stop offset="0.5083" stop-color="#0008ff"/><stop offset="0.5176" stop-color="#0012ff"/><stop offset="0.5268" stop-color="#0088ff"/><stop offset="0.5360" stop-color="#00fff3"/><stop offset="0.5453" stop-color="#00ffe6"/><stop offset="0.5545" stop-color="#00ffc9"/><stop offset="0.5638" stop-color="#00ff44"/><stop offset="0.5730" stop-color="#06ff07"/><stop offset="0.5915" stop-color="#10ff02"/><stop offset="0.6007" stop-color="#21ff00"/><stop offset="0.6100" stop-color="#68ff00"/><stop offset="0.6192" stop-color="#b1ff00"/><stop offset="0.6285" stop-color="#f3ff00"/><stop offset="0.6377" stop-color="#ffe700"/><stop offset="0.6562" stop-color="#ffac00"/><stop offset="0.6654" stop-color="#ff9200"/><stop offset="0.6839" stop-color="#ff7100"/><stop offset="0.7116" stop-color="#ff5400"/><stop offset="0.7209" stop-color="#ff4e00"/><stop offset="0.7763" stop-color="#ff4300"/><stop offset="0.8318" stop-color="#ff4600"/><stop offset="0.8688" stop-color="#ff5200"/><stop offset="0.8872" stop-color="#ff5f00"/><stop offset="0.9427" stop-color="#ff8200"/><stop offset="0.9982" stop-color="#ff8c00"/></linearGradient><linearGradient id="h89"><stop offset="0.0000" stop-color="#ff1c00"/><stop offset="0.0555" stop-color="#ff2900"/><stop offset="0.0739" stop-color="#ff3400"/><stop offset="0.1109" stop-color="#ff6100"/><stop offset="0.1664" stop-color="#ffab00"/><stop offset="0.2126" stop-color="#ffeb00"/><stop offset="0.2218" stop-color="#fffb00"/><stop offset="0.2311" stop-color="#e1ff00"/><stop offset="0.2495" stop-color="#87ff00"/><stop offset="0.2680" stop-color="#20ff00"/><stop offset="0.2773" stop-color="#12ff01"/><stop offset="0.3327" stop-color="#0cff04"/><stop offset="0.3512" stop-color="#0bff05"/><stop offset="0.3604" stop-color="#04ff08"/><stop offset="0.3697" stop-color="#0aff05"/><stop offset="0.3882" stop-color="#0bff04"/><stop offset="0.4159" stop-color="#05ff08"/><stop offset="0.4251" stop-color="#00ff22"/><stop offset="0.4344" stop-color="#00ffa0"/><stop offset="0.4436" stop-color="#00ffe8"/><stop offset="0.4529" stop-color="#00d1ff"/><stop offset="0.4713" stop-color="#0023ff"/><stop offset="0.4806" stop-color="#0009ff"/><stop offset="0.4898" stop-color="#0004ff"/><stop offset="0.4991" stop-color="#0004ff"/><stop offset="0.5083" stop-color="#0008ff"/><stop offset="0.5176" stop-color="#0012ff"/><stop offset="0.5268" stop-color="#008cff"/><stop offset="0.5360" stop-color="#00fff4"/><stop offset="0.5453" stop-color="#00ffe6"/><stop offset="0.5545" stop-color="#00ffc9"/><stop offset="0.5638" stop-color="#00ff40"/><stop offset="0.5730" stop-color="#06ff07"/><stop offset="0.5915" stop-color="#10ff02"/><stop offset="0.6007" stop-color="#24ff00"/><stop offset="0.6100" stop-color="#6bff00"/><stop offset="0.6192" stop-color="#b3ff00"/><stop offset="0.6285" stop-color="#f5ff00"/><stop offset="0.6377" stop-color="#ffe600"/><stop offset="0.6562" stop-color="#ffab00"/><stop offset="0.6654" stop-color="#ff9100"/><stop offset="0.6839" stop-color="#ff7000"/><stop offset="0.7116" stop-color="#ff5400"/><stop offset="0.7209" stop-color="#ff4e00"/><stop offset="0.7763" stop-color="#ff4300"/><stop offset="0.8318" stop-color="#ff4600"/><stop offset="0.8688" stop-color="#ff5200"/><stop offset="0.8872" stop-color="#ff5f00"/><stop offset="0.9427" stop-color="#ff8200"/><stop offset="0.9982" stop-color="#ff8c00"/></linearGradient><linearGradient id="h90"><stop offset="0.0000" stop-color="#ff1c00"/><stop offset="0.0555" stop-color="#ff2900"/><stop offset="0.0739" stop-color="#ff3400"/><stop offset="0.1109" stop-color="#ff6100"/><stop offset="0.1386" stop-color="#ff8b00"/><stop offset="0.1664" stop-color="#ffac00"/><stop offset="0.2126" stop-color="#ffed00"/><stop offset="0.2218" stop-color="#fffd00"/><stop offset="0.2311" stop-color="#dbff00"/><stop offset="0.2495" stop-color="#80ff00"/><stop offset="0.2680" stop-color="#19ff00"/><stop offset="0.2773" stop-color="#12ff01"/><stop offset="0.3327" stop-color="#0cff04"/><stop offset="0.3512" stop-color="#0bff05"/><stop offset="0.3604" stop-color="#04ff08"/><stop offset="0.3697" stop-color="#0aff05"/><stop offset="0.3882" stop-color="#0bff04"/><stop offset="0.4159" stop-color="#05ff08"/><stop offset="0.4251" stop-color="#00ff22"/><stop offset="0.4344" stop-color="#00ffa0"/><stop offset="0.4436" stop-color="#00ffe8"/><stop offset="0.4529" stop-color="#00d1ff"/><stop offset="0.4713" stop-color="#0023ff"/><stop offset="0.4806" stop-color="#0009ff"/><stop offset="0.4898" stop-color="#0004ff"/><stop offset="0.4991" stop-color="#0004ff"/><stop offset="0.5083" stop-color="#0008ff"/><stop offset="0.5176" stop-color="#0012ff"/><stop offset="0.5268" stop-color="#008cff"/><stop offset="0.5360" stop-color="#00fff4"/><stop offset="0.5453" stop-color="#00ffe6"/><stop offset="0.5545" stop-color="#00ffc8"/><stop offset="0.5638" stop-color="#00ff3f"/><stop offset="0.5730" stop-color="#06ff07"/><stop offset="0.5915" stop-color="#10ff02"/><stop offset="0.6007" stop-color="#26ff00"/><stop offset="0.6100" stop-color="#6dff00"/><stop offset="0.6192" stop-color="#b5ff00"/><stop offset="0.6285" stop-color="#f7ff00"/><stop offset="0.6377" stop-color="#ffe500"/><stop offset="0.6562" stop-color="#ffaa00"/><stop offset="0.6654" stop-color="#ff9100"/><stop offset="0.6839" stop-color="#ff7000"/><stop offset="0.7116" stop-color="#ff5400"/><stop offset="0.7209" stop-color="#ff4e00"/><stop offset="0.7763" stop-color="#ff4300"/><stop offset="0.8318" stop-color="#ff4600"/><stop offset="0.8688" stop-color="#ff5200"/><stop offset="0.8872" stop-color="#ff5f00"/><stop offset="0.9427" stop-color="#ff8200"/><stop offset="0.9982" stop-color="#ff8c00"/></linearGradient><linearGradient id="h91"><stop offset="0.0000" stop-color="#ff1c00"/><stop offset="0.0555" stop-color="#ff2900"/><stop offset="0.0739" stop-color="#ff3400"/><stop offset="0.1109" stop-color="#ff6200"/><stop offset="0.1386" stop-color="#ff8c00"/><stop offset="0.1664" stop-color="#ffad00"/><stop offset="0.2218" stop-color="#fdff00"/><stop offset="0.2311" stop-color="#d5ff00"/><stop offset="0.2495" stop-color="#78ff00"/><stop offset="0.2588" stop-color="#43ff00"/><stop offset="0.2680" stop-color="#14ff00"/><stop offset="0.2773" stop-color="#12ff01"/><stop offset="0.3327" stop-color="#0cff04"/><stop offset="0.3512" stop-color="#0aff05"/><stop offset="0.3604" stop-color="#04ff08"/><stop offset="0.3697" stop-color="#0aff05"/><stop offset="0.3882" stop-color="#0bff04"/><stop offset="0.4159" stop-color="#05ff08"/><stop offset="0.4251" stop-color="#00ff22"/><stop offset="0.4344" stop-color="#00ffa0"/><stop offset="0.4436" stop-color="#00ffe8"/><stop offset="0.4529" stop-color="#00d1ff"/><stop offset="0.4713" stop-color="#0023ff"/><stop offset="0.4806" stop-color="#0009ff"/><stop offset="0.4898" stop-color="#0004ff"/><stop offset="0.4991" stop-color="#0004ff"/><stop offset="0.5083" stop-color="#0008ff"/><stop offset="0.5176" stop-color="#0012ff"/><stop offset="0.5268" stop-color="#008cff"/><stop offset="0.5360" stop-color="#00fff4"/><stop offset="0.5453" stop-color="#00ffe6"/><stop offset="0.5545" stop-color="#00ffc8"/><stop offset="0.5638" stop-color="#00ff3e"/><stop offset="0.5730" stop-color="#06ff07"/><stop offset="0.5915" stop-color="#11ff02"/><stop offset="0.6007" stop-color="#28ff00"/><stop offset="0.6100" stop-color="#70ff00"/><stop offset="0.6192" stop-color="#b8ff00"/><stop offset="0.6285" stop-color="#f9ff00"/><stop offset="0.6377" stop-color="#ffe400"/><stop offset="0.6562" stop-color="#ffa900"/><stop offset="0.6654" stop-color="#ff9000"/><stop offset="0.6839" stop-color="#ff7000"/><stop offset="0.7116" stop-color="#ff5400"/><stop offset="0.7209" stop-color="#ff4e00"/><stop offset="0.7763" stop-color="#ff4300"/><stop offset="0.8318" stop-color="#ff4600"/><stop offset="0.8688" stop-color="#ff5200"/><stop offset="0.8872" stop-color="#ff5f00"/><stop offset="0.9427" stop-color="#ff8200"/><stop offset="0.9982" stop-color="#ff8c00"/></linearGradient><linearGradient id="h92"><stop offset="0.0000" stop-color="#ff1c00"/><stop offset="0.0555" stop-color="#ff2900"/><stop offset="0.0739" stop-color="#ff3400"/><stop offset="0.1109" stop-color="#ff6200"/><stop offset="0.1386" stop-color="#ff8c00"/><stop offset="0.1664" stop-color="#ffae00"/><stop offset="0.2126" stop-color="#fff200"/><stop offset="0.2218" stop-color="#f8ff00"/><stop offset="0.2403" stop-color="#a2ff00"/><stop offset="0.2588" stop-color="#3cff00"/><stop offset="0.2680" stop-color="#14ff00"/><stop offset="0.2773" stop-color="#12ff01"/><stop offset="0.3327" stop-color="#0cff04"/><stop offset="0.3512" stop-color="#0aff05"/><stop offset="0.3604" stop-color="#04ff08"/><stop offset="0.3697" stop-color="#0aff05"/><stop offset="0.3882" stop-color="#0bff04"/><stop offset="0.4159" stop-color="#05ff08"/><stop offset="0.4251" stop-color="#00ff22"/><stop offset="0.4344" stop-color="#00ffa0"/><stop offset="0.4436" stop-color="#00ffe9"/><stop offset="0.4529" stop-color="#00d1ff"/><stop offset="0.4713" stop-color="#0023ff"/><stop offset="0.4806" stop-color="#0009ff"/><stop offset="0.4898" stop-color="#0004ff"/><stop offset="0.4991" stop-color="#0004ff"/><stop offset="0.5083" stop-color="#0008ff"/><stop offset="0.5176" stop-color="#0012ff"/><stop offset="0.5268" stop-color="#008cff"/><stop offset="0.5360" stop-color="#00fff4"/><stop offset="0.5453" stop-color="#00ffe6"/><stop offset="0.5545" stop-color="#00ffc8"/><stop offset="0.5638" stop-color="#00ff3d"/><stop offset="0.5730" stop-color="#06ff07"/><stop offset="0.5915" stop-color="#11ff02"/><stop offset="0.6007" stop-color="#2aff00"/><stop offset="0.6100" stop-color="#72ff00"/><stop offset="0.6192" stop-color="#baff00"/><stop offset="0.6285" stop-color="#fcff00"/><stop offset="0.6562" stop-color="#ffa800"/><stop offset="0.6654" stop-color="#ff9000"/><stop offset="0.6839" stop-color="#ff6f00"/><stop offset="0.7116" stop-color="#ff5400"/><stop offset="0.7209" stop-color="#ff4e00"/><stop offset="0.7763" stop-color="#ff4300"/><stop offset="0.8318" stop-color="#ff4600"/><stop offset="0.8688" stop-color="#ff5200"/><stop offset="0.8872" stop-color="#ff5f00"/><stop offset="0.9427" stop-color="#ff8200"/><stop offset="0.9982" stop-color="#ff8c00"/></linearGradient><linearGradient id="cbar" x1="0" y1="0" x2="0" y2="1"><stop offset="0.00" stop-color="#ff1c00"/><stop offset="0.05" stop-color="#ff5200"/><stop offset="0.10" stop-color="#ff8800"/><stop offset="0.15" stop-color="#ffb000"/><stop offset="0.20" stop-color="#ffd700"/><stop offset="0.25" stop-color="#ffff00"/><stop offset="0.30" stop-color="#a5ff00"/><stop offset="0.35" stop-color="#4aff00"/><stop offset="0.40" stop-color="#12ff01"/><stop offset="0.45" stop-color="#0eff03"/><stop offset="0.50" stop-color="#0aff05"/><stop offset="0.55" stop-color="#06ff07"/><stop offset="0.60" stop-color="#02ff09"/><stop offset="0.65" stop-color="#00ff34"/><stop offset="0.70" stop-color="#00ff89"/><stop offset="0.75" stop-color="#00ffdd"/><stop offset="0.80" stop-color="#00d6ff"/><stop offset="0.85" stop-color="#0090ff"/><stop offset="0.90" stop-color="#004bff"/><stop offset="0.95" stop-color="#0011ff"/><stop offset="1.00" stop-color="#0000ff"/></linearGradient><filter id="vblur" x="0" y="0" width="1" height="1" filterUnits="objectBoundingBox"><feGaussianBlur stdDeviation="0 1.3"/></filter><clipPath id="clipD"><rect x="319.4" y="230.6" width="216.4" height="172.9"/></clipPath></defs>
<g clip-path="url(#clipD)"><g filter="url(#vblur)"><rect x="319.4" y="224.6" width="216.4" height="2.6" fill="url(#h0)"/><rect x="319.4" y="226.6" width="216.4" height="2.6" fill="url(#h1)"/><rect x="319.4" y="228.6" width="216.4" height="2.6" fill="url(#h2)"/><rect x="319.4" y="230.6" width="216.4" height="2.6" fill="url(#h3)"/><rect x="319.4" y="232.6" width="216.4" height="2.6" fill="url(#h4)"/><rect x="319.4" y="234.6" width="216.4" height="2.6" fill="url(#h5)"/><rect x="319.4" y="236.6" width="216.4" height="2.6" fill="url(#h6)"/><rect x="319.4" y="238.6" width="216.4" height="2.6" fill="url(#h7)"/><rect x="319.4" y="240.6" width="216.4" height="2.6" fill="url(#h8)"/><rect x="319.4" y="242.6" width="216.4" height="2.6" fill="url(#h9)"/><rect x="319.4" y="244.6" width="216.4" height="2.6" fill="url(#h10)"/><rect x="319.4" y="246.6" width="216.4" height="2.6" fill="url(#h11)"/><rect x="319.4" y="248.6" width="216.4" height="2.6" fill="url(#h12)"/><rect x="319.4" y="250.6" width="216.4" height="2.6" fill="url(#h13)"/><rect x="319.4" y="252.6" width="216.4" height="2.6" fill="url(#h14)"/><rect x="319.4" y="254.6" width="216.4" height="2.6" fill="url(#h15)"/><rect x="319.4" y="256.6" width="216.4" height="2.6" fill="url(#h16)"/><rect x="319.4" y="258.6" width="216.4" height="2.6" fill="url(#h17)"/><rect x="319.4" y="260.6" width="216.4" height="2.6" fill="url(#h18)"/><rect x="319.4" y="262.6" width="216.4" height="2.6" fill="url(#h19)"/><rect x="319.4" y="264.6" width="216.4" height="2.6" fill="url(#h20)"/><rect x="319.4" y="266.6" width="216.4" height="2.6" fill="url(#h21)"/><rect x="319.4" y="268.6" width="216.4" height="2.6" fill="url(#h22)"/><rect x="319.4" y="270.6" width="216.4" height="2.6" fill="url(#h23)"/><rect x="319.4" y="272.6" width="216.4" height="2.6" fill="url(#h24)"/><rect x="319.4" y="274.6" width="216.4" height="2.6" fill="url(#h25)"/><rect x="319.4" y="276.6" width="216.4" height="2.6" fill="url(#h26)"/><rect x="319.4" y="278.6" width="216.4" height="2.6" fill="url(#h27)"/><rect x="319.4" y="280.6" width="216.4" height="2.6" fill="url(#h28)"/><rect x="319.4" y="282.6" width="216.4" height="2.6" fill="url(#h29)"/><rect x="319.4" y="284.6" width="216.4" height="2.6" fill="url(#h30)"/><rect x="319.4" y="286.6" width="216.4" height="2.6" fill="url(#h31)"/><rect x="319.4" y="288.6" width="216.4" height="2.6" fill="url(#h32)"/><rect x="319.4" y="290.6" width="216.4" height="2.6" fill="url(#h33)"/><rect x="319.4" y="292.6" width="216.4" height="2.6" fill="url(#h34)"/><rect x="319.4" y="294.6" width="216.4" height="2.6" fill="url(#h35)"/><rect x="319.4" y="296.6" width="216.4" height="2.6" fill="url(#h36)"/><rect x="319.4" y="298.6" width="216.4" height="2.6" fill="url(#h37)"/><rect x="319.4" y="300.6" width="216.4" height="2.6" fill="url(#h38)"/><rect x="319.4" y="302.6" width="216.4" height="2.6" fill="url(#h39)"/><rect x="319.4" y="304.6" width="216.4" height="2.6" fill="url(#h40)"/><rect x="319.4" y="306.6" width="216.4" height="2.6" fill="url(#h41)"/><rect x="319.4" y="308.6" width="216.4" height="2.6" fill="url(#h42)"/><rect x="319.4" y="310.6" width="216.4" height="2.6" fill="url(#h43)"/><rect x="319.4" y="312.6" width="216.4" height="2.6" fill="url(#h44)"/><rect x="319.4" y="314.6" width="216.4" height="2.6" fill="url(#h45)"/><rect x="319.4" y="316.6" width="216.4" height="2.6" fill="url(#h46)"/><rect x="319.4" y="318.6" width="216.4" height="2.6" fill="url(#h47)"/><rect x="319.4" y="320.6" width="216.4" height="2.6" fill="url(#h48)"/><rect x="319.4" y="322.6" width="216.4" height="2.6" fill="url(#h49)"/><rect x="319.4" y="324.6" width="216.4" height="2.6" fill="url(#h50)"/><rect x="319.4" y="326.6" width="216.4" height="2.6" fill="url(#h51)"/><rect x="319.4" y="328.6" width="216.4" height="2.6" fill="url(#h52)"/><rect x="319.4" y="330.6" width="216.4" height="2.6" fill="url(#h53)"/><rect x="319.4" y="332.6" width="216.4" height="2.6" fill="url(#h54)"/><rect x="319.4" y="334.6" width="216.4" height="2.6" fill="url(#h55)"/><rect x="319.4" y="336.6" width="216.4" height="2.6" fill="url(#h56)"/><rect x="319.4" y="338.6" width="216.4" height="2.6" fill="url(#h57)"/><rect x="319.4" y="340.6" width="216.4" height="2.6" fill="url(#h58)"/><rect x="319.4" y="342.6" width="216.4" height="2.6" fill="url(#h59)"/><rect x="319.4" y="344.6" width="216.4" height="2.6" fill="url(#h60)"/><rect x="319.4" y="346.6" width="216.4" height="2.6" fill="url(#h61)"/><rect x="319.4" y="348.6" width="216.4" height="2.6" fill="url(#h62)"/><rect x="319.4" y="350.6" width="216.4" height="2.6" fill="url(#h63)"/><rect x="319.4" y="352.6" width="216.4" height="2.6" fill="url(#h64)"/><rect x="319.4" y="354.6" width="216.4" height="2.6" fill="url(#h65)"/><rect x="319.4" y="356.6" width="216.4" height="2.6" fill="url(#h66)"/><rect x="319.4" y="358.6" width="216.4" height="2.6" fill="url(#h67)"/><rect x="319.4" y="360.6" width="216.4" height="2.6" fill="url(#h68)"/><rect x="319.4" y="362.6" width="216.4" height="2.6" fill="url(#h69)"/><rect x="319.4" y="364.6" width="216.4" height="2.6" fill="url(#h70)"/><rect x="319.4" y="366.6" width="216.4" height="2.6" fill="url(#h71)"/><rect x="319.4" y="368.6" width="216.4" height="2.6" fill="url(#h72)"/><rect x="319.4" y="370.6" width="216.4" height="2.6" fill="url(#h73)"/><rect x="319.4" y="372.6" width="216.4" height="2.6" fill="url(#h74)"/><rect x="319.4" y="374.6" width="216.4" height="2.6" fill="url(#h75)"/><rect x="319.4" y="376.6" width="216.4" height="2.6" fill="url(#h76)"/><rect x="319.4" y="378.6" width="216.4" height="2.6" fill="url(#h77)"/><rect x="319.4" y="380.6" width="216.4" height="2.6" fill="url(#h78)"/><rect x="319.4" y="382.6" width="216.4" height="2.6" fill="url(#h79)"/><rect x="319.4" y="384.6" width="216.4" height="2.6" fill="url(#h80)"/><rect x="319.4" y="386.6" width="216.4" height="2.6" fill="url(#h81)"/><rect x="319.4" y="388.6" width="216.4" height="2.6" fill="url(#h82)"/><rect x="319.4" y="390.6" width="216.4" height="2.6" fill="url(#h83)"/><rect x="319.4" y="392.6" width="216.4" height="2.6" fill="url(#h84)"/><rect x="319.4" y="394.6" width="216.4" height="2.6" fill="url(#h85)"/><rect x="319.4" y="396.6" width="216.4" height="2.6" fill="url(#h86)"/><rect x="319.4" y="398.6" width="216.4" height="2.6" fill="url(#h87)"/><rect x="319.4" y="400.6" width="216.4" height="2.6" fill="url(#h88)"/><rect x="319.4" y="402.6" width="216.4" height="2.6" fill="url(#h89)"/><rect x="319.4" y="404.6" width="216.4" height="2.6" fill="url(#h90)"/><rect x="319.4" y="406.6" width="216.4" height="2.6" fill="url(#h91)"/><rect x="319.4" y="408.6" width="216.4" height="2.6" fill="url(#h92)"/></g></g>
<path d="M520.8 230.6v6" stroke="#e8f000" stroke-width="1.8" opacity=".95" fill="none"/>
<path d="M520.8 236.6v5" stroke="#ffe000" stroke-width="1.6" opacity=".7" fill="none"/>
<path d="M520.8 241.6v4" stroke="#ffc000" stroke-width="1.4" opacity=".4" fill="none"/>
<g fill="none" stroke="#3563b3" stroke-width="2.6" stroke-dasharray="6.2 3.2">
<polyline points="399.1,231.5 399.5,234.5 399.8,237.5 400.2,240.5 400.5,243.5 400.8,246.5 401,249.5 401.2,252.5 401.4,255.5 401.6,258.5 401.7,261.5 401.8,264.5 401.9,267.5 402,270.5 402.2,273.5 402.3,276.5 402.5,279.5 402.6,282.5 402.7,285.5 402.8,288.5 402.9,291.5 402.9,294.5 403.1,297.5 403.2,300.5 403.4,303.5 403.6,306.5 403.6,309.5 403.6,312.5 403.5,315.5 403.3,318.5 403.2,321.5 403.1,324.5 402.9,327.5 402.7,330.5 402.5,333.5 402.3,336.5 402,339.5 401.6,342.5 401.2,345.5 400.7,348.5 400.2,351.5 399.6,354.5 398.9,357.5 398.1,360.5 397.2,363.5 396.1,366.5 394.8,369.5 393.5,372.5 392.1,375.5 390.7,378.5 389.3,381.5 387.8,384.5 386.3,387.5 384.8,390.5 383.2,393.5 381.5,396.5 379.7,399.5 377.9,402.5"/>
<polyline points="441.5,231.5 441.2,234.5 440.7,237.5 440.2,240.5 439.6,243.5 439,246.5 438.4,249.5 437.7,252.5 437.1,255.5 436.3,258.5 435.4,261.5 434.5,264.5 433.5,267.5 432.7,270.5 431.9,273.5 431.1,276.5 430.4,279.5 429.7,282.5 429.1,285.5 428.5,288.5 427.9,291.5 427.3,294.5 426.7,297.5 426.1,300.5 425.5,303.5 424.9,306.5 424.3,309.5 423.7,312.5 423.1,315.5 422.5,318.5 421.9,321.5 421.3,324.5 420.7,327.5 420.1,330.5 419.5,333.5 418.9,336.5 418.4,339.5 417.8,342.5 417.3,345.5 416.7,348.5 416.2,351.5 415.6,354.5 415.1,357.5 414.5,360.5 413.8,363.5 413,366.5 412.2,369.5 411.5,372.5 410.9,375.5 410.4,378.5 410.1,381.5 409.8,384.5 409.5,387.5 409.4,390.5 409.4,393.5 409.4,396.5 409.4,399.5 409.4,402.5"/>
</g>
<polygon points="405.4,358.1 407,362.9 412.2,363 408.1,366.1 409.6,370.9 405.4,368 401.2,370.9 402.7,366.1 398.6,363 403.8,362.9" fill="#ea1f9e"/>
<rect x="513" y="264" width="11" height="105.4" fill="url(#cbar)"/>
<path d="M524.3 264v105.4" stroke="#222" stroke-width="1.6" fill="none"/>
<text x="518.4" y="258" text-anchor="middle" font-size="20px">1</text>
<text x="512.4" y="392.4" text-anchor="middle" font-size="20px">0</text>
<path d="M350 403.5v-2M396.4 403.5v-2M442.9 403.5v-2M489.3 403.5v-2M326.8 403.5v-1.5M373.2 403.5v-1.5M419.7 403.5v-1.5M466.1 403.5v-1.5M512.5 403.5v-1.5M319.4 400.4h2.2M319.4 369h2.2M319.4 337.6h2.2M319.4 306.2h2.2M319.4 274.8h2.2M319.4 243.4h2.2" stroke="#000" stroke-width="1.3" fill="none"/>
<path d="M319.4 230.3H536V403.5" stroke="#3a3a3a" stroke-width="1" fill="none" opacity=".9"/>
<path d="M319.4 230.6V403.5H535.8" stroke="#3a3a3a" stroke-width="0.8" fill="none" opacity=".45"/>
<g font-weight="bold" font-size="13.8px" text-anchor="end">
<text x="315.8" y="405">-0.1</text>
<text x="315.8" y="373.6">0.0</text>
<text x="315.8" y="342.2">0.1</text>
<text x="315.8" y="310.8">0.2</text>
<text x="315.8" y="279.4">0.3</text>
<text x="315.8" y="248">0.4</text>
</g>
<g font-weight="bold" font-size="14.3px" text-anchor="middle">
<text x="350.4" y="418.2">0.3</text>
<text x="396.8" y="418.2">0.6</text>
<text x="443.3" y="418.2">0.9</text>
<text x="489.7" y="418.2">1.2</text>
<text x="536.2" y="418.2">1.5</text>
</g>
<text x="322.2" y="256" font-size="24.4px">(d)</text>
<text transform="translate(292.6 322.8) rotate(-90)" text-anchor="middle" font-size="23px">&#945;</text>
<text x="428.4" y="444.2" text-anchor="middle" font-weight="bold" font-size="22.5px">Frequency(THz)</text>
</g>
</svg></body></html>
